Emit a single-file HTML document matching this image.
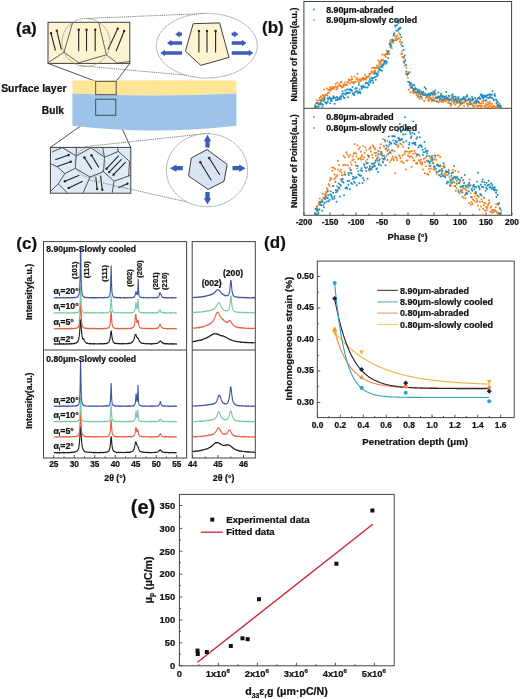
<!DOCTYPE html>
<html><head><meta charset="utf-8"><title>figure</title>
<style>html,body{margin:0;padding:0;background:#fff;width:520px;height:699px;overflow:hidden}svg{display:block;filter:blur(0.35px)}
text{font-family:"Liberation Sans",Arial,sans-serif;font-weight:bold;stroke:#111;stroke-width:0.22px}</style></head>
<body><svg width="520" height="699" viewBox="0 0 520 699">
<rect width="520" height="699" fill="#fff"/>
<text x="16" y="33.5" font-size="17" text-anchor="start" fill="#111" >(a)</text>
<line x1="48" y1="63.4" x2="95.7" y2="81.3" stroke="#404040" stroke-width="0.9" />
<line x1="129.8" y1="63.4" x2="116.2" y2="81.3" stroke="#404040" stroke-width="0.9" />
<line x1="95.7" y1="115.3" x2="50.4" y2="147.4" stroke="#404040" stroke-width="0.9" />
<line x1="115.8" y1="115.3" x2="130.8" y2="147.4" stroke="#404040" stroke-width="0.9" />
<path d="M72.4,80.6 Q154.5,79.8 236.4,80.6 L236.4,93.6 Q154.5,97.4 72.4,93.6 Z" fill="#ffe696"/>
<path d="M72.4,93.6 Q154.5,97.4 236.4,93.6 L236.4,125.8 Q154.5,135.2 72.4,125.8 Z" fill="#9dc3e8"/>
<rect x="95.7" y="81.3" width="20.5" height="13.4" fill="none" stroke="#404040" stroke-width="0.9"/>
<rect x="95.7" y="99.2" width="20.1" height="16.1" fill="none" stroke="#404040" stroke-width="0.9"/>
<text x="1.2" y="91.9" font-size="10.4" text-anchor="start" fill="#111" >Surface layer</text>
<text x="41.8" y="113.5" font-size="10.2" text-anchor="start" fill="#111" >Bulk</text>
<rect x="48" y="22.3" width="81.8" height="41.1" fill="#fff4d2" stroke="#404040" stroke-width="1"/>
<line x1="72.7" y1="22.3" x2="64" y2="52.2" stroke="#404040" stroke-width="0.8" />
<line x1="64" y1="52.2" x2="48.5" y2="62.5" stroke="#404040" stroke-width="0.8" />
<line x1="64" y1="52.2" x2="79.6" y2="63.4" stroke="#404040" stroke-width="0.8" />
<line x1="98.6" y1="22.3" x2="106.4" y2="54.8" stroke="#404040" stroke-width="0.8" />
<line x1="106.4" y1="54.8" x2="78.7" y2="62.8" stroke="#404040" stroke-width="0.8" />
<line x1="106.4" y1="54.8" x2="117.7" y2="63.4" stroke="#404040" stroke-width="0.8" />
<line x1="117.7" y1="63" x2="129.8" y2="61.5" stroke="#404040" stroke-width="0.8" />
<line x1="55.4" y1="50.5" x2="51" y2="33.2" stroke="#262626" stroke-width="1.1" />
<circle cx="51" cy="33.2" r="1.2" fill="#262626"/>
<line x1="61.4" y1="49.6" x2="56.8" y2="30.6" stroke="#262626" stroke-width="1.1" />
<circle cx="56.8" cy="30.6" r="1.2" fill="#262626"/>
<line x1="78.7" y1="51.3" x2="78.7" y2="29.7" stroke="#262626" stroke-width="1.1" />
<circle cx="78.7" cy="29.7" r="1.2" fill="#262626"/>
<line x1="86.5" y1="51.3" x2="86.5" y2="29.7" stroke="#262626" stroke-width="1.1" />
<circle cx="86.5" cy="29.7" r="1.2" fill="#262626"/>
<line x1="95.2" y1="51.3" x2="95.2" y2="29.7" stroke="#262626" stroke-width="1.1" />
<circle cx="95.2" cy="29.7" r="1.2" fill="#262626"/>
<line x1="108" y1="49.6" x2="117.7" y2="28.8" stroke="#262626" stroke-width="1.1" />
<circle cx="117.7" cy="28.8" r="1.2" fill="#262626"/>
<line x1="116" y1="51.3" x2="124.2" y2="31" stroke="#262626" stroke-width="1.1" />
<circle cx="124.2" cy="31" r="1.2" fill="#262626"/>
<circle cx="86" cy="42.5" r="24" fill="none" stroke="#878d78" stroke-width="1" stroke-dasharray="1.2,0.7"/>
<line x1="86" y1="18.5" x2="205" y2="13.5" stroke="#878d78" stroke-width="1" stroke-dasharray="1.2,0.7"/>
<line x1="80" y1="65.6" x2="212" y2="77.6" stroke="#878d78" stroke-width="1" stroke-dasharray="1.2,0.7"/>
<ellipse cx="206.8" cy="45.7" rx="50.5" ry="32.3" fill="#fff" stroke="#878d78" stroke-width="1" stroke-dasharray="1.2,0.7"/>
<polygon points="193.2,23.7 219.6,22.9 229,57.4 200.8,65.4 185.4,51.2" fill="#fff4d2" stroke="#404040" stroke-width="1" />
<line x1="198.9" y1="52.5" x2="198.9" y2="31" stroke="#262626" stroke-width="1.1" />
<circle cx="198.9" cy="31" r="1.2" fill="#262626"/>
<line x1="207" y1="52.5" x2="207" y2="31" stroke="#262626" stroke-width="1.1" />
<circle cx="207" cy="31" r="1.2" fill="#262626"/>
<line x1="215.6" y1="52.5" x2="215.6" y2="31" stroke="#262626" stroke-width="1.1" />
<circle cx="215.6" cy="31" r="1.2" fill="#262626"/>
<polygon points="182,32.55 179.7,32.55 179.7,31 175.2,34.2 179.7,37.4 179.7,35.85 182,35.85" fill="#3d5eb8" stroke="none" stroke-width="0" />
<polygon points="182,41.35 171.5,41.35 171.5,39.8 167,43 171.5,46.2 171.5,44.65 182,44.65" fill="#3d5eb8" stroke="none" stroke-width="0" />
<polygon points="182,51.35 164.9,51.35 164.9,49.8 160.4,53 164.9,56.2 164.9,54.65 182,54.65" fill="#3d5eb8" stroke="none" stroke-width="0" />
<polygon points="231.7,35.85 234,35.85 234,37.4 238.5,34.2 234,31 234,32.55 231.7,32.55" fill="#3d5eb8" stroke="none" stroke-width="0" />
<polygon points="231.7,44.65 242,44.65 242,46.2 246.5,43 242,39.8 242,41.35 231.7,41.35" fill="#3d5eb8" stroke="none" stroke-width="0" />
<polygon points="231.7,54.65 248.8,54.65 248.8,56.2 253.3,53 248.8,49.8 248.8,51.35 231.7,51.35" fill="#3d5eb8" stroke="none" stroke-width="0" />
<rect x="50.4" y="147.4" width="80.4" height="45.8" fill="#deebf7" stroke="#404040" stroke-width="1"/>
<line x1="51.8" y1="152" x2="62.4" y2="147.6" stroke="#404040" stroke-width="0.9" />
<line x1="62.4" y1="147.6" x2="76.2" y2="156" stroke="#404040" stroke-width="0.9" />
<line x1="76.2" y1="156" x2="76.3" y2="147.6" stroke="#404040" stroke-width="0.9" />
<line x1="50.5" y1="163.5" x2="57.3" y2="166.8" stroke="#404040" stroke-width="0.9" />
<line x1="57.3" y1="166.8" x2="64.9" y2="173.6" stroke="#404040" stroke-width="0.9" />
<line x1="64.9" y1="173.6" x2="75.3" y2="168.3" stroke="#404040" stroke-width="0.9" />
<line x1="64.9" y1="173.6" x2="58.2" y2="183.8" stroke="#404040" stroke-width="0.9" />
<line x1="58.2" y1="183.8" x2="50.5" y2="191.4" stroke="#404040" stroke-width="0.9" />
<line x1="58.2" y1="183.8" x2="67.5" y2="193" stroke="#404040" stroke-width="0.9" />
<line x1="90" y1="177" x2="83" y2="193" stroke="#404040" stroke-width="0.9" />
<line x1="76.2" y1="156" x2="91" y2="147.7" stroke="#404040" stroke-width="0.9" />
<line x1="91" y1="147.7" x2="104.5" y2="157.3" stroke="#404040" stroke-width="0.9" />
<line x1="104.5" y1="157.3" x2="103.5" y2="171.7" stroke="#404040" stroke-width="0.9" />
<line x1="103.5" y1="171.7" x2="90" y2="177" stroke="#404040" stroke-width="0.9" />
<line x1="90" y1="177" x2="75.3" y2="168.3" stroke="#404040" stroke-width="0.9" />
<line x1="75.3" y1="168.3" x2="76.2" y2="156" stroke="#404040" stroke-width="0.9" />
<line x1="102.7" y1="147.6" x2="104.5" y2="157.3" stroke="#404040" stroke-width="0.9" />
<line x1="104.5" y1="157.3" x2="118.3" y2="151.4" stroke="#404040" stroke-width="0.9" />
<line x1="118.3" y1="151.4" x2="117.4" y2="147.6" stroke="#404040" stroke-width="0.9" />
<line x1="118.3" y1="151.4" x2="129.5" y2="161.3" stroke="#404040" stroke-width="0.9" />
<line x1="129.5" y1="161.3" x2="128.7" y2="176" stroke="#404040" stroke-width="0.9" />
<line x1="128.7" y1="176" x2="114" y2="181.2" stroke="#404040" stroke-width="0.9" />
<line x1="114" y1="181.2" x2="103.5" y2="171.7" stroke="#404040" stroke-width="0.9" />
<line x1="114" y1="181.2" x2="112.2" y2="192.8" stroke="#404040" stroke-width="0.9" />
<line x1="128.7" y1="176" x2="130.8" y2="175.5" stroke="#404040" stroke-width="0.9" />
<line x1="55.2" y1="159.7" x2="68.7" y2="155" stroke="#262626" stroke-width="1.1" />
<circle cx="68.7" cy="155" r="1.2" fill="#262626"/>
<line x1="57.3" y1="166.4" x2="70.8" y2="161.8" stroke="#262626" stroke-width="1.1" />
<circle cx="70.8" cy="161.8" r="1.2" fill="#262626"/>
<line x1="79.3" y1="175.3" x2="64.9" y2="181.2" stroke="#262626" stroke-width="1.1" />
<circle cx="64.9" cy="181.2" r="1.2" fill="#262626"/>
<line x1="82.7" y1="181.2" x2="68.7" y2="188" stroke="#262626" stroke-width="1.1" />
<circle cx="68.7" cy="188" r="1.2" fill="#262626"/>
<line x1="92" y1="169.4" x2="84.4" y2="157.5" stroke="#262626" stroke-width="1.1" />
<circle cx="84.4" cy="157.5" r="1.2" fill="#262626"/>
<line x1="98.8" y1="167.4" x2="91.5" y2="155.2" stroke="#262626" stroke-width="1.1" />
<circle cx="91.5" cy="155.2" r="1.2" fill="#262626"/>
<line x1="118.7" y1="155.7" x2="106.6" y2="168.7" stroke="#262626" stroke-width="1.1" />
<circle cx="106.6" cy="168.7" r="1.2" fill="#262626"/>
<line x1="121.7" y1="159.1" x2="109.2" y2="172.1" stroke="#262626" stroke-width="1.1" />
<circle cx="109.2" cy="172.1" r="1.2" fill="#262626"/>
<line x1="125.6" y1="162.2" x2="113.5" y2="174.7" stroke="#262626" stroke-width="1.1" />
<circle cx="113.5" cy="174.7" r="1.2" fill="#262626"/>
<line x1="95.8" y1="177.3" x2="97.1" y2="189" stroke="#262626" stroke-width="1.1" />
<circle cx="97.1" cy="189" r="1.2" fill="#262626"/>
<line x1="100.5" y1="175.6" x2="102.3" y2="189.8" stroke="#262626" stroke-width="1.1" />
<circle cx="102.3" cy="189.8" r="1.2" fill="#262626"/>
<line x1="118.3" y1="187.7" x2="127.4" y2="183.8" stroke="#262626" stroke-width="1.1" />
<circle cx="127.4" cy="183.8" r="1.2" fill="#262626"/>
<circle cx="90" cy="162.3" r="15" fill="none" stroke="#878d78" stroke-width="0.9" stroke-dasharray="1.2,0.7"/>
<line x1="85" y1="146.6" x2="210" y2="133.2" stroke="#878d78" stroke-width="1" stroke-dasharray="1.2,0.7"/>
<line x1="88" y1="179.6" x2="205" y2="206" stroke="#878d78" stroke-width="1" stroke-dasharray="1.2,0.7"/>
<ellipse cx="207" cy="170.2" rx="40.6" ry="36.5" fill="#fff" stroke="#878d78" stroke-width="1" stroke-dasharray="1.2,0.7"/>
<polygon points="207.1,149.6 227.2,164.4 224,181.3 208.2,189.4 188.5,176 191.3,158" fill="#dae3f3" stroke="#404040" stroke-width="1" />
<line x1="211.3" y1="180.3" x2="200.3" y2="162.3" stroke="#262626" stroke-width="1.1" />
<circle cx="200.3" cy="162.3" r="1.2" fill="#262626"/>
<line x1="219.8" y1="175" x2="209.2" y2="158" stroke="#262626" stroke-width="1.1" />
<circle cx="209.2" cy="158" r="1.2" fill="#262626"/>
<polygon points="209.65,147.5 209.65,141.2 211.2,141.2 207.5,134.8 203.8,141.2 205.35,141.2 205.35,147.5" fill="#3d5eb8" stroke="none" stroke-width="0" />
<polygon points="205.35,192 205.35,198.2 203.8,198.2 207.5,204.6 211.2,198.2 209.65,198.2 209.65,192" fill="#3d5eb8" stroke="none" stroke-width="0" />
<polygon points="182.8,166.05 176.4,166.05 176.4,164.5 170,168.2 176.4,171.9 176.4,170.35 182.8,170.35" fill="#3d5eb8" stroke="none" stroke-width="0" />
<polygon points="232.5,170.35 239.2,170.35 239.2,171.9 245.6,168.2 239.2,164.5 239.2,166.05 232.5,166.05" fill="#3d5eb8" stroke="none" stroke-width="0" />
<rect x="303.9" y="1.5" width="207.70000000000005" height="213.8" fill="#fff" stroke="#444" stroke-width="1"/>
<line x1="303.9" y1="108.3" x2="511.6" y2="108.3" stroke="#444" stroke-width="1" />
<path d="M313.7,107.5a1.0,1.0 0 1,0 2,0a1.0,1.0 0 1,0 -2,0M314.44,105.93a1.0,1.0 0 1,0 2,0a1.0,1.0 0 1,0 -2,0M314.75,106.15a1.0,1.0 0 1,0 2,0a1.0,1.0 0 1,0 -2,0M315.34,106.68a1.0,1.0 0 1,0 2,0a1.0,1.0 0 1,0 -2,0M315.95,100.16a1.0,1.0 0 1,0 2,0a1.0,1.0 0 1,0 -2,0M316.41,103.1a1.0,1.0 0 1,0 2,0a1.0,1.0 0 1,0 -2,0M317.2,103.27a1.0,1.0 0 1,0 2,0a1.0,1.0 0 1,0 -2,0M317.49,104.23a1.0,1.0 0 1,0 2,0a1.0,1.0 0 1,0 -2,0M317.93,100.57a1.0,1.0 0 1,0 2,0a1.0,1.0 0 1,0 -2,0M318.64,97.89a1.0,1.0 0 1,0 2,0a1.0,1.0 0 1,0 -2,0M319.22,99.99a1.0,1.0 0 1,0 2,0a1.0,1.0 0 1,0 -2,0M319.84,101.77a1.0,1.0 0 1,0 2,0a1.0,1.0 0 1,0 -2,0M319.96,96.55a1.0,1.0 0 1,0 2,0a1.0,1.0 0 1,0 -2,0M320.67,99.62a1.0,1.0 0 1,0 2,0a1.0,1.0 0 1,0 -2,0M321.24,98.05a1.0,1.0 0 1,0 2,0a1.0,1.0 0 1,0 -2,0M321.77,95.35a1.0,1.0 0 1,0 2,0a1.0,1.0 0 1,0 -2,0M322.47,94.98a1.0,1.0 0 1,0 2,0a1.0,1.0 0 1,0 -2,0M322.86,96.13a1.0,1.0 0 1,0 2,0a1.0,1.0 0 1,0 -2,0M323.17,89.51a1.0,1.0 0 1,0 2,0a1.0,1.0 0 1,0 -2,0M323.78,96.65a1.0,1.0 0 1,0 2,0a1.0,1.0 0 1,0 -2,0M324.46,94.96a1.0,1.0 0 1,0 2,0a1.0,1.0 0 1,0 -2,0M325.03,94.71a1.0,1.0 0 1,0 2,0a1.0,1.0 0 1,0 -2,0M325.56,94.17a1.0,1.0 0 1,0 2,0a1.0,1.0 0 1,0 -2,0M325.84,88.52a1.0,1.0 0 1,0 2,0a1.0,1.0 0 1,0 -2,0M326.22,95.54a1.0,1.0 0 1,0 2,0a1.0,1.0 0 1,0 -2,0M326.91,92.93a1.0,1.0 0 1,0 2,0a1.0,1.0 0 1,0 -2,0M327.4,90.09a1.0,1.0 0 1,0 2,0a1.0,1.0 0 1,0 -2,0M328.06,92.58a1.0,1.0 0 1,0 2,0a1.0,1.0 0 1,0 -2,0M328.25,89.7a1.0,1.0 0 1,0 2,0a1.0,1.0 0 1,0 -2,0M329.15,87.24a1.0,1.0 0 1,0 2,0a1.0,1.0 0 1,0 -2,0M329.59,90.39a1.0,1.0 0 1,0 2,0a1.0,1.0 0 1,0 -2,0M329.86,88.81a1.0,1.0 0 1,0 2,0a1.0,1.0 0 1,0 -2,0M330.38,88.61a1.0,1.0 0 1,0 2,0a1.0,1.0 0 1,0 -2,0M331.27,89.04a1.0,1.0 0 1,0 2,0a1.0,1.0 0 1,0 -2,0M331.52,86.77a1.0,1.0 0 1,0 2,0a1.0,1.0 0 1,0 -2,0M332.38,88.23a1.0,1.0 0 1,0 2,0a1.0,1.0 0 1,0 -2,0M332.43,87.71a1.0,1.0 0 1,0 2,0a1.0,1.0 0 1,0 -2,0M332.98,88.41a1.0,1.0 0 1,0 2,0a1.0,1.0 0 1,0 -2,0M333.5,87.55a1.0,1.0 0 1,0 2,0a1.0,1.0 0 1,0 -2,0M334.45,86.42a1.0,1.0 0 1,0 2,0a1.0,1.0 0 1,0 -2,0M334.65,83.78a1.0,1.0 0 1,0 2,0a1.0,1.0 0 1,0 -2,0M335.39,89.43a1.0,1.0 0 1,0 2,0a1.0,1.0 0 1,0 -2,0M336.01,87.31a1.0,1.0 0 1,0 2,0a1.0,1.0 0 1,0 -2,0M336.4,82.55a1.0,1.0 0 1,0 2,0a1.0,1.0 0 1,0 -2,0M336.56,88.16a1.0,1.0 0 1,0 2,0a1.0,1.0 0 1,0 -2,0M337.42,85.63a1.0,1.0 0 1,0 2,0a1.0,1.0 0 1,0 -2,0M338.09,84.47a1.0,1.0 0 1,0 2,0a1.0,1.0 0 1,0 -2,0M338.22,84.33a1.0,1.0 0 1,0 2,0a1.0,1.0 0 1,0 -2,0M339.09,86.11a1.0,1.0 0 1,0 2,0a1.0,1.0 0 1,0 -2,0M339.56,82.38a1.0,1.0 0 1,0 2,0a1.0,1.0 0 1,0 -2,0M340.07,85.98a1.0,1.0 0 1,0 2,0a1.0,1.0 0 1,0 -2,0M340.59,81.66a1.0,1.0 0 1,0 2,0a1.0,1.0 0 1,0 -2,0M340.91,87.43a1.0,1.0 0 1,0 2,0a1.0,1.0 0 1,0 -2,0M341.31,86.93a1.0,1.0 0 1,0 2,0a1.0,1.0 0 1,0 -2,0M342.16,84.57a1.0,1.0 0 1,0 2,0a1.0,1.0 0 1,0 -2,0M342.6,86.77a1.0,1.0 0 1,0 2,0a1.0,1.0 0 1,0 -2,0M342.79,85.57a1.0,1.0 0 1,0 2,0a1.0,1.0 0 1,0 -2,0M343.79,82.59a1.0,1.0 0 1,0 2,0a1.0,1.0 0 1,0 -2,0M343.93,84.8a1.0,1.0 0 1,0 2,0a1.0,1.0 0 1,0 -2,0M344.64,84.67a1.0,1.0 0 1,0 2,0a1.0,1.0 0 1,0 -2,0M345.33,84.96a1.0,1.0 0 1,0 2,0a1.0,1.0 0 1,0 -2,0M345.85,84.44a1.0,1.0 0 1,0 2,0a1.0,1.0 0 1,0 -2,0M346.18,84.71a1.0,1.0 0 1,0 2,0a1.0,1.0 0 1,0 -2,0M346.52,82.16a1.0,1.0 0 1,0 2,0a1.0,1.0 0 1,0 -2,0M347.19,82.18a1.0,1.0 0 1,0 2,0a1.0,1.0 0 1,0 -2,0M347.73,79.17a1.0,1.0 0 1,0 2,0a1.0,1.0 0 1,0 -2,0M348.27,80.49a1.0,1.0 0 1,0 2,0a1.0,1.0 0 1,0 -2,0M348.76,83.44a1.0,1.0 0 1,0 2,0a1.0,1.0 0 1,0 -2,0M349.25,80.12a1.0,1.0 0 1,0 2,0a1.0,1.0 0 1,0 -2,0M349.9,79.69a1.0,1.0 0 1,0 2,0a1.0,1.0 0 1,0 -2,0M350.55,82.05a1.0,1.0 0 1,0 2,0a1.0,1.0 0 1,0 -2,0M350.71,76.84a1.0,1.0 0 1,0 2,0a1.0,1.0 0 1,0 -2,0M351.17,79.05a1.0,1.0 0 1,0 2,0a1.0,1.0 0 1,0 -2,0M351.75,82.48a1.0,1.0 0 1,0 2,0a1.0,1.0 0 1,0 -2,0M352.61,82.15a1.0,1.0 0 1,0 2,0a1.0,1.0 0 1,0 -2,0M352.73,83.44a1.0,1.0 0 1,0 2,0a1.0,1.0 0 1,0 -2,0M353.68,76.55a1.0,1.0 0 1,0 2,0a1.0,1.0 0 1,0 -2,0M354.13,81.79a1.0,1.0 0 1,0 2,0a1.0,1.0 0 1,0 -2,0M354.4,82.12a1.0,1.0 0 1,0 2,0a1.0,1.0 0 1,0 -2,0M354.75,81.82a1.0,1.0 0 1,0 2,0a1.0,1.0 0 1,0 -2,0M355.43,79.04a1.0,1.0 0 1,0 2,0a1.0,1.0 0 1,0 -2,0M356.29,77.82a1.0,1.0 0 1,0 2,0a1.0,1.0 0 1,0 -2,0M356.44,73.8a1.0,1.0 0 1,0 2,0a1.0,1.0 0 1,0 -2,0M356.89,80.27a1.0,1.0 0 1,0 2,0a1.0,1.0 0 1,0 -2,0M357.47,81.44a1.0,1.0 0 1,0 2,0a1.0,1.0 0 1,0 -2,0M358.22,82.98a1.0,1.0 0 1,0 2,0a1.0,1.0 0 1,0 -2,0M358.6,79.24a1.0,1.0 0 1,0 2,0a1.0,1.0 0 1,0 -2,0M359.32,80.95a1.0,1.0 0 1,0 2,0a1.0,1.0 0 1,0 -2,0M359.87,80.68a1.0,1.0 0 1,0 2,0a1.0,1.0 0 1,0 -2,0M360.42,78.91a1.0,1.0 0 1,0 2,0a1.0,1.0 0 1,0 -2,0M360.58,79.32a1.0,1.0 0 1,0 2,0a1.0,1.0 0 1,0 -2,0M361.08,78.83a1.0,1.0 0 1,0 2,0a1.0,1.0 0 1,0 -2,0M361.65,79.57a1.0,1.0 0 1,0 2,0a1.0,1.0 0 1,0 -2,0M362.03,77.67a1.0,1.0 0 1,0 2,0a1.0,1.0 0 1,0 -2,0M362.83,77.89a1.0,1.0 0 1,0 2,0a1.0,1.0 0 1,0 -2,0M363.12,79.5a1.0,1.0 0 1,0 2,0a1.0,1.0 0 1,0 -2,0M364.01,74.73a1.0,1.0 0 1,0 2,0a1.0,1.0 0 1,0 -2,0M364.61,78.17a1.0,1.0 0 1,0 2,0a1.0,1.0 0 1,0 -2,0M364.95,79.69a1.0,1.0 0 1,0 2,0a1.0,1.0 0 1,0 -2,0M365.21,77.04a1.0,1.0 0 1,0 2,0a1.0,1.0 0 1,0 -2,0M365.74,77.13a1.0,1.0 0 1,0 2,0a1.0,1.0 0 1,0 -2,0M366.53,77.39a1.0,1.0 0 1,0 2,0a1.0,1.0 0 1,0 -2,0M366.94,76.54a1.0,1.0 0 1,0 2,0a1.0,1.0 0 1,0 -2,0M367.72,76.61a1.0,1.0 0 1,0 2,0a1.0,1.0 0 1,0 -2,0M368.24,73.82a1.0,1.0 0 1,0 2,0a1.0,1.0 0 1,0 -2,0M368.46,75.89a1.0,1.0 0 1,0 2,0a1.0,1.0 0 1,0 -2,0M369.04,74.06a1.0,1.0 0 1,0 2,0a1.0,1.0 0 1,0 -2,0M369.51,73.38a1.0,1.0 0 1,0 2,0a1.0,1.0 0 1,0 -2,0M369.94,73.13a1.0,1.0 0 1,0 2,0a1.0,1.0 0 1,0 -2,0M370.68,71.3a1.0,1.0 0 1,0 2,0a1.0,1.0 0 1,0 -2,0M371.03,67.95a1.0,1.0 0 1,0 2,0a1.0,1.0 0 1,0 -2,0M371.71,71.93a1.0,1.0 0 1,0 2,0a1.0,1.0 0 1,0 -2,0M372.23,72.86a1.0,1.0 0 1,0 2,0a1.0,1.0 0 1,0 -2,0M372.69,67.4a1.0,1.0 0 1,0 2,0a1.0,1.0 0 1,0 -2,0M373.37,70.97a1.0,1.0 0 1,0 2,0a1.0,1.0 0 1,0 -2,0M373.82,68.42a1.0,1.0 0 1,0 2,0a1.0,1.0 0 1,0 -2,0M374.17,70.99a1.0,1.0 0 1,0 2,0a1.0,1.0 0 1,0 -2,0M374.83,72.68a1.0,1.0 0 1,0 2,0a1.0,1.0 0 1,0 -2,0M375.02,67.43a1.0,1.0 0 1,0 2,0a1.0,1.0 0 1,0 -2,0M375.82,65.47a1.0,1.0 0 1,0 2,0a1.0,1.0 0 1,0 -2,0M376.19,67.44a1.0,1.0 0 1,0 2,0a1.0,1.0 0 1,0 -2,0M376.69,68.06a1.0,1.0 0 1,0 2,0a1.0,1.0 0 1,0 -2,0M377.3,60.45a1.0,1.0 0 1,0 2,0a1.0,1.0 0 1,0 -2,0M377.94,66.04a1.0,1.0 0 1,0 2,0a1.0,1.0 0 1,0 -2,0M378.27,64.07a1.0,1.0 0 1,0 2,0a1.0,1.0 0 1,0 -2,0M378.67,62.05a1.0,1.0 0 1,0 2,0a1.0,1.0 0 1,0 -2,0M379.54,63.73a1.0,1.0 0 1,0 2,0a1.0,1.0 0 1,0 -2,0M379.94,60.61a1.0,1.0 0 1,0 2,0a1.0,1.0 0 1,0 -2,0M380.32,61.63a1.0,1.0 0 1,0 2,0a1.0,1.0 0 1,0 -2,0M380.98,59.85a1.0,1.0 0 1,0 2,0a1.0,1.0 0 1,0 -2,0M381.4,54.49a1.0,1.0 0 1,0 2,0a1.0,1.0 0 1,0 -2,0M382.08,64.02a1.0,1.0 0 1,0 2,0a1.0,1.0 0 1,0 -2,0M382.37,60.12a1.0,1.0 0 1,0 2,0a1.0,1.0 0 1,0 -2,0M383.19,54.83a1.0,1.0 0 1,0 2,0a1.0,1.0 0 1,0 -2,0M383.35,61.03a1.0,1.0 0 1,0 2,0a1.0,1.0 0 1,0 -2,0M384.02,55.58a1.0,1.0 0 1,0 2,0a1.0,1.0 0 1,0 -2,0M384.82,57.09a1.0,1.0 0 1,0 2,0a1.0,1.0 0 1,0 -2,0M384.96,53.9a1.0,1.0 0 1,0 2,0a1.0,1.0 0 1,0 -2,0M385.57,50.6a1.0,1.0 0 1,0 2,0a1.0,1.0 0 1,0 -2,0M386.25,54.44a1.0,1.0 0 1,0 2,0a1.0,1.0 0 1,0 -2,0M386.49,53.76a1.0,1.0 0 1,0 2,0a1.0,1.0 0 1,0 -2,0M387.47,53.85a1.0,1.0 0 1,0 2,0a1.0,1.0 0 1,0 -2,0M387.6,51.67a1.0,1.0 0 1,0 2,0a1.0,1.0 0 1,0 -2,0M388.44,54.07a1.0,1.0 0 1,0 2,0a1.0,1.0 0 1,0 -2,0M388.83,41.49a1.0,1.0 0 1,0 2,0a1.0,1.0 0 1,0 -2,0M389.29,44.94a1.0,1.0 0 1,0 2,0a1.0,1.0 0 1,0 -2,0M389.61,40.11a1.0,1.0 0 1,0 2,0a1.0,1.0 0 1,0 -2,0M390.28,43.21a1.0,1.0 0 1,0 2,0a1.0,1.0 0 1,0 -2,0M390.76,48.32a1.0,1.0 0 1,0 2,0a1.0,1.0 0 1,0 -2,0M391.35,39.61a1.0,1.0 0 1,0 2,0a1.0,1.0 0 1,0 -2,0M392.13,42.75a1.0,1.0 0 1,0 2,0a1.0,1.0 0 1,0 -2,0M392.7,40.47a1.0,1.0 0 1,0 2,0a1.0,1.0 0 1,0 -2,0M392.75,40.43a1.0,1.0 0 1,0 2,0a1.0,1.0 0 1,0 -2,0M393.35,40.53a1.0,1.0 0 1,0 2,0a1.0,1.0 0 1,0 -2,0M393.95,35.71a1.0,1.0 0 1,0 2,0a1.0,1.0 0 1,0 -2,0M394.44,40.28a1.0,1.0 0 1,0 2,0a1.0,1.0 0 1,0 -2,0M394.85,38.61a1.0,1.0 0 1,0 2,0a1.0,1.0 0 1,0 -2,0M395.41,36.9a1.0,1.0 0 1,0 2,0a1.0,1.0 0 1,0 -2,0M396.05,39.8a1.0,1.0 0 1,0 2,0a1.0,1.0 0 1,0 -2,0M396.35,35.61a1.0,1.0 0 1,0 2,0a1.0,1.0 0 1,0 -2,0M397.11,38.83a1.0,1.0 0 1,0 2,0a1.0,1.0 0 1,0 -2,0M397.86,37.97a1.0,1.0 0 1,0 2,0a1.0,1.0 0 1,0 -2,0M398.03,33.3a1.0,1.0 0 1,0 2,0a1.0,1.0 0 1,0 -2,0M398.77,41.75a1.0,1.0 0 1,0 2,0a1.0,1.0 0 1,0 -2,0M399.34,39.8a1.0,1.0 0 1,0 2,0a1.0,1.0 0 1,0 -2,0M399.87,44.14a1.0,1.0 0 1,0 2,0a1.0,1.0 0 1,0 -2,0M400.14,53.93a1.0,1.0 0 1,0 2,0a1.0,1.0 0 1,0 -2,0M400.86,51.53a1.0,1.0 0 1,0 2,0a1.0,1.0 0 1,0 -2,0M401.32,53.84a1.0,1.0 0 1,0 2,0a1.0,1.0 0 1,0 -2,0M401.55,57.06a1.0,1.0 0 1,0 2,0a1.0,1.0 0 1,0 -2,0M402.4,61.58a1.0,1.0 0 1,0 2,0a1.0,1.0 0 1,0 -2,0M402.71,57.92a1.0,1.0 0 1,0 2,0a1.0,1.0 0 1,0 -2,0M403.11,61.7a1.0,1.0 0 1,0 2,0a1.0,1.0 0 1,0 -2,0M403.75,65.55a1.0,1.0 0 1,0 2,0a1.0,1.0 0 1,0 -2,0M404.16,61.28a1.0,1.0 0 1,0 2,0a1.0,1.0 0 1,0 -2,0M404.76,73.52a1.0,1.0 0 1,0 2,0a1.0,1.0 0 1,0 -2,0M405.29,67.67a1.0,1.0 0 1,0 2,0a1.0,1.0 0 1,0 -2,0M405.82,74.02a1.0,1.0 0 1,0 2,0a1.0,1.0 0 1,0 -2,0M406.72,81.8a1.0,1.0 0 1,0 2,0a1.0,1.0 0 1,0 -2,0M406.96,77.77a1.0,1.0 0 1,0 2,0a1.0,1.0 0 1,0 -2,0M407.46,72.14a1.0,1.0 0 1,0 2,0a1.0,1.0 0 1,0 -2,0M407.81,89.8a1.0,1.0 0 1,0 2,0a1.0,1.0 0 1,0 -2,0M408.76,83.68a1.0,1.0 0 1,0 2,0a1.0,1.0 0 1,0 -2,0M408.99,72.29a1.0,1.0 0 1,0 2,0a1.0,1.0 0 1,0 -2,0M409.36,92.32a1.0,1.0 0 1,0 2,0a1.0,1.0 0 1,0 -2,0M410.03,83.15a1.0,1.0 0 1,0 2,0a1.0,1.0 0 1,0 -2,0M410.56,87.23a1.0,1.0 0 1,0 2,0a1.0,1.0 0 1,0 -2,0M411.01,87.69a1.0,1.0 0 1,0 2,0a1.0,1.0 0 1,0 -2,0M411.64,92.2a1.0,1.0 0 1,0 2,0a1.0,1.0 0 1,0 -2,0M412.42,90.76a1.0,1.0 0 1,0 2,0a1.0,1.0 0 1,0 -2,0M412.48,92.52a1.0,1.0 0 1,0 2,0a1.0,1.0 0 1,0 -2,0M413,93.25a1.0,1.0 0 1,0 2,0a1.0,1.0 0 1,0 -2,0M413.63,91.84a1.0,1.0 0 1,0 2,0a1.0,1.0 0 1,0 -2,0M414.16,87.52a1.0,1.0 0 1,0 2,0a1.0,1.0 0 1,0 -2,0M414.91,91.98a1.0,1.0 0 1,0 2,0a1.0,1.0 0 1,0 -2,0M415.45,94.95a1.0,1.0 0 1,0 2,0a1.0,1.0 0 1,0 -2,0M415.59,92.33a1.0,1.0 0 1,0 2,0a1.0,1.0 0 1,0 -2,0M416.6,96.93a1.0,1.0 0 1,0 2,0a1.0,1.0 0 1,0 -2,0M416.88,96.09a1.0,1.0 0 1,0 2,0a1.0,1.0 0 1,0 -2,0M417.52,94.53a1.0,1.0 0 1,0 2,0a1.0,1.0 0 1,0 -2,0M417.83,91.89a1.0,1.0 0 1,0 2,0a1.0,1.0 0 1,0 -2,0M418.22,97.32a1.0,1.0 0 1,0 2,0a1.0,1.0 0 1,0 -2,0M418.73,99.05a1.0,1.0 0 1,0 2,0a1.0,1.0 0 1,0 -2,0M419.73,96.3a1.0,1.0 0 1,0 2,0a1.0,1.0 0 1,0 -2,0M419.78,91.49a1.0,1.0 0 1,0 2,0a1.0,1.0 0 1,0 -2,0M420.49,97.47a1.0,1.0 0 1,0 2,0a1.0,1.0 0 1,0 -2,0M421.13,98.42a1.0,1.0 0 1,0 2,0a1.0,1.0 0 1,0 -2,0M421.36,92.02a1.0,1.0 0 1,0 2,0a1.0,1.0 0 1,0 -2,0M422.01,94.88a1.0,1.0 0 1,0 2,0a1.0,1.0 0 1,0 -2,0M422.47,95.11a1.0,1.0 0 1,0 2,0a1.0,1.0 0 1,0 -2,0M423.03,100.47a1.0,1.0 0 1,0 2,0a1.0,1.0 0 1,0 -2,0M423.5,101.04a1.0,1.0 0 1,0 2,0a1.0,1.0 0 1,0 -2,0M423.95,94.01a1.0,1.0 0 1,0 2,0a1.0,1.0 0 1,0 -2,0M424.9,97.79a1.0,1.0 0 1,0 2,0a1.0,1.0 0 1,0 -2,0M425.04,97.75a1.0,1.0 0 1,0 2,0a1.0,1.0 0 1,0 -2,0M425.65,96.94a1.0,1.0 0 1,0 2,0a1.0,1.0 0 1,0 -2,0M426.38,95.78a1.0,1.0 0 1,0 2,0a1.0,1.0 0 1,0 -2,0M426.82,97.37a1.0,1.0 0 1,0 2,0a1.0,1.0 0 1,0 -2,0M427.13,99.92a1.0,1.0 0 1,0 2,0a1.0,1.0 0 1,0 -2,0M427.65,100.97a1.0,1.0 0 1,0 2,0a1.0,1.0 0 1,0 -2,0M428.16,98.23a1.0,1.0 0 1,0 2,0a1.0,1.0 0 1,0 -2,0M428.86,99.56a1.0,1.0 0 1,0 2,0a1.0,1.0 0 1,0 -2,0M429.39,98.67a1.0,1.0 0 1,0 2,0a1.0,1.0 0 1,0 -2,0M429.98,97.63a1.0,1.0 0 1,0 2,0a1.0,1.0 0 1,0 -2,0M430.64,99.43a1.0,1.0 0 1,0 2,0a1.0,1.0 0 1,0 -2,0M430.88,101.19a1.0,1.0 0 1,0 2,0a1.0,1.0 0 1,0 -2,0M431.28,93.06a1.0,1.0 0 1,0 2,0a1.0,1.0 0 1,0 -2,0M432.17,97.27a1.0,1.0 0 1,0 2,0a1.0,1.0 0 1,0 -2,0M432.68,100.72a1.0,1.0 0 1,0 2,0a1.0,1.0 0 1,0 -2,0M433.03,99.25a1.0,1.0 0 1,0 2,0a1.0,1.0 0 1,0 -2,0M433.58,95.29a1.0,1.0 0 1,0 2,0a1.0,1.0 0 1,0 -2,0M433.93,101.01a1.0,1.0 0 1,0 2,0a1.0,1.0 0 1,0 -2,0M434.56,98.55a1.0,1.0 0 1,0 2,0a1.0,1.0 0 1,0 -2,0M434.89,93.9a1.0,1.0 0 1,0 2,0a1.0,1.0 0 1,0 -2,0M435.37,97.3a1.0,1.0 0 1,0 2,0a1.0,1.0 0 1,0 -2,0M436.18,98.51a1.0,1.0 0 1,0 2,0a1.0,1.0 0 1,0 -2,0M436.5,98.42a1.0,1.0 0 1,0 2,0a1.0,1.0 0 1,0 -2,0M437,102.08a1.0,1.0 0 1,0 2,0a1.0,1.0 0 1,0 -2,0M437.62,101.95a1.0,1.0 0 1,0 2,0a1.0,1.0 0 1,0 -2,0M438.41,101.02a1.0,1.0 0 1,0 2,0a1.0,1.0 0 1,0 -2,0M438.48,100.68a1.0,1.0 0 1,0 2,0a1.0,1.0 0 1,0 -2,0M439.27,99.11a1.0,1.0 0 1,0 2,0a1.0,1.0 0 1,0 -2,0M439.8,98.79a1.0,1.0 0 1,0 2,0a1.0,1.0 0 1,0 -2,0M440.25,101.69a1.0,1.0 0 1,0 2,0a1.0,1.0 0 1,0 -2,0M440.66,100.77a1.0,1.0 0 1,0 2,0a1.0,1.0 0 1,0 -2,0M441.15,96.61a1.0,1.0 0 1,0 2,0a1.0,1.0 0 1,0 -2,0M441.8,100.69a1.0,1.0 0 1,0 2,0a1.0,1.0 0 1,0 -2,0M442.12,101.9a1.0,1.0 0 1,0 2,0a1.0,1.0 0 1,0 -2,0M443.02,100.01a1.0,1.0 0 1,0 2,0a1.0,1.0 0 1,0 -2,0M443.34,100.71a1.0,1.0 0 1,0 2,0a1.0,1.0 0 1,0 -2,0M444.18,100.45a1.0,1.0 0 1,0 2,0a1.0,1.0 0 1,0 -2,0M444.69,96.86a1.0,1.0 0 1,0 2,0a1.0,1.0 0 1,0 -2,0M444.79,101.21a1.0,1.0 0 1,0 2,0a1.0,1.0 0 1,0 -2,0M445.4,96.06a1.0,1.0 0 1,0 2,0a1.0,1.0 0 1,0 -2,0M445.88,99.76a1.0,1.0 0 1,0 2,0a1.0,1.0 0 1,0 -2,0M446.74,99.98a1.0,1.0 0 1,0 2,0a1.0,1.0 0 1,0 -2,0M446.95,102.82a1.0,1.0 0 1,0 2,0a1.0,1.0 0 1,0 -2,0M447.79,101.54a1.0,1.0 0 1,0 2,0a1.0,1.0 0 1,0 -2,0M448.23,97.05a1.0,1.0 0 1,0 2,0a1.0,1.0 0 1,0 -2,0M448.53,103.13a1.0,1.0 0 1,0 2,0a1.0,1.0 0 1,0 -2,0M449.32,99.39a1.0,1.0 0 1,0 2,0a1.0,1.0 0 1,0 -2,0M449.59,105.69a1.0,1.0 0 1,0 2,0a1.0,1.0 0 1,0 -2,0M450.2,99.86a1.0,1.0 0 1,0 2,0a1.0,1.0 0 1,0 -2,0M450.51,104.45a1.0,1.0 0 1,0 2,0a1.0,1.0 0 1,0 -2,0M451.07,100.94a1.0,1.0 0 1,0 2,0a1.0,1.0 0 1,0 -2,0M451.81,96.83a1.0,1.0 0 1,0 2,0a1.0,1.0 0 1,0 -2,0M452.06,101.87a1.0,1.0 0 1,0 2,0a1.0,1.0 0 1,0 -2,0M452.97,100.24a1.0,1.0 0 1,0 2,0a1.0,1.0 0 1,0 -2,0M453.03,103.03a1.0,1.0 0 1,0 2,0a1.0,1.0 0 1,0 -2,0M453.73,101.95a1.0,1.0 0 1,0 2,0a1.0,1.0 0 1,0 -2,0M454.17,104.85a1.0,1.0 0 1,0 2,0a1.0,1.0 0 1,0 -2,0M455.07,100.28a1.0,1.0 0 1,0 2,0a1.0,1.0 0 1,0 -2,0M455.43,103.34a1.0,1.0 0 1,0 2,0a1.0,1.0 0 1,0 -2,0M455.76,99.37a1.0,1.0 0 1,0 2,0a1.0,1.0 0 1,0 -2,0M456.32,102.44a1.0,1.0 0 1,0 2,0a1.0,1.0 0 1,0 -2,0M457.04,100.38a1.0,1.0 0 1,0 2,0a1.0,1.0 0 1,0 -2,0M457.46,107.08a1.0,1.0 0 1,0 2,0a1.0,1.0 0 1,0 -2,0M458.11,103.29a1.0,1.0 0 1,0 2,0a1.0,1.0 0 1,0 -2,0M458.29,102.66a1.0,1.0 0 1,0 2,0a1.0,1.0 0 1,0 -2,0M459.07,105.36a1.0,1.0 0 1,0 2,0a1.0,1.0 0 1,0 -2,0M459.42,101.28a1.0,1.0 0 1,0 2,0a1.0,1.0 0 1,0 -2,0M460.15,103.95a1.0,1.0 0 1,0 2,0a1.0,1.0 0 1,0 -2,0M460.54,102.77a1.0,1.0 0 1,0 2,0a1.0,1.0 0 1,0 -2,0M460.87,100.22a1.0,1.0 0 1,0 2,0a1.0,1.0 0 1,0 -2,0M461.73,103.28a1.0,1.0 0 1,0 2,0a1.0,1.0 0 1,0 -2,0M462,98.7a1.0,1.0 0 1,0 2,0a1.0,1.0 0 1,0 -2,0M462.65,101.95a1.0,1.0 0 1,0 2,0a1.0,1.0 0 1,0 -2,0M463.01,105.91a1.0,1.0 0 1,0 2,0a1.0,1.0 0 1,0 -2,0M463.54,102.54a1.0,1.0 0 1,0 2,0a1.0,1.0 0 1,0 -2,0M464.11,97.54a1.0,1.0 0 1,0 2,0a1.0,1.0 0 1,0 -2,0M464.93,101.52a1.0,1.0 0 1,0 2,0a1.0,1.0 0 1,0 -2,0M465.49,100.43a1.0,1.0 0 1,0 2,0a1.0,1.0 0 1,0 -2,0M465.95,103.74a1.0,1.0 0 1,0 2,0a1.0,1.0 0 1,0 -2,0M466.18,104.32a1.0,1.0 0 1,0 2,0a1.0,1.0 0 1,0 -2,0M467.01,105.98a1.0,1.0 0 1,0 2,0a1.0,1.0 0 1,0 -2,0M467.54,103.44a1.0,1.0 0 1,0 2,0a1.0,1.0 0 1,0 -2,0M467.6,104.07a1.0,1.0 0 1,0 2,0a1.0,1.0 0 1,0 -2,0M468.48,100.18a1.0,1.0 0 1,0 2,0a1.0,1.0 0 1,0 -2,0M469.05,104.31a1.0,1.0 0 1,0 2,0a1.0,1.0 0 1,0 -2,0M469.59,98.97a1.0,1.0 0 1,0 2,0a1.0,1.0 0 1,0 -2,0M469.77,100.49a1.0,1.0 0 1,0 2,0a1.0,1.0 0 1,0 -2,0M470.6,103.61a1.0,1.0 0 1,0 2,0a1.0,1.0 0 1,0 -2,0M470.85,100.2a1.0,1.0 0 1,0 2,0a1.0,1.0 0 1,0 -2,0M471.33,103.89a1.0,1.0 0 1,0 2,0a1.0,1.0 0 1,0 -2,0M471.87,105.43a1.0,1.0 0 1,0 2,0a1.0,1.0 0 1,0 -2,0M472.43,106.78a1.0,1.0 0 1,0 2,0a1.0,1.0 0 1,0 -2,0M473.1,102.82a1.0,1.0 0 1,0 2,0a1.0,1.0 0 1,0 -2,0M473.7,103.87a1.0,1.0 0 1,0 2,0a1.0,1.0 0 1,0 -2,0M473.93,106.29a1.0,1.0 0 1,0 2,0a1.0,1.0 0 1,0 -2,0M474.43,102.77a1.0,1.0 0 1,0 2,0a1.0,1.0 0 1,0 -2,0M475.37,103.56a1.0,1.0 0 1,0 2,0a1.0,1.0 0 1,0 -2,0M475.79,103.67a1.0,1.0 0 1,0 2,0a1.0,1.0 0 1,0 -2,0M476.33,106.01a1.0,1.0 0 1,0 2,0a1.0,1.0 0 1,0 -2,0M476.53,107.5a1.0,1.0 0 1,0 2,0a1.0,1.0 0 1,0 -2,0M477.27,101.3a1.0,1.0 0 1,0 2,0a1.0,1.0 0 1,0 -2,0M477.87,105.69a1.0,1.0 0 1,0 2,0a1.0,1.0 0 1,0 -2,0M478.19,102.36a1.0,1.0 0 1,0 2,0a1.0,1.0 0 1,0 -2,0M478.51,103.31a1.0,1.0 0 1,0 2,0a1.0,1.0 0 1,0 -2,0M479.28,105.6a1.0,1.0 0 1,0 2,0a1.0,1.0 0 1,0 -2,0M479.78,107.14a1.0,1.0 0 1,0 2,0a1.0,1.0 0 1,0 -2,0M480.4,103.32a1.0,1.0 0 1,0 2,0a1.0,1.0 0 1,0 -2,0M481.02,105.69a1.0,1.0 0 1,0 2,0a1.0,1.0 0 1,0 -2,0M481.33,101.07a1.0,1.0 0 1,0 2,0a1.0,1.0 0 1,0 -2,0M481.86,101.34a1.0,1.0 0 1,0 2,0a1.0,1.0 0 1,0 -2,0M482.3,103.18a1.0,1.0 0 1,0 2,0a1.0,1.0 0 1,0 -2,0M482.74,100.24a1.0,1.0 0 1,0 2,0a1.0,1.0 0 1,0 -2,0M483.26,106.31a1.0,1.0 0 1,0 2,0a1.0,1.0 0 1,0 -2,0M484.08,105.66a1.0,1.0 0 1,0 2,0a1.0,1.0 0 1,0 -2,0M484.42,107.5a1.0,1.0 0 1,0 2,0a1.0,1.0 0 1,0 -2,0M484.97,104.1a1.0,1.0 0 1,0 2,0a1.0,1.0 0 1,0 -2,0M485.37,107.5a1.0,1.0 0 1,0 2,0a1.0,1.0 0 1,0 -2,0M486.19,105.07a1.0,1.0 0 1,0 2,0a1.0,1.0 0 1,0 -2,0M486.54,102.37a1.0,1.0 0 1,0 2,0a1.0,1.0 0 1,0 -2,0M487.21,107.23a1.0,1.0 0 1,0 2,0a1.0,1.0 0 1,0 -2,0M487.73,103.73a1.0,1.0 0 1,0 2,0a1.0,1.0 0 1,0 -2,0M488.32,105.85a1.0,1.0 0 1,0 2,0a1.0,1.0 0 1,0 -2,0M488.73,101.82a1.0,1.0 0 1,0 2,0a1.0,1.0 0 1,0 -2,0M489.23,103.42a1.0,1.0 0 1,0 2,0a1.0,1.0 0 1,0 -2,0M489.79,106.72a1.0,1.0 0 1,0 2,0a1.0,1.0 0 1,0 -2,0M490.18,104.29a1.0,1.0 0 1,0 2,0a1.0,1.0 0 1,0 -2,0M490.94,104.06a1.0,1.0 0 1,0 2,0a1.0,1.0 0 1,0 -2,0M491.18,107.5a1.0,1.0 0 1,0 2,0a1.0,1.0 0 1,0 -2,0M491.78,106.26a1.0,1.0 0 1,0 2,0a1.0,1.0 0 1,0 -2,0M492.29,107.5a1.0,1.0 0 1,0 2,0a1.0,1.0 0 1,0 -2,0M492.91,107.5a1.0,1.0 0 1,0 2,0a1.0,1.0 0 1,0 -2,0M493.33,106.01a1.0,1.0 0 1,0 2,0a1.0,1.0 0 1,0 -2,0M493.94,107.5a1.0,1.0 0 1,0 2,0a1.0,1.0 0 1,0 -2,0M494.61,107.5a1.0,1.0 0 1,0 2,0a1.0,1.0 0 1,0 -2,0M494.83,107.22a1.0,1.0 0 1,0 2,0a1.0,1.0 0 1,0 -2,0M495.5,106.94a1.0,1.0 0 1,0 2,0a1.0,1.0 0 1,0 -2,0M496.05,107.5a1.0,1.0 0 1,0 2,0a1.0,1.0 0 1,0 -2,0M496.6,106.01a1.0,1.0 0 1,0 2,0a1.0,1.0 0 1,0 -2,0M497.1,107.5a1.0,1.0 0 1,0 2,0a1.0,1.0 0 1,0 -2,0M497.51,104.35a1.0,1.0 0 1,0 2,0a1.0,1.0 0 1,0 -2,0M498.07,107.5a1.0,1.0 0 1,0 2,0a1.0,1.0 0 1,0 -2,0M498.41,103.82a1.0,1.0 0 1,0 2,0a1.0,1.0 0 1,0 -2,0M498.96,107.29a1.0,1.0 0 1,0 2,0a1.0,1.0 0 1,0 -2,0M499.43,106.35a1.0,1.0 0 1,0 2,0a1.0,1.0 0 1,0 -2,0M500.2,107.5a1.0,1.0 0 1,0 2,0a1.0,1.0 0 1,0 -2,0" fill="#f2841f"/>
<path d="M314,107.14a1.0,1.0 0 1,0 2,0a1.0,1.0 0 1,0 -2,0M314.21,105.35a1.0,1.0 0 1,0 2,0a1.0,1.0 0 1,0 -2,0M314.74,107.5a1.0,1.0 0 1,0 2,0a1.0,1.0 0 1,0 -2,0M315.28,103.13a1.0,1.0 0 1,0 2,0a1.0,1.0 0 1,0 -2,0M316.04,102.78a1.0,1.0 0 1,0 2,0a1.0,1.0 0 1,0 -2,0M316.71,106.87a1.0,1.0 0 1,0 2,0a1.0,1.0 0 1,0 -2,0M316.94,106.58a1.0,1.0 0 1,0 2,0a1.0,1.0 0 1,0 -2,0M317.63,106.82a1.0,1.0 0 1,0 2,0a1.0,1.0 0 1,0 -2,0M317.85,104.54a1.0,1.0 0 1,0 2,0a1.0,1.0 0 1,0 -2,0M318.5,104.02a1.0,1.0 0 1,0 2,0a1.0,1.0 0 1,0 -2,0M319.27,102.92a1.0,1.0 0 1,0 2,0a1.0,1.0 0 1,0 -2,0M319.65,104.51a1.0,1.0 0 1,0 2,0a1.0,1.0 0 1,0 -2,0M320.41,103.87a1.0,1.0 0 1,0 2,0a1.0,1.0 0 1,0 -2,0M320.5,100.58a1.0,1.0 0 1,0 2,0a1.0,1.0 0 1,0 -2,0M321.34,106.67a1.0,1.0 0 1,0 2,0a1.0,1.0 0 1,0 -2,0M321.82,104.55a1.0,1.0 0 1,0 2,0a1.0,1.0 0 1,0 -2,0M322.42,100.77a1.0,1.0 0 1,0 2,0a1.0,1.0 0 1,0 -2,0M322.53,99.39a1.0,1.0 0 1,0 2,0a1.0,1.0 0 1,0 -2,0M323.45,98.12a1.0,1.0 0 1,0 2,0a1.0,1.0 0 1,0 -2,0M323.55,99.54a1.0,1.0 0 1,0 2,0a1.0,1.0 0 1,0 -2,0M324.09,102.35a1.0,1.0 0 1,0 2,0a1.0,1.0 0 1,0 -2,0M324.78,102.76a1.0,1.0 0 1,0 2,0a1.0,1.0 0 1,0 -2,0M325.39,103.52a1.0,1.0 0 1,0 2,0a1.0,1.0 0 1,0 -2,0M325.76,103.08a1.0,1.0 0 1,0 2,0a1.0,1.0 0 1,0 -2,0M326.64,98.15a1.0,1.0 0 1,0 2,0a1.0,1.0 0 1,0 -2,0M326.78,101.56a1.0,1.0 0 1,0 2,0a1.0,1.0 0 1,0 -2,0M327.18,99.2a1.0,1.0 0 1,0 2,0a1.0,1.0 0 1,0 -2,0M328.2,98.52a1.0,1.0 0 1,0 2,0a1.0,1.0 0 1,0 -2,0M328.57,97.23a1.0,1.0 0 1,0 2,0a1.0,1.0 0 1,0 -2,0M329.19,103.17a1.0,1.0 0 1,0 2,0a1.0,1.0 0 1,0 -2,0M329.31,98.15a1.0,1.0 0 1,0 2,0a1.0,1.0 0 1,0 -2,0M329.89,100.45a1.0,1.0 0 1,0 2,0a1.0,1.0 0 1,0 -2,0M330.3,99.11a1.0,1.0 0 1,0 2,0a1.0,1.0 0 1,0 -2,0M330.83,101a1.0,1.0 0 1,0 2,0a1.0,1.0 0 1,0 -2,0M331.47,98.21a1.0,1.0 0 1,0 2,0a1.0,1.0 0 1,0 -2,0M332.3,98.23a1.0,1.0 0 1,0 2,0a1.0,1.0 0 1,0 -2,0M332.42,96.32a1.0,1.0 0 1,0 2,0a1.0,1.0 0 1,0 -2,0M333.33,97.67a1.0,1.0 0 1,0 2,0a1.0,1.0 0 1,0 -2,0M333.69,103.79a1.0,1.0 0 1,0 2,0a1.0,1.0 0 1,0 -2,0M334.21,97.77a1.0,1.0 0 1,0 2,0a1.0,1.0 0 1,0 -2,0M334.6,100.31a1.0,1.0 0 1,0 2,0a1.0,1.0 0 1,0 -2,0M335.26,99.8a1.0,1.0 0 1,0 2,0a1.0,1.0 0 1,0 -2,0M335.92,96.99a1.0,1.0 0 1,0 2,0a1.0,1.0 0 1,0 -2,0M336.45,99.95a1.0,1.0 0 1,0 2,0a1.0,1.0 0 1,0 -2,0M336.72,97.77a1.0,1.0 0 1,0 2,0a1.0,1.0 0 1,0 -2,0M337.19,98.96a1.0,1.0 0 1,0 2,0a1.0,1.0 0 1,0 -2,0M338.07,99.34a1.0,1.0 0 1,0 2,0a1.0,1.0 0 1,0 -2,0M338.21,98.87a1.0,1.0 0 1,0 2,0a1.0,1.0 0 1,0 -2,0M338.94,97.17a1.0,1.0 0 1,0 2,0a1.0,1.0 0 1,0 -2,0M339.48,97.85a1.0,1.0 0 1,0 2,0a1.0,1.0 0 1,0 -2,0M340.13,99.08a1.0,1.0 0 1,0 2,0a1.0,1.0 0 1,0 -2,0M340.27,96.09a1.0,1.0 0 1,0 2,0a1.0,1.0 0 1,0 -2,0M341.21,93.92a1.0,1.0 0 1,0 2,0a1.0,1.0 0 1,0 -2,0M341.6,91.33a1.0,1.0 0 1,0 2,0a1.0,1.0 0 1,0 -2,0M342.21,96.34a1.0,1.0 0 1,0 2,0a1.0,1.0 0 1,0 -2,0M342.77,97.75a1.0,1.0 0 1,0 2,0a1.0,1.0 0 1,0 -2,0M342.85,93.4a1.0,1.0 0 1,0 2,0a1.0,1.0 0 1,0 -2,0M343.57,97.97a1.0,1.0 0 1,0 2,0a1.0,1.0 0 1,0 -2,0M344.25,90.55a1.0,1.0 0 1,0 2,0a1.0,1.0 0 1,0 -2,0M344.47,94.4a1.0,1.0 0 1,0 2,0a1.0,1.0 0 1,0 -2,0M344.93,94.07a1.0,1.0 0 1,0 2,0a1.0,1.0 0 1,0 -2,0M345.68,92.52a1.0,1.0 0 1,0 2,0a1.0,1.0 0 1,0 -2,0M346.16,89.49a1.0,1.0 0 1,0 2,0a1.0,1.0 0 1,0 -2,0M346.65,93.19a1.0,1.0 0 1,0 2,0a1.0,1.0 0 1,0 -2,0M347.03,97.36a1.0,1.0 0 1,0 2,0a1.0,1.0 0 1,0 -2,0M347.63,92.79a1.0,1.0 0 1,0 2,0a1.0,1.0 0 1,0 -2,0M348.04,89.41a1.0,1.0 0 1,0 2,0a1.0,1.0 0 1,0 -2,0M348.9,92.85a1.0,1.0 0 1,0 2,0a1.0,1.0 0 1,0 -2,0M349.49,89.2a1.0,1.0 0 1,0 2,0a1.0,1.0 0 1,0 -2,0M349.81,90.46a1.0,1.0 0 1,0 2,0a1.0,1.0 0 1,0 -2,0M350.31,89.65a1.0,1.0 0 1,0 2,0a1.0,1.0 0 1,0 -2,0M351.07,90.64a1.0,1.0 0 1,0 2,0a1.0,1.0 0 1,0 -2,0M351.54,86.96a1.0,1.0 0 1,0 2,0a1.0,1.0 0 1,0 -2,0M351.66,93.38a1.0,1.0 0 1,0 2,0a1.0,1.0 0 1,0 -2,0M352.55,94.41a1.0,1.0 0 1,0 2,0a1.0,1.0 0 1,0 -2,0M353,93.25a1.0,1.0 0 1,0 2,0a1.0,1.0 0 1,0 -2,0M353.29,95.35a1.0,1.0 0 1,0 2,0a1.0,1.0 0 1,0 -2,0M354.21,88.85a1.0,1.0 0 1,0 2,0a1.0,1.0 0 1,0 -2,0M354.49,91.93a1.0,1.0 0 1,0 2,0a1.0,1.0 0 1,0 -2,0M355.12,91.14a1.0,1.0 0 1,0 2,0a1.0,1.0 0 1,0 -2,0M355.27,88.03a1.0,1.0 0 1,0 2,0a1.0,1.0 0 1,0 -2,0M355.81,88.16a1.0,1.0 0 1,0 2,0a1.0,1.0 0 1,0 -2,0M356.35,91.2a1.0,1.0 0 1,0 2,0a1.0,1.0 0 1,0 -2,0M356.96,93.27a1.0,1.0 0 1,0 2,0a1.0,1.0 0 1,0 -2,0M357.77,85.06a1.0,1.0 0 1,0 2,0a1.0,1.0 0 1,0 -2,0M358.16,92.02a1.0,1.0 0 1,0 2,0a1.0,1.0 0 1,0 -2,0M358.74,89.51a1.0,1.0 0 1,0 2,0a1.0,1.0 0 1,0 -2,0M359.23,93.3a1.0,1.0 0 1,0 2,0a1.0,1.0 0 1,0 -2,0M359.45,92.15a1.0,1.0 0 1,0 2,0a1.0,1.0 0 1,0 -2,0M360.23,86.25a1.0,1.0 0 1,0 2,0a1.0,1.0 0 1,0 -2,0M360.73,87.8a1.0,1.0 0 1,0 2,0a1.0,1.0 0 1,0 -2,0M361.01,88.71a1.0,1.0 0 1,0 2,0a1.0,1.0 0 1,0 -2,0M361.89,86.75a1.0,1.0 0 1,0 2,0a1.0,1.0 0 1,0 -2,0M362.2,85.86a1.0,1.0 0 1,0 2,0a1.0,1.0 0 1,0 -2,0M362.92,87a1.0,1.0 0 1,0 2,0a1.0,1.0 0 1,0 -2,0M363.55,87.47a1.0,1.0 0 1,0 2,0a1.0,1.0 0 1,0 -2,0M363.84,87.07a1.0,1.0 0 1,0 2,0a1.0,1.0 0 1,0 -2,0M364.46,83.58a1.0,1.0 0 1,0 2,0a1.0,1.0 0 1,0 -2,0M364.99,82.88a1.0,1.0 0 1,0 2,0a1.0,1.0 0 1,0 -2,0M365.17,83.03a1.0,1.0 0 1,0 2,0a1.0,1.0 0 1,0 -2,0M365.79,87.51a1.0,1.0 0 1,0 2,0a1.0,1.0 0 1,0 -2,0M366.63,87.43a1.0,1.0 0 1,0 2,0a1.0,1.0 0 1,0 -2,0M366.85,83.01a1.0,1.0 0 1,0 2,0a1.0,1.0 0 1,0 -2,0M367.36,84.19a1.0,1.0 0 1,0 2,0a1.0,1.0 0 1,0 -2,0M367.87,85.14a1.0,1.0 0 1,0 2,0a1.0,1.0 0 1,0 -2,0M368.26,81.2a1.0,1.0 0 1,0 2,0a1.0,1.0 0 1,0 -2,0M368.88,78.93a1.0,1.0 0 1,0 2,0a1.0,1.0 0 1,0 -2,0M369.35,82.76a1.0,1.0 0 1,0 2,0a1.0,1.0 0 1,0 -2,0M369.98,81.04a1.0,1.0 0 1,0 2,0a1.0,1.0 0 1,0 -2,0M370.73,77.81a1.0,1.0 0 1,0 2,0a1.0,1.0 0 1,0 -2,0M371.06,78.71a1.0,1.0 0 1,0 2,0a1.0,1.0 0 1,0 -2,0M371.76,80.45a1.0,1.0 0 1,0 2,0a1.0,1.0 0 1,0 -2,0M372.36,82.77a1.0,1.0 0 1,0 2,0a1.0,1.0 0 1,0 -2,0M372.49,77.88a1.0,1.0 0 1,0 2,0a1.0,1.0 0 1,0 -2,0M373.36,73.66a1.0,1.0 0 1,0 2,0a1.0,1.0 0 1,0 -2,0M373.82,73.36a1.0,1.0 0 1,0 2,0a1.0,1.0 0 1,0 -2,0M374.05,76.99a1.0,1.0 0 1,0 2,0a1.0,1.0 0 1,0 -2,0M374.79,79.76a1.0,1.0 0 1,0 2,0a1.0,1.0 0 1,0 -2,0M375.27,73.67a1.0,1.0 0 1,0 2,0a1.0,1.0 0 1,0 -2,0M375.8,76.13a1.0,1.0 0 1,0 2,0a1.0,1.0 0 1,0 -2,0M376.44,73.66a1.0,1.0 0 1,0 2,0a1.0,1.0 0 1,0 -2,0M376.96,74.69a1.0,1.0 0 1,0 2,0a1.0,1.0 0 1,0 -2,0M377.36,71.82a1.0,1.0 0 1,0 2,0a1.0,1.0 0 1,0 -2,0M378.02,67.94a1.0,1.0 0 1,0 2,0a1.0,1.0 0 1,0 -2,0M378.22,69.75a1.0,1.0 0 1,0 2,0a1.0,1.0 0 1,0 -2,0M378.96,69.27a1.0,1.0 0 1,0 2,0a1.0,1.0 0 1,0 -2,0M379.53,70.02a1.0,1.0 0 1,0 2,0a1.0,1.0 0 1,0 -2,0M379.97,66.63a1.0,1.0 0 1,0 2,0a1.0,1.0 0 1,0 -2,0M380.68,65.42a1.0,1.0 0 1,0 2,0a1.0,1.0 0 1,0 -2,0M380.75,70.66a1.0,1.0 0 1,0 2,0a1.0,1.0 0 1,0 -2,0M381.49,67.06a1.0,1.0 0 1,0 2,0a1.0,1.0 0 1,0 -2,0M381.89,64.98a1.0,1.0 0 1,0 2,0a1.0,1.0 0 1,0 -2,0M382.8,64.39a1.0,1.0 0 1,0 2,0a1.0,1.0 0 1,0 -2,0M383.28,62.87a1.0,1.0 0 1,0 2,0a1.0,1.0 0 1,0 -2,0M383.59,61.35a1.0,1.0 0 1,0 2,0a1.0,1.0 0 1,0 -2,0M384.09,62.41a1.0,1.0 0 1,0 2,0a1.0,1.0 0 1,0 -2,0M384.54,60.88a1.0,1.0 0 1,0 2,0a1.0,1.0 0 1,0 -2,0M385.34,63.62a1.0,1.0 0 1,0 2,0a1.0,1.0 0 1,0 -2,0M385.89,61.81a1.0,1.0 0 1,0 2,0a1.0,1.0 0 1,0 -2,0M386.46,53.22a1.0,1.0 0 1,0 2,0a1.0,1.0 0 1,0 -2,0M386.6,51.86a1.0,1.0 0 1,0 2,0a1.0,1.0 0 1,0 -2,0M387.13,57.93a1.0,1.0 0 1,0 2,0a1.0,1.0 0 1,0 -2,0M387.77,51.34a1.0,1.0 0 1,0 2,0a1.0,1.0 0 1,0 -2,0M388.48,43.97a1.0,1.0 0 1,0 2,0a1.0,1.0 0 1,0 -2,0M389.03,43.38a1.0,1.0 0 1,0 2,0a1.0,1.0 0 1,0 -2,0M389.44,46.88a1.0,1.0 0 1,0 2,0a1.0,1.0 0 1,0 -2,0M389.73,45.75a1.0,1.0 0 1,0 2,0a1.0,1.0 0 1,0 -2,0M390.35,45.84a1.0,1.0 0 1,0 2,0a1.0,1.0 0 1,0 -2,0M391.13,41.19a1.0,1.0 0 1,0 2,0a1.0,1.0 0 1,0 -2,0M391.43,39.81a1.0,1.0 0 1,0 2,0a1.0,1.0 0 1,0 -2,0M391.77,41a1.0,1.0 0 1,0 2,0a1.0,1.0 0 1,0 -2,0M392.65,35.6a1.0,1.0 0 1,0 2,0a1.0,1.0 0 1,0 -2,0M392.8,34.23a1.0,1.0 0 1,0 2,0a1.0,1.0 0 1,0 -2,0M393.34,33.19a1.0,1.0 0 1,0 2,0a1.0,1.0 0 1,0 -2,0M394.13,25.57a1.0,1.0 0 1,0 2,0a1.0,1.0 0 1,0 -2,0M394.46,26.45a1.0,1.0 0 1,0 2,0a1.0,1.0 0 1,0 -2,0M395.28,30.54a1.0,1.0 0 1,0 2,0a1.0,1.0 0 1,0 -2,0M395.75,21.21a1.0,1.0 0 1,0 2,0a1.0,1.0 0 1,0 -2,0M396.03,24.91a1.0,1.0 0 1,0 2,0a1.0,1.0 0 1,0 -2,0M396.79,30.83a1.0,1.0 0 1,0 2,0a1.0,1.0 0 1,0 -2,0M397.33,28.99a1.0,1.0 0 1,0 2,0a1.0,1.0 0 1,0 -2,0M397.58,22.95a1.0,1.0 0 1,0 2,0a1.0,1.0 0 1,0 -2,0M398.41,28.31a1.0,1.0 0 1,0 2,0a1.0,1.0 0 1,0 -2,0M398.69,29.02a1.0,1.0 0 1,0 2,0a1.0,1.0 0 1,0 -2,0M399.28,34.82a1.0,1.0 0 1,0 2,0a1.0,1.0 0 1,0 -2,0M399.48,27.85a1.0,1.0 0 1,0 2,0a1.0,1.0 0 1,0 -2,0M400.32,37.17a1.0,1.0 0 1,0 2,0a1.0,1.0 0 1,0 -2,0M400.83,42.46a1.0,1.0 0 1,0 2,0a1.0,1.0 0 1,0 -2,0M401.29,45.99a1.0,1.0 0 1,0 2,0a1.0,1.0 0 1,0 -2,0M401.85,46.28a1.0,1.0 0 1,0 2,0a1.0,1.0 0 1,0 -2,0M402.56,50.05a1.0,1.0 0 1,0 2,0a1.0,1.0 0 1,0 -2,0M402.7,57.25a1.0,1.0 0 1,0 2,0a1.0,1.0 0 1,0 -2,0M403.26,62.65a1.0,1.0 0 1,0 2,0a1.0,1.0 0 1,0 -2,0M403.84,55.53a1.0,1.0 0 1,0 2,0a1.0,1.0 0 1,0 -2,0M404.26,59.91a1.0,1.0 0 1,0 2,0a1.0,1.0 0 1,0 -2,0M405.01,65.01a1.0,1.0 0 1,0 2,0a1.0,1.0 0 1,0 -2,0M405.44,71.62a1.0,1.0 0 1,0 2,0a1.0,1.0 0 1,0 -2,0M406.13,74.89a1.0,1.0 0 1,0 2,0a1.0,1.0 0 1,0 -2,0M406.37,75.03a1.0,1.0 0 1,0 2,0a1.0,1.0 0 1,0 -2,0M406.86,73.81a1.0,1.0 0 1,0 2,0a1.0,1.0 0 1,0 -2,0M407.34,73.79a1.0,1.0 0 1,0 2,0a1.0,1.0 0 1,0 -2,0M407.85,82.12a1.0,1.0 0 1,0 2,0a1.0,1.0 0 1,0 -2,0M408.77,85.16a1.0,1.0 0 1,0 2,0a1.0,1.0 0 1,0 -2,0M409.3,82.72a1.0,1.0 0 1,0 2,0a1.0,1.0 0 1,0 -2,0M409.73,87.81a1.0,1.0 0 1,0 2,0a1.0,1.0 0 1,0 -2,0M410.05,83.63a1.0,1.0 0 1,0 2,0a1.0,1.0 0 1,0 -2,0M410.53,86.13a1.0,1.0 0 1,0 2,0a1.0,1.0 0 1,0 -2,0M411.4,87.75a1.0,1.0 0 1,0 2,0a1.0,1.0 0 1,0 -2,0M411.85,84.8a1.0,1.0 0 1,0 2,0a1.0,1.0 0 1,0 -2,0M412.13,90.37a1.0,1.0 0 1,0 2,0a1.0,1.0 0 1,0 -2,0M412.93,89.03a1.0,1.0 0 1,0 2,0a1.0,1.0 0 1,0 -2,0M413.38,85.19a1.0,1.0 0 1,0 2,0a1.0,1.0 0 1,0 -2,0M413.98,89.67a1.0,1.0 0 1,0 2,0a1.0,1.0 0 1,0 -2,0M414.2,89.12a1.0,1.0 0 1,0 2,0a1.0,1.0 0 1,0 -2,0M414.68,92.44a1.0,1.0 0 1,0 2,0a1.0,1.0 0 1,0 -2,0M415.06,89.08a1.0,1.0 0 1,0 2,0a1.0,1.0 0 1,0 -2,0M416.07,92.8a1.0,1.0 0 1,0 2,0a1.0,1.0 0 1,0 -2,0M416.6,90.65a1.0,1.0 0 1,0 2,0a1.0,1.0 0 1,0 -2,0M416.84,89.43a1.0,1.0 0 1,0 2,0a1.0,1.0 0 1,0 -2,0M417.56,92.12a1.0,1.0 0 1,0 2,0a1.0,1.0 0 1,0 -2,0M417.98,92.69a1.0,1.0 0 1,0 2,0a1.0,1.0 0 1,0 -2,0M418.59,90.29a1.0,1.0 0 1,0 2,0a1.0,1.0 0 1,0 -2,0M418.83,92.52a1.0,1.0 0 1,0 2,0a1.0,1.0 0 1,0 -2,0M419.39,94.21a1.0,1.0 0 1,0 2,0a1.0,1.0 0 1,0 -2,0M419.88,96.5a1.0,1.0 0 1,0 2,0a1.0,1.0 0 1,0 -2,0M420.63,93.92a1.0,1.0 0 1,0 2,0a1.0,1.0 0 1,0 -2,0M421.1,92.18a1.0,1.0 0 1,0 2,0a1.0,1.0 0 1,0 -2,0M421.65,92.06a1.0,1.0 0 1,0 2,0a1.0,1.0 0 1,0 -2,0M422.11,93.26a1.0,1.0 0 1,0 2,0a1.0,1.0 0 1,0 -2,0M422.47,92.32a1.0,1.0 0 1,0 2,0a1.0,1.0 0 1,0 -2,0M423.16,95.19a1.0,1.0 0 1,0 2,0a1.0,1.0 0 1,0 -2,0M423.64,87.28a1.0,1.0 0 1,0 2,0a1.0,1.0 0 1,0 -2,0M424.42,94.05a1.0,1.0 0 1,0 2,0a1.0,1.0 0 1,0 -2,0M424.86,89.04a1.0,1.0 0 1,0 2,0a1.0,1.0 0 1,0 -2,0M425,94.99a1.0,1.0 0 1,0 2,0a1.0,1.0 0 1,0 -2,0M425.94,96.24a1.0,1.0 0 1,0 2,0a1.0,1.0 0 1,0 -2,0M426.12,95.13a1.0,1.0 0 1,0 2,0a1.0,1.0 0 1,0 -2,0M426.81,94.67a1.0,1.0 0 1,0 2,0a1.0,1.0 0 1,0 -2,0M427.09,94.27a1.0,1.0 0 1,0 2,0a1.0,1.0 0 1,0 -2,0M427.88,93.91a1.0,1.0 0 1,0 2,0a1.0,1.0 0 1,0 -2,0M428.41,96.07a1.0,1.0 0 1,0 2,0a1.0,1.0 0 1,0 -2,0M428.99,93.66a1.0,1.0 0 1,0 2,0a1.0,1.0 0 1,0 -2,0M429.31,95.28a1.0,1.0 0 1,0 2,0a1.0,1.0 0 1,0 -2,0M429.71,93.84a1.0,1.0 0 1,0 2,0a1.0,1.0 0 1,0 -2,0M430.3,93.05a1.0,1.0 0 1,0 2,0a1.0,1.0 0 1,0 -2,0M430.85,93.6a1.0,1.0 0 1,0 2,0a1.0,1.0 0 1,0 -2,0M431.37,99.68a1.0,1.0 0 1,0 2,0a1.0,1.0 0 1,0 -2,0M431.7,94.71a1.0,1.0 0 1,0 2,0a1.0,1.0 0 1,0 -2,0M432.43,91.41a1.0,1.0 0 1,0 2,0a1.0,1.0 0 1,0 -2,0M432.75,93.87a1.0,1.0 0 1,0 2,0a1.0,1.0 0 1,0 -2,0M433.31,92.19a1.0,1.0 0 1,0 2,0a1.0,1.0 0 1,0 -2,0M433.86,93.57a1.0,1.0 0 1,0 2,0a1.0,1.0 0 1,0 -2,0M434.36,90.51a1.0,1.0 0 1,0 2,0a1.0,1.0 0 1,0 -2,0M434.92,97.53a1.0,1.0 0 1,0 2,0a1.0,1.0 0 1,0 -2,0M435.59,101.32a1.0,1.0 0 1,0 2,0a1.0,1.0 0 1,0 -2,0M436.33,97.77a1.0,1.0 0 1,0 2,0a1.0,1.0 0 1,0 -2,0M436.79,96.52a1.0,1.0 0 1,0 2,0a1.0,1.0 0 1,0 -2,0M437.33,92.53a1.0,1.0 0 1,0 2,0a1.0,1.0 0 1,0 -2,0M437.69,96.6a1.0,1.0 0 1,0 2,0a1.0,1.0 0 1,0 -2,0M438.32,97.46a1.0,1.0 0 1,0 2,0a1.0,1.0 0 1,0 -2,0M438.85,99.12a1.0,1.0 0 1,0 2,0a1.0,1.0 0 1,0 -2,0M439.29,97.08a1.0,1.0 0 1,0 2,0a1.0,1.0 0 1,0 -2,0M439.72,95.3a1.0,1.0 0 1,0 2,0a1.0,1.0 0 1,0 -2,0M440.25,93.85a1.0,1.0 0 1,0 2,0a1.0,1.0 0 1,0 -2,0M440.79,99.87a1.0,1.0 0 1,0 2,0a1.0,1.0 0 1,0 -2,0M441.3,97.28a1.0,1.0 0 1,0 2,0a1.0,1.0 0 1,0 -2,0M441.65,96.04a1.0,1.0 0 1,0 2,0a1.0,1.0 0 1,0 -2,0M442.37,99.18a1.0,1.0 0 1,0 2,0a1.0,1.0 0 1,0 -2,0M443,96.7a1.0,1.0 0 1,0 2,0a1.0,1.0 0 1,0 -2,0M443.4,96.62a1.0,1.0 0 1,0 2,0a1.0,1.0 0 1,0 -2,0M444.11,98.54a1.0,1.0 0 1,0 2,0a1.0,1.0 0 1,0 -2,0M444.28,97.01a1.0,1.0 0 1,0 2,0a1.0,1.0 0 1,0 -2,0M445.18,92.01a1.0,1.0 0 1,0 2,0a1.0,1.0 0 1,0 -2,0M445.25,98.79a1.0,1.0 0 1,0 2,0a1.0,1.0 0 1,0 -2,0M446.21,97.68a1.0,1.0 0 1,0 2,0a1.0,1.0 0 1,0 -2,0M446.52,98.17a1.0,1.0 0 1,0 2,0a1.0,1.0 0 1,0 -2,0M447.04,98.18a1.0,1.0 0 1,0 2,0a1.0,1.0 0 1,0 -2,0M447.38,99.15a1.0,1.0 0 1,0 2,0a1.0,1.0 0 1,0 -2,0M447.91,95.85a1.0,1.0 0 1,0 2,0a1.0,1.0 0 1,0 -2,0M448.67,99.93a1.0,1.0 0 1,0 2,0a1.0,1.0 0 1,0 -2,0M449.16,99.91a1.0,1.0 0 1,0 2,0a1.0,1.0 0 1,0 -2,0M449.71,103.5a1.0,1.0 0 1,0 2,0a1.0,1.0 0 1,0 -2,0M450.42,98.58a1.0,1.0 0 1,0 2,0a1.0,1.0 0 1,0 -2,0M450.65,95.73a1.0,1.0 0 1,0 2,0a1.0,1.0 0 1,0 -2,0M451.37,98.15a1.0,1.0 0 1,0 2,0a1.0,1.0 0 1,0 -2,0M451.76,94.17a1.0,1.0 0 1,0 2,0a1.0,1.0 0 1,0 -2,0M452,98.24a1.0,1.0 0 1,0 2,0a1.0,1.0 0 1,0 -2,0M452.77,96.6a1.0,1.0 0 1,0 2,0a1.0,1.0 0 1,0 -2,0M453.36,99.46a1.0,1.0 0 1,0 2,0a1.0,1.0 0 1,0 -2,0M453.6,100.51a1.0,1.0 0 1,0 2,0a1.0,1.0 0 1,0 -2,0M454.37,98.98a1.0,1.0 0 1,0 2,0a1.0,1.0 0 1,0 -2,0M454.65,96.78a1.0,1.0 0 1,0 2,0a1.0,1.0 0 1,0 -2,0M455.15,98.67a1.0,1.0 0 1,0 2,0a1.0,1.0 0 1,0 -2,0M455.83,101.32a1.0,1.0 0 1,0 2,0a1.0,1.0 0 1,0 -2,0M456.43,101.88a1.0,1.0 0 1,0 2,0a1.0,1.0 0 1,0 -2,0M457.15,97.33a1.0,1.0 0 1,0 2,0a1.0,1.0 0 1,0 -2,0M457.2,98.88a1.0,1.0 0 1,0 2,0a1.0,1.0 0 1,0 -2,0M457.73,97.54a1.0,1.0 0 1,0 2,0a1.0,1.0 0 1,0 -2,0M458.71,101.72a1.0,1.0 0 1,0 2,0a1.0,1.0 0 1,0 -2,0M459,99.94a1.0,1.0 0 1,0 2,0a1.0,1.0 0 1,0 -2,0M459.42,99.56a1.0,1.0 0 1,0 2,0a1.0,1.0 0 1,0 -2,0M460.19,103.47a1.0,1.0 0 1,0 2,0a1.0,1.0 0 1,0 -2,0M460.69,103.34a1.0,1.0 0 1,0 2,0a1.0,1.0 0 1,0 -2,0M460.94,99.01a1.0,1.0 0 1,0 2,0a1.0,1.0 0 1,0 -2,0M461.51,99.24a1.0,1.0 0 1,0 2,0a1.0,1.0 0 1,0 -2,0M462.23,97.76a1.0,1.0 0 1,0 2,0a1.0,1.0 0 1,0 -2,0M462.79,97.01a1.0,1.0 0 1,0 2,0a1.0,1.0 0 1,0 -2,0M463.4,98.96a1.0,1.0 0 1,0 2,0a1.0,1.0 0 1,0 -2,0M463.56,99.58a1.0,1.0 0 1,0 2,0a1.0,1.0 0 1,0 -2,0M464.33,99.13a1.0,1.0 0 1,0 2,0a1.0,1.0 0 1,0 -2,0M464.58,100.8a1.0,1.0 0 1,0 2,0a1.0,1.0 0 1,0 -2,0M465.33,97.1a1.0,1.0 0 1,0 2,0a1.0,1.0 0 1,0 -2,0M465.86,95.3a1.0,1.0 0 1,0 2,0a1.0,1.0 0 1,0 -2,0M466.32,96.2a1.0,1.0 0 1,0 2,0a1.0,1.0 0 1,0 -2,0M466.58,100.23a1.0,1.0 0 1,0 2,0a1.0,1.0 0 1,0 -2,0M467.12,99.85a1.0,1.0 0 1,0 2,0a1.0,1.0 0 1,0 -2,0M467.59,98.88a1.0,1.0 0 1,0 2,0a1.0,1.0 0 1,0 -2,0M468.46,98.5a1.0,1.0 0 1,0 2,0a1.0,1.0 0 1,0 -2,0M468.81,102.33a1.0,1.0 0 1,0 2,0a1.0,1.0 0 1,0 -2,0M469.17,101.63a1.0,1.0 0 1,0 2,0a1.0,1.0 0 1,0 -2,0M469.72,104.24a1.0,1.0 0 1,0 2,0a1.0,1.0 0 1,0 -2,0M470.62,100.18a1.0,1.0 0 1,0 2,0a1.0,1.0 0 1,0 -2,0M471.03,97.03a1.0,1.0 0 1,0 2,0a1.0,1.0 0 1,0 -2,0M471.61,100.61a1.0,1.0 0 1,0 2,0a1.0,1.0 0 1,0 -2,0M471.75,98.86a1.0,1.0 0 1,0 2,0a1.0,1.0 0 1,0 -2,0M472.45,99.16a1.0,1.0 0 1,0 2,0a1.0,1.0 0 1,0 -2,0M473.22,102.44a1.0,1.0 0 1,0 2,0a1.0,1.0 0 1,0 -2,0M473.53,102.16a1.0,1.0 0 1,0 2,0a1.0,1.0 0 1,0 -2,0M474.1,98a1.0,1.0 0 1,0 2,0a1.0,1.0 0 1,0 -2,0M474.77,100.62a1.0,1.0 0 1,0 2,0a1.0,1.0 0 1,0 -2,0M475.26,101.28a1.0,1.0 0 1,0 2,0a1.0,1.0 0 1,0 -2,0M475.64,102.16a1.0,1.0 0 1,0 2,0a1.0,1.0 0 1,0 -2,0M476.08,100.43a1.0,1.0 0 1,0 2,0a1.0,1.0 0 1,0 -2,0M476.57,98.85a1.0,1.0 0 1,0 2,0a1.0,1.0 0 1,0 -2,0M477,98.19a1.0,1.0 0 1,0 2,0a1.0,1.0 0 1,0 -2,0M477.82,102.18a1.0,1.0 0 1,0 2,0a1.0,1.0 0 1,0 -2,0M478.19,97.17a1.0,1.0 0 1,0 2,0a1.0,1.0 0 1,0 -2,0M478.96,99.12a1.0,1.0 0 1,0 2,0a1.0,1.0 0 1,0 -2,0M479.49,98.67a1.0,1.0 0 1,0 2,0a1.0,1.0 0 1,0 -2,0M479.66,94.69a1.0,1.0 0 1,0 2,0a1.0,1.0 0 1,0 -2,0M480.45,94.19a1.0,1.0 0 1,0 2,0a1.0,1.0 0 1,0 -2,0M480.66,96.47a1.0,1.0 0 1,0 2,0a1.0,1.0 0 1,0 -2,0M481.19,95.5a1.0,1.0 0 1,0 2,0a1.0,1.0 0 1,0 -2,0M481.69,97.62a1.0,1.0 0 1,0 2,0a1.0,1.0 0 1,0 -2,0M482.24,98.22a1.0,1.0 0 1,0 2,0a1.0,1.0 0 1,0 -2,0M482.74,95.57a1.0,1.0 0 1,0 2,0a1.0,1.0 0 1,0 -2,0M483.45,96.63a1.0,1.0 0 1,0 2,0a1.0,1.0 0 1,0 -2,0M484.21,95.73a1.0,1.0 0 1,0 2,0a1.0,1.0 0 1,0 -2,0M484.27,100.72a1.0,1.0 0 1,0 2,0a1.0,1.0 0 1,0 -2,0M485.12,99.9a1.0,1.0 0 1,0 2,0a1.0,1.0 0 1,0 -2,0M485.32,97.04a1.0,1.0 0 1,0 2,0a1.0,1.0 0 1,0 -2,0M485.99,95.56a1.0,1.0 0 1,0 2,0a1.0,1.0 0 1,0 -2,0M486.63,95.1a1.0,1.0 0 1,0 2,0a1.0,1.0 0 1,0 -2,0M487.03,97.88a1.0,1.0 0 1,0 2,0a1.0,1.0 0 1,0 -2,0M487.64,97.95a1.0,1.0 0 1,0 2,0a1.0,1.0 0 1,0 -2,0M488.24,94.61a1.0,1.0 0 1,0 2,0a1.0,1.0 0 1,0 -2,0M488.82,96.51a1.0,1.0 0 1,0 2,0a1.0,1.0 0 1,0 -2,0M489.06,94.48a1.0,1.0 0 1,0 2,0a1.0,1.0 0 1,0 -2,0M489.83,97.87a1.0,1.0 0 1,0 2,0a1.0,1.0 0 1,0 -2,0M490.16,94.85a1.0,1.0 0 1,0 2,0a1.0,1.0 0 1,0 -2,0M490.81,94.74a1.0,1.0 0 1,0 2,0a1.0,1.0 0 1,0 -2,0M491.38,98.06a1.0,1.0 0 1,0 2,0a1.0,1.0 0 1,0 -2,0M491.52,91.17a1.0,1.0 0 1,0 2,0a1.0,1.0 0 1,0 -2,0M492.51,99.54a1.0,1.0 0 1,0 2,0a1.0,1.0 0 1,0 -2,0M492.82,100.19a1.0,1.0 0 1,0 2,0a1.0,1.0 0 1,0 -2,0M493.49,95.12a1.0,1.0 0 1,0 2,0a1.0,1.0 0 1,0 -2,0M493.69,94.1a1.0,1.0 0 1,0 2,0a1.0,1.0 0 1,0 -2,0M494.16,96.09a1.0,1.0 0 1,0 2,0a1.0,1.0 0 1,0 -2,0M494.76,99.41a1.0,1.0 0 1,0 2,0a1.0,1.0 0 1,0 -2,0M495.36,103.03a1.0,1.0 0 1,0 2,0a1.0,1.0 0 1,0 -2,0M495.78,100.59a1.0,1.0 0 1,0 2,0a1.0,1.0 0 1,0 -2,0M496.29,105a1.0,1.0 0 1,0 2,0a1.0,1.0 0 1,0 -2,0M496.77,102.19a1.0,1.0 0 1,0 2,0a1.0,1.0 0 1,0 -2,0M497.46,105.39a1.0,1.0 0 1,0 2,0a1.0,1.0 0 1,0 -2,0M497.92,105.98a1.0,1.0 0 1,0 2,0a1.0,1.0 0 1,0 -2,0M498.5,107.5a1.0,1.0 0 1,0 2,0a1.0,1.0 0 1,0 -2,0M499.21,105.41a1.0,1.0 0 1,0 2,0a1.0,1.0 0 1,0 -2,0M499.5,107.5a1.0,1.0 0 1,0 2,0a1.0,1.0 0 1,0 -2,0M499.82,106.24a1.0,1.0 0 1,0 2,0a1.0,1.0 0 1,0 -2,0" fill="#1f8fbf"/>
<path d="M313.91,214.5a1.0,1.0 0 1,0 2,0a1.0,1.0 0 1,0 -2,0M314.37,213.86a1.0,1.0 0 1,0 2,0a1.0,1.0 0 1,0 -2,0M315.13,208.45a1.0,1.0 0 1,0 2,0a1.0,1.0 0 1,0 -2,0M315.65,207.07a1.0,1.0 0 1,0 2,0a1.0,1.0 0 1,0 -2,0M316.23,208.61a1.0,1.0 0 1,0 2,0a1.0,1.0 0 1,0 -2,0M316.33,206.11a1.0,1.0 0 1,0 2,0a1.0,1.0 0 1,0 -2,0M316.86,212.16a1.0,1.0 0 1,0 2,0a1.0,1.0 0 1,0 -2,0M317.76,202.99a1.0,1.0 0 1,0 2,0a1.0,1.0 0 1,0 -2,0M318.28,201.71a1.0,1.0 0 1,0 2,0a1.0,1.0 0 1,0 -2,0M318.7,198.43a1.0,1.0 0 1,0 2,0a1.0,1.0 0 1,0 -2,0M319.32,202.15a1.0,1.0 0 1,0 2,0a1.0,1.0 0 1,0 -2,0M319.45,201.4a1.0,1.0 0 1,0 2,0a1.0,1.0 0 1,0 -2,0M319.98,201.35a1.0,1.0 0 1,0 2,0a1.0,1.0 0 1,0 -2,0M320.87,200.59a1.0,1.0 0 1,0 2,0a1.0,1.0 0 1,0 -2,0M321.23,199.74a1.0,1.0 0 1,0 2,0a1.0,1.0 0 1,0 -2,0M321.68,193.65a1.0,1.0 0 1,0 2,0a1.0,1.0 0 1,0 -2,0M322.31,197.41a1.0,1.0 0 1,0 2,0a1.0,1.0 0 1,0 -2,0M322.98,197.53a1.0,1.0 0 1,0 2,0a1.0,1.0 0 1,0 -2,0M323.27,203.33a1.0,1.0 0 1,0 2,0a1.0,1.0 0 1,0 -2,0M323.87,194.53a1.0,1.0 0 1,0 2,0a1.0,1.0 0 1,0 -2,0M324.31,199.07a1.0,1.0 0 1,0 2,0a1.0,1.0 0 1,0 -2,0M324.81,192.18a1.0,1.0 0 1,0 2,0a1.0,1.0 0 1,0 -2,0M325.25,193.79a1.0,1.0 0 1,0 2,0a1.0,1.0 0 1,0 -2,0M325.76,188.31a1.0,1.0 0 1,0 2,0a1.0,1.0 0 1,0 -2,0M326.55,189.67a1.0,1.0 0 1,0 2,0a1.0,1.0 0 1,0 -2,0M326.96,191.29a1.0,1.0 0 1,0 2,0a1.0,1.0 0 1,0 -2,0M327.56,184.06a1.0,1.0 0 1,0 2,0a1.0,1.0 0 1,0 -2,0M327.86,184.52a1.0,1.0 0 1,0 2,0a1.0,1.0 0 1,0 -2,0M328.54,186.08a1.0,1.0 0 1,0 2,0a1.0,1.0 0 1,0 -2,0M329.06,180.57a1.0,1.0 0 1,0 2,0a1.0,1.0 0 1,0 -2,0M329.57,178.08a1.0,1.0 0 1,0 2,0a1.0,1.0 0 1,0 -2,0M330.02,179.05a1.0,1.0 0 1,0 2,0a1.0,1.0 0 1,0 -2,0M330.32,179.1a1.0,1.0 0 1,0 2,0a1.0,1.0 0 1,0 -2,0M331.01,167.5a1.0,1.0 0 1,0 2,0a1.0,1.0 0 1,0 -2,0M331.47,170.65a1.0,1.0 0 1,0 2,0a1.0,1.0 0 1,0 -2,0M332.08,186.13a1.0,1.0 0 1,0 2,0a1.0,1.0 0 1,0 -2,0M332.68,167.76a1.0,1.0 0 1,0 2,0a1.0,1.0 0 1,0 -2,0M333.2,179.25a1.0,1.0 0 1,0 2,0a1.0,1.0 0 1,0 -2,0M333.62,174.41a1.0,1.0 0 1,0 2,0a1.0,1.0 0 1,0 -2,0M334.19,168.95a1.0,1.0 0 1,0 2,0a1.0,1.0 0 1,0 -2,0M334.57,177.88a1.0,1.0 0 1,0 2,0a1.0,1.0 0 1,0 -2,0M335.34,176.56a1.0,1.0 0 1,0 2,0a1.0,1.0 0 1,0 -2,0M335.95,186.3a1.0,1.0 0 1,0 2,0a1.0,1.0 0 1,0 -2,0M336.15,175.1a1.0,1.0 0 1,0 2,0a1.0,1.0 0 1,0 -2,0M336.94,169.49a1.0,1.0 0 1,0 2,0a1.0,1.0 0 1,0 -2,0M337.1,160.76a1.0,1.0 0 1,0 2,0a1.0,1.0 0 1,0 -2,0M338.06,164.96a1.0,1.0 0 1,0 2,0a1.0,1.0 0 1,0 -2,0M338.11,187.67a1.0,1.0 0 1,0 2,0a1.0,1.0 0 1,0 -2,0M338.66,171.55a1.0,1.0 0 1,0 2,0a1.0,1.0 0 1,0 -2,0M339.59,179.45a1.0,1.0 0 1,0 2,0a1.0,1.0 0 1,0 -2,0M339.96,169.69a1.0,1.0 0 1,0 2,0a1.0,1.0 0 1,0 -2,0M340.59,172.56a1.0,1.0 0 1,0 2,0a1.0,1.0 0 1,0 -2,0M340.92,175.37a1.0,1.0 0 1,0 2,0a1.0,1.0 0 1,0 -2,0M341.63,175.28a1.0,1.0 0 1,0 2,0a1.0,1.0 0 1,0 -2,0M342.25,165.36a1.0,1.0 0 1,0 2,0a1.0,1.0 0 1,0 -2,0M342.58,155.7a1.0,1.0 0 1,0 2,0a1.0,1.0 0 1,0 -2,0M342.94,164.82a1.0,1.0 0 1,0 2,0a1.0,1.0 0 1,0 -2,0M343.66,171.72a1.0,1.0 0 1,0 2,0a1.0,1.0 0 1,0 -2,0M343.97,157.5a1.0,1.0 0 1,0 2,0a1.0,1.0 0 1,0 -2,0M344.65,165.05a1.0,1.0 0 1,0 2,0a1.0,1.0 0 1,0 -2,0M345.29,152.45a1.0,1.0 0 1,0 2,0a1.0,1.0 0 1,0 -2,0M345.52,152.28a1.0,1.0 0 1,0 2,0a1.0,1.0 0 1,0 -2,0M346.38,154.47a1.0,1.0 0 1,0 2,0a1.0,1.0 0 1,0 -2,0M346.83,165.51a1.0,1.0 0 1,0 2,0a1.0,1.0 0 1,0 -2,0M347.06,172.99a1.0,1.0 0 1,0 2,0a1.0,1.0 0 1,0 -2,0M347.57,156.77a1.0,1.0 0 1,0 2,0a1.0,1.0 0 1,0 -2,0M348.22,172.84a1.0,1.0 0 1,0 2,0a1.0,1.0 0 1,0 -2,0M348.62,167.98a1.0,1.0 0 1,0 2,0a1.0,1.0 0 1,0 -2,0M349.29,155.23a1.0,1.0 0 1,0 2,0a1.0,1.0 0 1,0 -2,0M349.64,162.57a1.0,1.0 0 1,0 2,0a1.0,1.0 0 1,0 -2,0M350.35,169.88a1.0,1.0 0 1,0 2,0a1.0,1.0 0 1,0 -2,0M350.6,165.04a1.0,1.0 0 1,0 2,0a1.0,1.0 0 1,0 -2,0M351.43,160.22a1.0,1.0 0 1,0 2,0a1.0,1.0 0 1,0 -2,0M351.8,156.43a1.0,1.0 0 1,0 2,0a1.0,1.0 0 1,0 -2,0M352.66,159.51a1.0,1.0 0 1,0 2,0a1.0,1.0 0 1,0 -2,0M352.8,153.91a1.0,1.0 0 1,0 2,0a1.0,1.0 0 1,0 -2,0M353.58,152.47a1.0,1.0 0 1,0 2,0a1.0,1.0 0 1,0 -2,0M353.72,143.95a1.0,1.0 0 1,0 2,0a1.0,1.0 0 1,0 -2,0M354.25,162.12a1.0,1.0 0 1,0 2,0a1.0,1.0 0 1,0 -2,0M355.23,153.5a1.0,1.0 0 1,0 2,0a1.0,1.0 0 1,0 -2,0M355.47,156.61a1.0,1.0 0 1,0 2,0a1.0,1.0 0 1,0 -2,0M356.07,168.59a1.0,1.0 0 1,0 2,0a1.0,1.0 0 1,0 -2,0M356.5,145.33a1.0,1.0 0 1,0 2,0a1.0,1.0 0 1,0 -2,0M357.34,158.55a1.0,1.0 0 1,0 2,0a1.0,1.0 0 1,0 -2,0M357.52,158.94a1.0,1.0 0 1,0 2,0a1.0,1.0 0 1,0 -2,0M357.88,149.21a1.0,1.0 0 1,0 2,0a1.0,1.0 0 1,0 -2,0M358.89,147.23a1.0,1.0 0 1,0 2,0a1.0,1.0 0 1,0 -2,0M359.39,157.93a1.0,1.0 0 1,0 2,0a1.0,1.0 0 1,0 -2,0M359.81,151.8a1.0,1.0 0 1,0 2,0a1.0,1.0 0 1,0 -2,0M360,159.83a1.0,1.0 0 1,0 2,0a1.0,1.0 0 1,0 -2,0M360.53,156.69a1.0,1.0 0 1,0 2,0a1.0,1.0 0 1,0 -2,0M361.08,155.18a1.0,1.0 0 1,0 2,0a1.0,1.0 0 1,0 -2,0M361.99,159.16a1.0,1.0 0 1,0 2,0a1.0,1.0 0 1,0 -2,0M362.25,145.95a1.0,1.0 0 1,0 2,0a1.0,1.0 0 1,0 -2,0M362.87,163.89a1.0,1.0 0 1,0 2,0a1.0,1.0 0 1,0 -2,0M363.31,157.17a1.0,1.0 0 1,0 2,0a1.0,1.0 0 1,0 -2,0M363.61,152.82a1.0,1.0 0 1,0 2,0a1.0,1.0 0 1,0 -2,0M364.55,147.42a1.0,1.0 0 1,0 2,0a1.0,1.0 0 1,0 -2,0M364.76,161.54a1.0,1.0 0 1,0 2,0a1.0,1.0 0 1,0 -2,0M365.4,150.15a1.0,1.0 0 1,0 2,0a1.0,1.0 0 1,0 -2,0M366.17,167.22a1.0,1.0 0 1,0 2,0a1.0,1.0 0 1,0 -2,0M366.29,159.38a1.0,1.0 0 1,0 2,0a1.0,1.0 0 1,0 -2,0M366.8,155.31a1.0,1.0 0 1,0 2,0a1.0,1.0 0 1,0 -2,0M367.7,169.01a1.0,1.0 0 1,0 2,0a1.0,1.0 0 1,0 -2,0M367.77,157.32a1.0,1.0 0 1,0 2,0a1.0,1.0 0 1,0 -2,0M368.27,149a1.0,1.0 0 1,0 2,0a1.0,1.0 0 1,0 -2,0M368.78,148.68a1.0,1.0 0 1,0 2,0a1.0,1.0 0 1,0 -2,0M369.53,147.24a1.0,1.0 0 1,0 2,0a1.0,1.0 0 1,0 -2,0M369.89,151.48a1.0,1.0 0 1,0 2,0a1.0,1.0 0 1,0 -2,0M370.44,163.46a1.0,1.0 0 1,0 2,0a1.0,1.0 0 1,0 -2,0M371.12,154.84a1.0,1.0 0 1,0 2,0a1.0,1.0 0 1,0 -2,0M371.75,157.65a1.0,1.0 0 1,0 2,0a1.0,1.0 0 1,0 -2,0M371.93,145.58a1.0,1.0 0 1,0 2,0a1.0,1.0 0 1,0 -2,0M372.45,146.75a1.0,1.0 0 1,0 2,0a1.0,1.0 0 1,0 -2,0M373.39,147.75a1.0,1.0 0 1,0 2,0a1.0,1.0 0 1,0 -2,0M373.71,152.96a1.0,1.0 0 1,0 2,0a1.0,1.0 0 1,0 -2,0M374.41,149.21a1.0,1.0 0 1,0 2,0a1.0,1.0 0 1,0 -2,0M374.81,155.44a1.0,1.0 0 1,0 2,0a1.0,1.0 0 1,0 -2,0M375.29,152.75a1.0,1.0 0 1,0 2,0a1.0,1.0 0 1,0 -2,0M375.99,159.26a1.0,1.0 0 1,0 2,0a1.0,1.0 0 1,0 -2,0M376.45,161.23a1.0,1.0 0 1,0 2,0a1.0,1.0 0 1,0 -2,0M376.84,156.94a1.0,1.0 0 1,0 2,0a1.0,1.0 0 1,0 -2,0M377.11,151.37a1.0,1.0 0 1,0 2,0a1.0,1.0 0 1,0 -2,0M377.67,150.97a1.0,1.0 0 1,0 2,0a1.0,1.0 0 1,0 -2,0M378.19,163.37a1.0,1.0 0 1,0 2,0a1.0,1.0 0 1,0 -2,0M378.97,147.69a1.0,1.0 0 1,0 2,0a1.0,1.0 0 1,0 -2,0M379.23,147.96a1.0,1.0 0 1,0 2,0a1.0,1.0 0 1,0 -2,0M379.76,144.31a1.0,1.0 0 1,0 2,0a1.0,1.0 0 1,0 -2,0M380.28,152.05a1.0,1.0 0 1,0 2,0a1.0,1.0 0 1,0 -2,0M381.19,153.79a1.0,1.0 0 1,0 2,0a1.0,1.0 0 1,0 -2,0M381.35,158.56a1.0,1.0 0 1,0 2,0a1.0,1.0 0 1,0 -2,0M382,138.95a1.0,1.0 0 1,0 2,0a1.0,1.0 0 1,0 -2,0M382.79,145.75a1.0,1.0 0 1,0 2,0a1.0,1.0 0 1,0 -2,0M382.99,146.73a1.0,1.0 0 1,0 2,0a1.0,1.0 0 1,0 -2,0M383.81,159.5a1.0,1.0 0 1,0 2,0a1.0,1.0 0 1,0 -2,0M384.13,141.41a1.0,1.0 0 1,0 2,0a1.0,1.0 0 1,0 -2,0M384.6,148.9a1.0,1.0 0 1,0 2,0a1.0,1.0 0 1,0 -2,0M384.94,148.43a1.0,1.0 0 1,0 2,0a1.0,1.0 0 1,0 -2,0M385.49,156.05a1.0,1.0 0 1,0 2,0a1.0,1.0 0 1,0 -2,0M386.27,151.06a1.0,1.0 0 1,0 2,0a1.0,1.0 0 1,0 -2,0M386.48,141.06a1.0,1.0 0 1,0 2,0a1.0,1.0 0 1,0 -2,0M387.12,149.53a1.0,1.0 0 1,0 2,0a1.0,1.0 0 1,0 -2,0M387.63,149.74a1.0,1.0 0 1,0 2,0a1.0,1.0 0 1,0 -2,0M388.17,152.77a1.0,1.0 0 1,0 2,0a1.0,1.0 0 1,0 -2,0M388.85,162.3a1.0,1.0 0 1,0 2,0a1.0,1.0 0 1,0 -2,0M389.3,151.81a1.0,1.0 0 1,0 2,0a1.0,1.0 0 1,0 -2,0M389.65,153.25a1.0,1.0 0 1,0 2,0a1.0,1.0 0 1,0 -2,0M390.23,160.32a1.0,1.0 0 1,0 2,0a1.0,1.0 0 1,0 -2,0M390.94,158.4a1.0,1.0 0 1,0 2,0a1.0,1.0 0 1,0 -2,0M391.51,150.48a1.0,1.0 0 1,0 2,0a1.0,1.0 0 1,0 -2,0M391.9,156.43a1.0,1.0 0 1,0 2,0a1.0,1.0 0 1,0 -2,0M392.45,158.98a1.0,1.0 0 1,0 2,0a1.0,1.0 0 1,0 -2,0M392.88,160.35a1.0,1.0 0 1,0 2,0a1.0,1.0 0 1,0 -2,0M393.48,151.33a1.0,1.0 0 1,0 2,0a1.0,1.0 0 1,0 -2,0M394.14,173.21a1.0,1.0 0 1,0 2,0a1.0,1.0 0 1,0 -2,0M394.49,157.08a1.0,1.0 0 1,0 2,0a1.0,1.0 0 1,0 -2,0M395.16,157.59a1.0,1.0 0 1,0 2,0a1.0,1.0 0 1,0 -2,0M395.68,158.19a1.0,1.0 0 1,0 2,0a1.0,1.0 0 1,0 -2,0M396.17,160.16a1.0,1.0 0 1,0 2,0a1.0,1.0 0 1,0 -2,0M396.61,147.37a1.0,1.0 0 1,0 2,0a1.0,1.0 0 1,0 -2,0M397.11,145.3a1.0,1.0 0 1,0 2,0a1.0,1.0 0 1,0 -2,0M397.45,146.12a1.0,1.0 0 1,0 2,0a1.0,1.0 0 1,0 -2,0M398.2,155.46a1.0,1.0 0 1,0 2,0a1.0,1.0 0 1,0 -2,0M398.64,156.21a1.0,1.0 0 1,0 2,0a1.0,1.0 0 1,0 -2,0M399.14,143.6a1.0,1.0 0 1,0 2,0a1.0,1.0 0 1,0 -2,0M399.61,158.28a1.0,1.0 0 1,0 2,0a1.0,1.0 0 1,0 -2,0M400.15,161.42a1.0,1.0 0 1,0 2,0a1.0,1.0 0 1,0 -2,0M400.73,144.51a1.0,1.0 0 1,0 2,0a1.0,1.0 0 1,0 -2,0M401.32,161.47a1.0,1.0 0 1,0 2,0a1.0,1.0 0 1,0 -2,0M401.71,155.34a1.0,1.0 0 1,0 2,0a1.0,1.0 0 1,0 -2,0M402.17,146.77a1.0,1.0 0 1,0 2,0a1.0,1.0 0 1,0 -2,0M402.6,163.06a1.0,1.0 0 1,0 2,0a1.0,1.0 0 1,0 -2,0M403.5,154.07a1.0,1.0 0 1,0 2,0a1.0,1.0 0 1,0 -2,0M403.89,151.66a1.0,1.0 0 1,0 2,0a1.0,1.0 0 1,0 -2,0M404.45,151.37a1.0,1.0 0 1,0 2,0a1.0,1.0 0 1,0 -2,0M404.93,169.5a1.0,1.0 0 1,0 2,0a1.0,1.0 0 1,0 -2,0M405.47,160.79a1.0,1.0 0 1,0 2,0a1.0,1.0 0 1,0 -2,0M405.95,151.48a1.0,1.0 0 1,0 2,0a1.0,1.0 0 1,0 -2,0M406.4,160.59a1.0,1.0 0 1,0 2,0a1.0,1.0 0 1,0 -2,0M406.91,155.23a1.0,1.0 0 1,0 2,0a1.0,1.0 0 1,0 -2,0M407.32,155.88a1.0,1.0 0 1,0 2,0a1.0,1.0 0 1,0 -2,0M408.29,151.6a1.0,1.0 0 1,0 2,0a1.0,1.0 0 1,0 -2,0M408.45,153.33a1.0,1.0 0 1,0 2,0a1.0,1.0 0 1,0 -2,0M408.91,157.1a1.0,1.0 0 1,0 2,0a1.0,1.0 0 1,0 -2,0M409.86,151.46a1.0,1.0 0 1,0 2,0a1.0,1.0 0 1,0 -2,0M410.27,156.36a1.0,1.0 0 1,0 2,0a1.0,1.0 0 1,0 -2,0M410.54,166.87a1.0,1.0 0 1,0 2,0a1.0,1.0 0 1,0 -2,0M411,150.88a1.0,1.0 0 1,0 2,0a1.0,1.0 0 1,0 -2,0M411.76,158.05a1.0,1.0 0 1,0 2,0a1.0,1.0 0 1,0 -2,0M412.15,153.77a1.0,1.0 0 1,0 2,0a1.0,1.0 0 1,0 -2,0M412.52,160.72a1.0,1.0 0 1,0 2,0a1.0,1.0 0 1,0 -2,0M413.41,160.62a1.0,1.0 0 1,0 2,0a1.0,1.0 0 1,0 -2,0M413.51,151.09a1.0,1.0 0 1,0 2,0a1.0,1.0 0 1,0 -2,0M414.2,153.19a1.0,1.0 0 1,0 2,0a1.0,1.0 0 1,0 -2,0M415.01,163.22a1.0,1.0 0 1,0 2,0a1.0,1.0 0 1,0 -2,0M415.26,156.17a1.0,1.0 0 1,0 2,0a1.0,1.0 0 1,0 -2,0M416.08,163.7a1.0,1.0 0 1,0 2,0a1.0,1.0 0 1,0 -2,0M416.12,162.66a1.0,1.0 0 1,0 2,0a1.0,1.0 0 1,0 -2,0M417.09,154.38a1.0,1.0 0 1,0 2,0a1.0,1.0 0 1,0 -2,0M417.64,154.86a1.0,1.0 0 1,0 2,0a1.0,1.0 0 1,0 -2,0M417.86,160.37a1.0,1.0 0 1,0 2,0a1.0,1.0 0 1,0 -2,0M418.64,155.75a1.0,1.0 0 1,0 2,0a1.0,1.0 0 1,0 -2,0M418.79,161.39a1.0,1.0 0 1,0 2,0a1.0,1.0 0 1,0 -2,0M419.37,163.62a1.0,1.0 0 1,0 2,0a1.0,1.0 0 1,0 -2,0M419.94,159.47a1.0,1.0 0 1,0 2,0a1.0,1.0 0 1,0 -2,0M420.69,162.15a1.0,1.0 0 1,0 2,0a1.0,1.0 0 1,0 -2,0M420.93,164.8a1.0,1.0 0 1,0 2,0a1.0,1.0 0 1,0 -2,0M421.48,162.89a1.0,1.0 0 1,0 2,0a1.0,1.0 0 1,0 -2,0M421.96,169.62a1.0,1.0 0 1,0 2,0a1.0,1.0 0 1,0 -2,0M422.77,158.82a1.0,1.0 0 1,0 2,0a1.0,1.0 0 1,0 -2,0M423.24,158.38a1.0,1.0 0 1,0 2,0a1.0,1.0 0 1,0 -2,0M423.87,173.19a1.0,1.0 0 1,0 2,0a1.0,1.0 0 1,0 -2,0M423.97,162.17a1.0,1.0 0 1,0 2,0a1.0,1.0 0 1,0 -2,0M424.73,157.81a1.0,1.0 0 1,0 2,0a1.0,1.0 0 1,0 -2,0M425.05,166.23a1.0,1.0 0 1,0 2,0a1.0,1.0 0 1,0 -2,0M425.74,160.64a1.0,1.0 0 1,0 2,0a1.0,1.0 0 1,0 -2,0M426.32,173.91a1.0,1.0 0 1,0 2,0a1.0,1.0 0 1,0 -2,0M426.54,161.15a1.0,1.0 0 1,0 2,0a1.0,1.0 0 1,0 -2,0M427.36,174.63a1.0,1.0 0 1,0 2,0a1.0,1.0 0 1,0 -2,0M427.8,168.95a1.0,1.0 0 1,0 2,0a1.0,1.0 0 1,0 -2,0M428.18,166.27a1.0,1.0 0 1,0 2,0a1.0,1.0 0 1,0 -2,0M428.79,171.39a1.0,1.0 0 1,0 2,0a1.0,1.0 0 1,0 -2,0M429.55,158.59a1.0,1.0 0 1,0 2,0a1.0,1.0 0 1,0 -2,0M429.97,168.44a1.0,1.0 0 1,0 2,0a1.0,1.0 0 1,0 -2,0M430.48,159.89a1.0,1.0 0 1,0 2,0a1.0,1.0 0 1,0 -2,0M430.84,160.61a1.0,1.0 0 1,0 2,0a1.0,1.0 0 1,0 -2,0M431.65,162.46a1.0,1.0 0 1,0 2,0a1.0,1.0 0 1,0 -2,0M431.72,155.67a1.0,1.0 0 1,0 2,0a1.0,1.0 0 1,0 -2,0M432.42,169.35a1.0,1.0 0 1,0 2,0a1.0,1.0 0 1,0 -2,0M432.83,167.33a1.0,1.0 0 1,0 2,0a1.0,1.0 0 1,0 -2,0M433.39,159.23a1.0,1.0 0 1,0 2,0a1.0,1.0 0 1,0 -2,0M433.78,170.12a1.0,1.0 0 1,0 2,0a1.0,1.0 0 1,0 -2,0M434.32,157.06a1.0,1.0 0 1,0 2,0a1.0,1.0 0 1,0 -2,0M434.95,159.8a1.0,1.0 0 1,0 2,0a1.0,1.0 0 1,0 -2,0M435.82,173.96a1.0,1.0 0 1,0 2,0a1.0,1.0 0 1,0 -2,0M436.06,164.27a1.0,1.0 0 1,0 2,0a1.0,1.0 0 1,0 -2,0M436.43,155.27a1.0,1.0 0 1,0 2,0a1.0,1.0 0 1,0 -2,0M437.26,165.08a1.0,1.0 0 1,0 2,0a1.0,1.0 0 1,0 -2,0M437.66,155.59a1.0,1.0 0 1,0 2,0a1.0,1.0 0 1,0 -2,0M438.21,170.84a1.0,1.0 0 1,0 2,0a1.0,1.0 0 1,0 -2,0M438.48,166.3a1.0,1.0 0 1,0 2,0a1.0,1.0 0 1,0 -2,0M439.26,156.99a1.0,1.0 0 1,0 2,0a1.0,1.0 0 1,0 -2,0M439.63,166.34a1.0,1.0 0 1,0 2,0a1.0,1.0 0 1,0 -2,0M440.12,170.37a1.0,1.0 0 1,0 2,0a1.0,1.0 0 1,0 -2,0M440.89,171.54a1.0,1.0 0 1,0 2,0a1.0,1.0 0 1,0 -2,0M441.29,173.2a1.0,1.0 0 1,0 2,0a1.0,1.0 0 1,0 -2,0M442.04,166.38a1.0,1.0 0 1,0 2,0a1.0,1.0 0 1,0 -2,0M442.52,175.15a1.0,1.0 0 1,0 2,0a1.0,1.0 0 1,0 -2,0M442.97,165.82a1.0,1.0 0 1,0 2,0a1.0,1.0 0 1,0 -2,0M443.57,165.5a1.0,1.0 0 1,0 2,0a1.0,1.0 0 1,0 -2,0M443.77,173.57a1.0,1.0 0 1,0 2,0a1.0,1.0 0 1,0 -2,0M444.54,172.61a1.0,1.0 0 1,0 2,0a1.0,1.0 0 1,0 -2,0M444.94,172.28a1.0,1.0 0 1,0 2,0a1.0,1.0 0 1,0 -2,0M445.23,174.76a1.0,1.0 0 1,0 2,0a1.0,1.0 0 1,0 -2,0M446.11,171.91a1.0,1.0 0 1,0 2,0a1.0,1.0 0 1,0 -2,0M446.51,171.99a1.0,1.0 0 1,0 2,0a1.0,1.0 0 1,0 -2,0M446.78,175.21a1.0,1.0 0 1,0 2,0a1.0,1.0 0 1,0 -2,0M447.79,169.76a1.0,1.0 0 1,0 2,0a1.0,1.0 0 1,0 -2,0M447.89,170.79a1.0,1.0 0 1,0 2,0a1.0,1.0 0 1,0 -2,0M448.49,177.17a1.0,1.0 0 1,0 2,0a1.0,1.0 0 1,0 -2,0M449.34,184.12a1.0,1.0 0 1,0 2,0a1.0,1.0 0 1,0 -2,0M449.77,186.05a1.0,1.0 0 1,0 2,0a1.0,1.0 0 1,0 -2,0M450.07,180.57a1.0,1.0 0 1,0 2,0a1.0,1.0 0 1,0 -2,0M450.85,183.43a1.0,1.0 0 1,0 2,0a1.0,1.0 0 1,0 -2,0M451.27,179.97a1.0,1.0 0 1,0 2,0a1.0,1.0 0 1,0 -2,0M451.95,169.79a1.0,1.0 0 1,0 2,0a1.0,1.0 0 1,0 -2,0M452.14,179.55a1.0,1.0 0 1,0 2,0a1.0,1.0 0 1,0 -2,0M452.59,178.6a1.0,1.0 0 1,0 2,0a1.0,1.0 0 1,0 -2,0M453.04,186.25a1.0,1.0 0 1,0 2,0a1.0,1.0 0 1,0 -2,0M453.54,182.52a1.0,1.0 0 1,0 2,0a1.0,1.0 0 1,0 -2,0M454.28,171.07a1.0,1.0 0 1,0 2,0a1.0,1.0 0 1,0 -2,0M454.8,191.07a1.0,1.0 0 1,0 2,0a1.0,1.0 0 1,0 -2,0M455.53,188.25a1.0,1.0 0 1,0 2,0a1.0,1.0 0 1,0 -2,0M455.85,180.86a1.0,1.0 0 1,0 2,0a1.0,1.0 0 1,0 -2,0M456.18,181.24a1.0,1.0 0 1,0 2,0a1.0,1.0 0 1,0 -2,0M457.13,190.26a1.0,1.0 0 1,0 2,0a1.0,1.0 0 1,0 -2,0M457.5,171.74a1.0,1.0 0 1,0 2,0a1.0,1.0 0 1,0 -2,0M458.02,182.95a1.0,1.0 0 1,0 2,0a1.0,1.0 0 1,0 -2,0M458.47,193.34a1.0,1.0 0 1,0 2,0a1.0,1.0 0 1,0 -2,0M459.2,181.75a1.0,1.0 0 1,0 2,0a1.0,1.0 0 1,0 -2,0M459.49,187.21a1.0,1.0 0 1,0 2,0a1.0,1.0 0 1,0 -2,0M460.08,191.72a1.0,1.0 0 1,0 2,0a1.0,1.0 0 1,0 -2,0M460.51,191.38a1.0,1.0 0 1,0 2,0a1.0,1.0 0 1,0 -2,0M461.11,190.61a1.0,1.0 0 1,0 2,0a1.0,1.0 0 1,0 -2,0M461.39,196.63a1.0,1.0 0 1,0 2,0a1.0,1.0 0 1,0 -2,0M462.15,188.08a1.0,1.0 0 1,0 2,0a1.0,1.0 0 1,0 -2,0M462.65,197.63a1.0,1.0 0 1,0 2,0a1.0,1.0 0 1,0 -2,0M462.94,188.64a1.0,1.0 0 1,0 2,0a1.0,1.0 0 1,0 -2,0M463.79,195.16a1.0,1.0 0 1,0 2,0a1.0,1.0 0 1,0 -2,0M464.32,187.89a1.0,1.0 0 1,0 2,0a1.0,1.0 0 1,0 -2,0M464.55,198.6a1.0,1.0 0 1,0 2,0a1.0,1.0 0 1,0 -2,0M465.05,189.99a1.0,1.0 0 1,0 2,0a1.0,1.0 0 1,0 -2,0M465.69,190.25a1.0,1.0 0 1,0 2,0a1.0,1.0 0 1,0 -2,0M466.18,193.58a1.0,1.0 0 1,0 2,0a1.0,1.0 0 1,0 -2,0M466.86,186.76a1.0,1.0 0 1,0 2,0a1.0,1.0 0 1,0 -2,0M467.51,187.72a1.0,1.0 0 1,0 2,0a1.0,1.0 0 1,0 -2,0M467.98,203.01a1.0,1.0 0 1,0 2,0a1.0,1.0 0 1,0 -2,0M468.29,183.66a1.0,1.0 0 1,0 2,0a1.0,1.0 0 1,0 -2,0M468.64,179.45a1.0,1.0 0 1,0 2,0a1.0,1.0 0 1,0 -2,0M469.56,193.36a1.0,1.0 0 1,0 2,0a1.0,1.0 0 1,0 -2,0M469.79,204.85a1.0,1.0 0 1,0 2,0a1.0,1.0 0 1,0 -2,0M470.48,202.31a1.0,1.0 0 1,0 2,0a1.0,1.0 0 1,0 -2,0M471.12,197.13a1.0,1.0 0 1,0 2,0a1.0,1.0 0 1,0 -2,0M471.58,204.02a1.0,1.0 0 1,0 2,0a1.0,1.0 0 1,0 -2,0M472.02,199.45a1.0,1.0 0 1,0 2,0a1.0,1.0 0 1,0 -2,0M472.27,186.81a1.0,1.0 0 1,0 2,0a1.0,1.0 0 1,0 -2,0M473.23,200.85a1.0,1.0 0 1,0 2,0a1.0,1.0 0 1,0 -2,0M473.73,196.61a1.0,1.0 0 1,0 2,0a1.0,1.0 0 1,0 -2,0M473.9,192.93a1.0,1.0 0 1,0 2,0a1.0,1.0 0 1,0 -2,0M474.66,193.79a1.0,1.0 0 1,0 2,0a1.0,1.0 0 1,0 -2,0M475.32,201.93a1.0,1.0 0 1,0 2,0a1.0,1.0 0 1,0 -2,0M475.57,198.7a1.0,1.0 0 1,0 2,0a1.0,1.0 0 1,0 -2,0M476.08,201.71a1.0,1.0 0 1,0 2,0a1.0,1.0 0 1,0 -2,0M476.43,200.71a1.0,1.0 0 1,0 2,0a1.0,1.0 0 1,0 -2,0M477.02,205.41a1.0,1.0 0 1,0 2,0a1.0,1.0 0 1,0 -2,0M477.72,196.68a1.0,1.0 0 1,0 2,0a1.0,1.0 0 1,0 -2,0M478.48,209.6a1.0,1.0 0 1,0 2,0a1.0,1.0 0 1,0 -2,0M478.9,201.72a1.0,1.0 0 1,0 2,0a1.0,1.0 0 1,0 -2,0M479.35,194.34a1.0,1.0 0 1,0 2,0a1.0,1.0 0 1,0 -2,0M479.99,206.39a1.0,1.0 0 1,0 2,0a1.0,1.0 0 1,0 -2,0M480.46,199.27a1.0,1.0 0 1,0 2,0a1.0,1.0 0 1,0 -2,0M480.76,195.7a1.0,1.0 0 1,0 2,0a1.0,1.0 0 1,0 -2,0M481.28,201.53a1.0,1.0 0 1,0 2,0a1.0,1.0 0 1,0 -2,0M481.81,214.5a1.0,1.0 0 1,0 2,0a1.0,1.0 0 1,0 -2,0M482.21,208.86a1.0,1.0 0 1,0 2,0a1.0,1.0 0 1,0 -2,0M482.89,205.18a1.0,1.0 0 1,0 2,0a1.0,1.0 0 1,0 -2,0M483.21,202.71a1.0,1.0 0 1,0 2,0a1.0,1.0 0 1,0 -2,0M483.99,210.43a1.0,1.0 0 1,0 2,0a1.0,1.0 0 1,0 -2,0M484.52,203.45a1.0,1.0 0 1,0 2,0a1.0,1.0 0 1,0 -2,0M485.25,206.91a1.0,1.0 0 1,0 2,0a1.0,1.0 0 1,0 -2,0M485.71,210.35a1.0,1.0 0 1,0 2,0a1.0,1.0 0 1,0 -2,0M485.92,208.03a1.0,1.0 0 1,0 2,0a1.0,1.0 0 1,0 -2,0M486.44,207.55a1.0,1.0 0 1,0 2,0a1.0,1.0 0 1,0 -2,0M486.92,205.18a1.0,1.0 0 1,0 2,0a1.0,1.0 0 1,0 -2,0M487.44,203.89a1.0,1.0 0 1,0 2,0a1.0,1.0 0 1,0 -2,0M487.9,200.13a1.0,1.0 0 1,0 2,0a1.0,1.0 0 1,0 -2,0M488.45,202.4a1.0,1.0 0 1,0 2,0a1.0,1.0 0 1,0 -2,0M489.23,211.85a1.0,1.0 0 1,0 2,0a1.0,1.0 0 1,0 -2,0M489.81,207.73a1.0,1.0 0 1,0 2,0a1.0,1.0 0 1,0 -2,0M490.12,206.54a1.0,1.0 0 1,0 2,0a1.0,1.0 0 1,0 -2,0M490.79,210.47a1.0,1.0 0 1,0 2,0a1.0,1.0 0 1,0 -2,0M491.11,212.77a1.0,1.0 0 1,0 2,0a1.0,1.0 0 1,0 -2,0M491.79,210.24a1.0,1.0 0 1,0 2,0a1.0,1.0 0 1,0 -2,0M492.4,210.42a1.0,1.0 0 1,0 2,0a1.0,1.0 0 1,0 -2,0M492.61,212.04a1.0,1.0 0 1,0 2,0a1.0,1.0 0 1,0 -2,0M493.28,209.96a1.0,1.0 0 1,0 2,0a1.0,1.0 0 1,0 -2,0M493.92,210.66a1.0,1.0 0 1,0 2,0a1.0,1.0 0 1,0 -2,0M494.23,210.4a1.0,1.0 0 1,0 2,0a1.0,1.0 0 1,0 -2,0M494.78,207.27a1.0,1.0 0 1,0 2,0a1.0,1.0 0 1,0 -2,0M495.28,204.25a1.0,1.0 0 1,0 2,0a1.0,1.0 0 1,0 -2,0M495.66,211.6a1.0,1.0 0 1,0 2,0a1.0,1.0 0 1,0 -2,0M496.37,213.52a1.0,1.0 0 1,0 2,0a1.0,1.0 0 1,0 -2,0M496.75,212.93a1.0,1.0 0 1,0 2,0a1.0,1.0 0 1,0 -2,0M497.48,213.57a1.0,1.0 0 1,0 2,0a1.0,1.0 0 1,0 -2,0M497.93,212.85a1.0,1.0 0 1,0 2,0a1.0,1.0 0 1,0 -2,0M498.74,214.5a1.0,1.0 0 1,0 2,0a1.0,1.0 0 1,0 -2,0M498.91,214.32a1.0,1.0 0 1,0 2,0a1.0,1.0 0 1,0 -2,0M499.48,213.41a1.0,1.0 0 1,0 2,0a1.0,1.0 0 1,0 -2,0M500.29,210.74a1.0,1.0 0 1,0 2,0a1.0,1.0 0 1,0 -2,0" fill="#f2841f"/>
<path d="M313.82,212.96a1.0,1.0 0 1,0 2,0a1.0,1.0 0 1,0 -2,0M314.52,208.95a1.0,1.0 0 1,0 2,0a1.0,1.0 0 1,0 -2,0M314.73,214.5a1.0,1.0 0 1,0 2,0a1.0,1.0 0 1,0 -2,0M315.29,214.5a1.0,1.0 0 1,0 2,0a1.0,1.0 0 1,0 -2,0M315.75,210.65a1.0,1.0 0 1,0 2,0a1.0,1.0 0 1,0 -2,0M316.31,209.13a1.0,1.0 0 1,0 2,0a1.0,1.0 0 1,0 -2,0M316.96,210.33a1.0,1.0 0 1,0 2,0a1.0,1.0 0 1,0 -2,0M317.39,213.58a1.0,1.0 0 1,0 2,0a1.0,1.0 0 1,0 -2,0M318.17,204.54a1.0,1.0 0 1,0 2,0a1.0,1.0 0 1,0 -2,0M318.44,209.36a1.0,1.0 0 1,0 2,0a1.0,1.0 0 1,0 -2,0M319.09,202.55a1.0,1.0 0 1,0 2,0a1.0,1.0 0 1,0 -2,0M319.5,204.59a1.0,1.0 0 1,0 2,0a1.0,1.0 0 1,0 -2,0M320.14,205.16a1.0,1.0 0 1,0 2,0a1.0,1.0 0 1,0 -2,0M320.7,202.08a1.0,1.0 0 1,0 2,0a1.0,1.0 0 1,0 -2,0M321.18,210.75a1.0,1.0 0 1,0 2,0a1.0,1.0 0 1,0 -2,0M321.65,201.48a1.0,1.0 0 1,0 2,0a1.0,1.0 0 1,0 -2,0M322.31,204.95a1.0,1.0 0 1,0 2,0a1.0,1.0 0 1,0 -2,0M322.85,207.25a1.0,1.0 0 1,0 2,0a1.0,1.0 0 1,0 -2,0M323.29,198.49a1.0,1.0 0 1,0 2,0a1.0,1.0 0 1,0 -2,0M323.91,202.63a1.0,1.0 0 1,0 2,0a1.0,1.0 0 1,0 -2,0M324.25,198.39a1.0,1.0 0 1,0 2,0a1.0,1.0 0 1,0 -2,0M324.69,196a1.0,1.0 0 1,0 2,0a1.0,1.0 0 1,0 -2,0M325.53,197.25a1.0,1.0 0 1,0 2,0a1.0,1.0 0 1,0 -2,0M325.88,201.59a1.0,1.0 0 1,0 2,0a1.0,1.0 0 1,0 -2,0M326.48,191.55a1.0,1.0 0 1,0 2,0a1.0,1.0 0 1,0 -2,0M326.82,197.96a1.0,1.0 0 1,0 2,0a1.0,1.0 0 1,0 -2,0M327.2,195.29a1.0,1.0 0 1,0 2,0a1.0,1.0 0 1,0 -2,0M327.73,201.14a1.0,1.0 0 1,0 2,0a1.0,1.0 0 1,0 -2,0M328.7,199.79a1.0,1.0 0 1,0 2,0a1.0,1.0 0 1,0 -2,0M329.21,194.49a1.0,1.0 0 1,0 2,0a1.0,1.0 0 1,0 -2,0M329.62,191.19a1.0,1.0 0 1,0 2,0a1.0,1.0 0 1,0 -2,0M330.13,194.86a1.0,1.0 0 1,0 2,0a1.0,1.0 0 1,0 -2,0M330.39,196.2a1.0,1.0 0 1,0 2,0a1.0,1.0 0 1,0 -2,0M331.16,197.4a1.0,1.0 0 1,0 2,0a1.0,1.0 0 1,0 -2,0M331.63,199.32a1.0,1.0 0 1,0 2,0a1.0,1.0 0 1,0 -2,0M332.03,192.74a1.0,1.0 0 1,0 2,0a1.0,1.0 0 1,0 -2,0M332.41,186.06a1.0,1.0 0 1,0 2,0a1.0,1.0 0 1,0 -2,0M333.32,196.33a1.0,1.0 0 1,0 2,0a1.0,1.0 0 1,0 -2,0M333.43,198.39a1.0,1.0 0 1,0 2,0a1.0,1.0 0 1,0 -2,0M334.45,181.85a1.0,1.0 0 1,0 2,0a1.0,1.0 0 1,0 -2,0M334.8,190.06a1.0,1.0 0 1,0 2,0a1.0,1.0 0 1,0 -2,0M334.98,192.33a1.0,1.0 0 1,0 2,0a1.0,1.0 0 1,0 -2,0M335.55,201.63a1.0,1.0 0 1,0 2,0a1.0,1.0 0 1,0 -2,0M336.39,191.54a1.0,1.0 0 1,0 2,0a1.0,1.0 0 1,0 -2,0M336.57,189.99a1.0,1.0 0 1,0 2,0a1.0,1.0 0 1,0 -2,0M337.44,187.43a1.0,1.0 0 1,0 2,0a1.0,1.0 0 1,0 -2,0M337.82,183.44a1.0,1.0 0 1,0 2,0a1.0,1.0 0 1,0 -2,0M338.47,188.58a1.0,1.0 0 1,0 2,0a1.0,1.0 0 1,0 -2,0M339.05,196.41a1.0,1.0 0 1,0 2,0a1.0,1.0 0 1,0 -2,0M339.23,184.67a1.0,1.0 0 1,0 2,0a1.0,1.0 0 1,0 -2,0M339.85,185.66a1.0,1.0 0 1,0 2,0a1.0,1.0 0 1,0 -2,0M340.26,179.5a1.0,1.0 0 1,0 2,0a1.0,1.0 0 1,0 -2,0M341.03,181.58a1.0,1.0 0 1,0 2,0a1.0,1.0 0 1,0 -2,0M341.71,179.06a1.0,1.0 0 1,0 2,0a1.0,1.0 0 1,0 -2,0M341.77,181.74a1.0,1.0 0 1,0 2,0a1.0,1.0 0 1,0 -2,0M342.43,182.52a1.0,1.0 0 1,0 2,0a1.0,1.0 0 1,0 -2,0M343.09,195.36a1.0,1.0 0 1,0 2,0a1.0,1.0 0 1,0 -2,0M343.5,174.3a1.0,1.0 0 1,0 2,0a1.0,1.0 0 1,0 -2,0M344.24,174.86a1.0,1.0 0 1,0 2,0a1.0,1.0 0 1,0 -2,0M344.56,188.13a1.0,1.0 0 1,0 2,0a1.0,1.0 0 1,0 -2,0M344.88,188.05a1.0,1.0 0 1,0 2,0a1.0,1.0 0 1,0 -2,0M345.68,187.18a1.0,1.0 0 1,0 2,0a1.0,1.0 0 1,0 -2,0M346.26,188.54a1.0,1.0 0 1,0 2,0a1.0,1.0 0 1,0 -2,0M346.71,180.9a1.0,1.0 0 1,0 2,0a1.0,1.0 0 1,0 -2,0M347.42,184.64a1.0,1.0 0 1,0 2,0a1.0,1.0 0 1,0 -2,0M347.7,174.97a1.0,1.0 0 1,0 2,0a1.0,1.0 0 1,0 -2,0M348.39,180.78a1.0,1.0 0 1,0 2,0a1.0,1.0 0 1,0 -2,0M348.9,189.16a1.0,1.0 0 1,0 2,0a1.0,1.0 0 1,0 -2,0M349.48,169.99a1.0,1.0 0 1,0 2,0a1.0,1.0 0 1,0 -2,0M349.64,172.63a1.0,1.0 0 1,0 2,0a1.0,1.0 0 1,0 -2,0M350.25,183.11a1.0,1.0 0 1,0 2,0a1.0,1.0 0 1,0 -2,0M350.66,173.68a1.0,1.0 0 1,0 2,0a1.0,1.0 0 1,0 -2,0M351.16,184.05a1.0,1.0 0 1,0 2,0a1.0,1.0 0 1,0 -2,0M351.93,179.08a1.0,1.0 0 1,0 2,0a1.0,1.0 0 1,0 -2,0M352.16,176.83a1.0,1.0 0 1,0 2,0a1.0,1.0 0 1,0 -2,0M352.95,181.79a1.0,1.0 0 1,0 2,0a1.0,1.0 0 1,0 -2,0M353.67,178.22a1.0,1.0 0 1,0 2,0a1.0,1.0 0 1,0 -2,0M353.83,182.71a1.0,1.0 0 1,0 2,0a1.0,1.0 0 1,0 -2,0M354.26,177.44a1.0,1.0 0 1,0 2,0a1.0,1.0 0 1,0 -2,0M354.98,165.59a1.0,1.0 0 1,0 2,0a1.0,1.0 0 1,0 -2,0M355.57,177.29a1.0,1.0 0 1,0 2,0a1.0,1.0 0 1,0 -2,0M355.91,185.35a1.0,1.0 0 1,0 2,0a1.0,1.0 0 1,0 -2,0M356.65,166.07a1.0,1.0 0 1,0 2,0a1.0,1.0 0 1,0 -2,0M357.32,171.32a1.0,1.0 0 1,0 2,0a1.0,1.0 0 1,0 -2,0M357.47,174.27a1.0,1.0 0 1,0 2,0a1.0,1.0 0 1,0 -2,0M358.3,183.37a1.0,1.0 0 1,0 2,0a1.0,1.0 0 1,0 -2,0M358.72,175.16a1.0,1.0 0 1,0 2,0a1.0,1.0 0 1,0 -2,0M359.29,175.69a1.0,1.0 0 1,0 2,0a1.0,1.0 0 1,0 -2,0M359.73,170.35a1.0,1.0 0 1,0 2,0a1.0,1.0 0 1,0 -2,0M360.07,175.84a1.0,1.0 0 1,0 2,0a1.0,1.0 0 1,0 -2,0M360.58,168.28a1.0,1.0 0 1,0 2,0a1.0,1.0 0 1,0 -2,0M361.35,170.82a1.0,1.0 0 1,0 2,0a1.0,1.0 0 1,0 -2,0M361.61,183.08a1.0,1.0 0 1,0 2,0a1.0,1.0 0 1,0 -2,0M362.09,178.12a1.0,1.0 0 1,0 2,0a1.0,1.0 0 1,0 -2,0M362.98,180.37a1.0,1.0 0 1,0 2,0a1.0,1.0 0 1,0 -2,0M363.49,164.9a1.0,1.0 0 1,0 2,0a1.0,1.0 0 1,0 -2,0M363.7,167.26a1.0,1.0 0 1,0 2,0a1.0,1.0 0 1,0 -2,0M364.18,167.48a1.0,1.0 0 1,0 2,0a1.0,1.0 0 1,0 -2,0M364.7,168.17a1.0,1.0 0 1,0 2,0a1.0,1.0 0 1,0 -2,0M365.23,171.09a1.0,1.0 0 1,0 2,0a1.0,1.0 0 1,0 -2,0M365.72,163.2a1.0,1.0 0 1,0 2,0a1.0,1.0 0 1,0 -2,0M366.53,178.75a1.0,1.0 0 1,0 2,0a1.0,1.0 0 1,0 -2,0M366.83,163.03a1.0,1.0 0 1,0 2,0a1.0,1.0 0 1,0 -2,0M367.74,156.08a1.0,1.0 0 1,0 2,0a1.0,1.0 0 1,0 -2,0M368.21,170.59a1.0,1.0 0 1,0 2,0a1.0,1.0 0 1,0 -2,0M368.77,165.89a1.0,1.0 0 1,0 2,0a1.0,1.0 0 1,0 -2,0M368.85,168.01a1.0,1.0 0 1,0 2,0a1.0,1.0 0 1,0 -2,0M369.4,169.26a1.0,1.0 0 1,0 2,0a1.0,1.0 0 1,0 -2,0M370.12,168.91a1.0,1.0 0 1,0 2,0a1.0,1.0 0 1,0 -2,0M370.71,169.32a1.0,1.0 0 1,0 2,0a1.0,1.0 0 1,0 -2,0M371.18,167.07a1.0,1.0 0 1,0 2,0a1.0,1.0 0 1,0 -2,0M371.7,164.13a1.0,1.0 0 1,0 2,0a1.0,1.0 0 1,0 -2,0M372.01,167.12a1.0,1.0 0 1,0 2,0a1.0,1.0 0 1,0 -2,0M372.8,163.45a1.0,1.0 0 1,0 2,0a1.0,1.0 0 1,0 -2,0M373.38,165.6a1.0,1.0 0 1,0 2,0a1.0,1.0 0 1,0 -2,0M373.93,162.47a1.0,1.0 0 1,0 2,0a1.0,1.0 0 1,0 -2,0M374.08,166.13a1.0,1.0 0 1,0 2,0a1.0,1.0 0 1,0 -2,0M374.69,160.61a1.0,1.0 0 1,0 2,0a1.0,1.0 0 1,0 -2,0M375.25,169.16a1.0,1.0 0 1,0 2,0a1.0,1.0 0 1,0 -2,0M375.96,168.51a1.0,1.0 0 1,0 2,0a1.0,1.0 0 1,0 -2,0M376.26,158.14a1.0,1.0 0 1,0 2,0a1.0,1.0 0 1,0 -2,0M377.08,171.92a1.0,1.0 0 1,0 2,0a1.0,1.0 0 1,0 -2,0M377.38,154.51a1.0,1.0 0 1,0 2,0a1.0,1.0 0 1,0 -2,0M377.71,164.77a1.0,1.0 0 1,0 2,0a1.0,1.0 0 1,0 -2,0M378.16,160.6a1.0,1.0 0 1,0 2,0a1.0,1.0 0 1,0 -2,0M378.67,159.17a1.0,1.0 0 1,0 2,0a1.0,1.0 0 1,0 -2,0M379.55,154.07a1.0,1.0 0 1,0 2,0a1.0,1.0 0 1,0 -2,0M379.72,165.25a1.0,1.0 0 1,0 2,0a1.0,1.0 0 1,0 -2,0M380.37,152.09a1.0,1.0 0 1,0 2,0a1.0,1.0 0 1,0 -2,0M381.05,155.38a1.0,1.0 0 1,0 2,0a1.0,1.0 0 1,0 -2,0M381.65,161.46a1.0,1.0 0 1,0 2,0a1.0,1.0 0 1,0 -2,0M381.98,162.38a1.0,1.0 0 1,0 2,0a1.0,1.0 0 1,0 -2,0M382.51,159.3a1.0,1.0 0 1,0 2,0a1.0,1.0 0 1,0 -2,0M382.94,155.84a1.0,1.0 0 1,0 2,0a1.0,1.0 0 1,0 -2,0M383.76,140.03a1.0,1.0 0 1,0 2,0a1.0,1.0 0 1,0 -2,0M383.89,157.81a1.0,1.0 0 1,0 2,0a1.0,1.0 0 1,0 -2,0M384.51,165.25a1.0,1.0 0 1,0 2,0a1.0,1.0 0 1,0 -2,0M385.18,148.62a1.0,1.0 0 1,0 2,0a1.0,1.0 0 1,0 -2,0M385.43,145.48a1.0,1.0 0 1,0 2,0a1.0,1.0 0 1,0 -2,0M386.43,160.06a1.0,1.0 0 1,0 2,0a1.0,1.0 0 1,0 -2,0M386.92,154.16a1.0,1.0 0 1,0 2,0a1.0,1.0 0 1,0 -2,0M387.33,146.56a1.0,1.0 0 1,0 2,0a1.0,1.0 0 1,0 -2,0M387.82,136.51a1.0,1.0 0 1,0 2,0a1.0,1.0 0 1,0 -2,0M388.51,142.04a1.0,1.0 0 1,0 2,0a1.0,1.0 0 1,0 -2,0M388.6,144.43a1.0,1.0 0 1,0 2,0a1.0,1.0 0 1,0 -2,0M389.2,152.78a1.0,1.0 0 1,0 2,0a1.0,1.0 0 1,0 -2,0M389.64,142.67a1.0,1.0 0 1,0 2,0a1.0,1.0 0 1,0 -2,0M390.25,143.48a1.0,1.0 0 1,0 2,0a1.0,1.0 0 1,0 -2,0M391.06,150.17a1.0,1.0 0 1,0 2,0a1.0,1.0 0 1,0 -2,0M391.24,136.36a1.0,1.0 0 1,0 2,0a1.0,1.0 0 1,0 -2,0M391.98,136.13a1.0,1.0 0 1,0 2,0a1.0,1.0 0 1,0 -2,0M392.3,140.62a1.0,1.0 0 1,0 2,0a1.0,1.0 0 1,0 -2,0M392.71,136.01a1.0,1.0 0 1,0 2,0a1.0,1.0 0 1,0 -2,0M393.51,143.34a1.0,1.0 0 1,0 2,0a1.0,1.0 0 1,0 -2,0M393.89,136.47a1.0,1.0 0 1,0 2,0a1.0,1.0 0 1,0 -2,0M394.71,140.89a1.0,1.0 0 1,0 2,0a1.0,1.0 0 1,0 -2,0M395.01,144.6a1.0,1.0 0 1,0 2,0a1.0,1.0 0 1,0 -2,0M395.8,142.37a1.0,1.0 0 1,0 2,0a1.0,1.0 0 1,0 -2,0M396,141.93a1.0,1.0 0 1,0 2,0a1.0,1.0 0 1,0 -2,0M396.77,130.91a1.0,1.0 0 1,0 2,0a1.0,1.0 0 1,0 -2,0M397.26,138.03a1.0,1.0 0 1,0 2,0a1.0,1.0 0 1,0 -2,0M397.86,140.33a1.0,1.0 0 1,0 2,0a1.0,1.0 0 1,0 -2,0M398.3,138.57a1.0,1.0 0 1,0 2,0a1.0,1.0 0 1,0 -2,0M398.72,123.89a1.0,1.0 0 1,0 2,0a1.0,1.0 0 1,0 -2,0M399.26,140.12a1.0,1.0 0 1,0 2,0a1.0,1.0 0 1,0 -2,0M399.84,131.74a1.0,1.0 0 1,0 2,0a1.0,1.0 0 1,0 -2,0M400.18,131.92a1.0,1.0 0 1,0 2,0a1.0,1.0 0 1,0 -2,0M400.76,139.58a1.0,1.0 0 1,0 2,0a1.0,1.0 0 1,0 -2,0M401.1,138.77a1.0,1.0 0 1,0 2,0a1.0,1.0 0 1,0 -2,0M402.02,134.61a1.0,1.0 0 1,0 2,0a1.0,1.0 0 1,0 -2,0M402.56,142.26a1.0,1.0 0 1,0 2,0a1.0,1.0 0 1,0 -2,0M402.59,125.4a1.0,1.0 0 1,0 2,0a1.0,1.0 0 1,0 -2,0M403.58,130.08a1.0,1.0 0 1,0 2,0a1.0,1.0 0 1,0 -2,0M403.89,117.14a1.0,1.0 0 1,0 2,0a1.0,1.0 0 1,0 -2,0M404.33,134.31a1.0,1.0 0 1,0 2,0a1.0,1.0 0 1,0 -2,0M405.01,128.77a1.0,1.0 0 1,0 2,0a1.0,1.0 0 1,0 -2,0M405.39,141.27a1.0,1.0 0 1,0 2,0a1.0,1.0 0 1,0 -2,0M406.2,127.06a1.0,1.0 0 1,0 2,0a1.0,1.0 0 1,0 -2,0M406.74,130.25a1.0,1.0 0 1,0 2,0a1.0,1.0 0 1,0 -2,0M406.83,127.71a1.0,1.0 0 1,0 2,0a1.0,1.0 0 1,0 -2,0M407.53,148.07a1.0,1.0 0 1,0 2,0a1.0,1.0 0 1,0 -2,0M408.21,144.75a1.0,1.0 0 1,0 2,0a1.0,1.0 0 1,0 -2,0M408.38,142.74a1.0,1.0 0 1,0 2,0a1.0,1.0 0 1,0 -2,0M408.92,132.08a1.0,1.0 0 1,0 2,0a1.0,1.0 0 1,0 -2,0M409.52,133.71a1.0,1.0 0 1,0 2,0a1.0,1.0 0 1,0 -2,0M410.07,138a1.0,1.0 0 1,0 2,0a1.0,1.0 0 1,0 -2,0M410.38,136.35a1.0,1.0 0 1,0 2,0a1.0,1.0 0 1,0 -2,0M411.25,143.53a1.0,1.0 0 1,0 2,0a1.0,1.0 0 1,0 -2,0M411.56,132.78a1.0,1.0 0 1,0 2,0a1.0,1.0 0 1,0 -2,0M412.24,121.56a1.0,1.0 0 1,0 2,0a1.0,1.0 0 1,0 -2,0M412.85,142.85a1.0,1.0 0 1,0 2,0a1.0,1.0 0 1,0 -2,0M413.25,143.78a1.0,1.0 0 1,0 2,0a1.0,1.0 0 1,0 -2,0M413.53,134.03a1.0,1.0 0 1,0 2,0a1.0,1.0 0 1,0 -2,0M414.39,142.74a1.0,1.0 0 1,0 2,0a1.0,1.0 0 1,0 -2,0M414.59,144.75a1.0,1.0 0 1,0 2,0a1.0,1.0 0 1,0 -2,0M415.29,138.75a1.0,1.0 0 1,0 2,0a1.0,1.0 0 1,0 -2,0M415.88,154.6a1.0,1.0 0 1,0 2,0a1.0,1.0 0 1,0 -2,0M416.23,137.13a1.0,1.0 0 1,0 2,0a1.0,1.0 0 1,0 -2,0M416.78,154.56a1.0,1.0 0 1,0 2,0a1.0,1.0 0 1,0 -2,0M417.45,147.18a1.0,1.0 0 1,0 2,0a1.0,1.0 0 1,0 -2,0M417.79,132.38a1.0,1.0 0 1,0 2,0a1.0,1.0 0 1,0 -2,0M418.34,145.59a1.0,1.0 0 1,0 2,0a1.0,1.0 0 1,0 -2,0M418.83,137.17a1.0,1.0 0 1,0 2,0a1.0,1.0 0 1,0 -2,0M419.73,145.19a1.0,1.0 0 1,0 2,0a1.0,1.0 0 1,0 -2,0M420.02,145.42a1.0,1.0 0 1,0 2,0a1.0,1.0 0 1,0 -2,0M420.32,146.81a1.0,1.0 0 1,0 2,0a1.0,1.0 0 1,0 -2,0M420.88,146.55a1.0,1.0 0 1,0 2,0a1.0,1.0 0 1,0 -2,0M421.65,149.68a1.0,1.0 0 1,0 2,0a1.0,1.0 0 1,0 -2,0M421.87,154.93a1.0,1.0 0 1,0 2,0a1.0,1.0 0 1,0 -2,0M422.57,152.16a1.0,1.0 0 1,0 2,0a1.0,1.0 0 1,0 -2,0M423.04,152.36a1.0,1.0 0 1,0 2,0a1.0,1.0 0 1,0 -2,0M423.49,141.9a1.0,1.0 0 1,0 2,0a1.0,1.0 0 1,0 -2,0M424.14,148.44a1.0,1.0 0 1,0 2,0a1.0,1.0 0 1,0 -2,0M424.89,151.8a1.0,1.0 0 1,0 2,0a1.0,1.0 0 1,0 -2,0M425.26,150.73a1.0,1.0 0 1,0 2,0a1.0,1.0 0 1,0 -2,0M425.73,156.04a1.0,1.0 0 1,0 2,0a1.0,1.0 0 1,0 -2,0M426.18,153.44a1.0,1.0 0 1,0 2,0a1.0,1.0 0 1,0 -2,0M426.7,150.89a1.0,1.0 0 1,0 2,0a1.0,1.0 0 1,0 -2,0M427.19,160.53a1.0,1.0 0 1,0 2,0a1.0,1.0 0 1,0 -2,0M427.73,161.82a1.0,1.0 0 1,0 2,0a1.0,1.0 0 1,0 -2,0M428.22,156.32a1.0,1.0 0 1,0 2,0a1.0,1.0 0 1,0 -2,0M428.73,163.61a1.0,1.0 0 1,0 2,0a1.0,1.0 0 1,0 -2,0M429.56,166.03a1.0,1.0 0 1,0 2,0a1.0,1.0 0 1,0 -2,0M429.64,161.59a1.0,1.0 0 1,0 2,0a1.0,1.0 0 1,0 -2,0M430.35,156.53a1.0,1.0 0 1,0 2,0a1.0,1.0 0 1,0 -2,0M431.1,158.44a1.0,1.0 0 1,0 2,0a1.0,1.0 0 1,0 -2,0M431.24,157.9a1.0,1.0 0 1,0 2,0a1.0,1.0 0 1,0 -2,0M431.72,160a1.0,1.0 0 1,0 2,0a1.0,1.0 0 1,0 -2,0M432.38,163.35a1.0,1.0 0 1,0 2,0a1.0,1.0 0 1,0 -2,0M433.07,166.6a1.0,1.0 0 1,0 2,0a1.0,1.0 0 1,0 -2,0M433.63,166.34a1.0,1.0 0 1,0 2,0a1.0,1.0 0 1,0 -2,0M433.96,155.39a1.0,1.0 0 1,0 2,0a1.0,1.0 0 1,0 -2,0M434.45,168.39a1.0,1.0 0 1,0 2,0a1.0,1.0 0 1,0 -2,0M434.84,168.68a1.0,1.0 0 1,0 2,0a1.0,1.0 0 1,0 -2,0M435.45,172.09a1.0,1.0 0 1,0 2,0a1.0,1.0 0 1,0 -2,0M436.22,165.15a1.0,1.0 0 1,0 2,0a1.0,1.0 0 1,0 -2,0M436.53,165.53a1.0,1.0 0 1,0 2,0a1.0,1.0 0 1,0 -2,0M437.38,171.66a1.0,1.0 0 1,0 2,0a1.0,1.0 0 1,0 -2,0M437.75,166a1.0,1.0 0 1,0 2,0a1.0,1.0 0 1,0 -2,0M438.16,175.29a1.0,1.0 0 1,0 2,0a1.0,1.0 0 1,0 -2,0M438.86,170.38a1.0,1.0 0 1,0 2,0a1.0,1.0 0 1,0 -2,0M439.12,165.4a1.0,1.0 0 1,0 2,0a1.0,1.0 0 1,0 -2,0M439.78,176.53a1.0,1.0 0 1,0 2,0a1.0,1.0 0 1,0 -2,0M440.23,174.19a1.0,1.0 0 1,0 2,0a1.0,1.0 0 1,0 -2,0M440.91,168.79a1.0,1.0 0 1,0 2,0a1.0,1.0 0 1,0 -2,0M441.33,170.73a1.0,1.0 0 1,0 2,0a1.0,1.0 0 1,0 -2,0M441.74,175.66a1.0,1.0 0 1,0 2,0a1.0,1.0 0 1,0 -2,0M442.27,175.92a1.0,1.0 0 1,0 2,0a1.0,1.0 0 1,0 -2,0M442.71,163.13a1.0,1.0 0 1,0 2,0a1.0,1.0 0 1,0 -2,0M443.54,167.4a1.0,1.0 0 1,0 2,0a1.0,1.0 0 1,0 -2,0M443.85,176.18a1.0,1.0 0 1,0 2,0a1.0,1.0 0 1,0 -2,0M444.28,177.29a1.0,1.0 0 1,0 2,0a1.0,1.0 0 1,0 -2,0M444.87,170.97a1.0,1.0 0 1,0 2,0a1.0,1.0 0 1,0 -2,0M445.26,171.73a1.0,1.0 0 1,0 2,0a1.0,1.0 0 1,0 -2,0M445.78,183.44a1.0,1.0 0 1,0 2,0a1.0,1.0 0 1,0 -2,0M446.32,181.7a1.0,1.0 0 1,0 2,0a1.0,1.0 0 1,0 -2,0M447.06,171.78a1.0,1.0 0 1,0 2,0a1.0,1.0 0 1,0 -2,0M447.63,182.35a1.0,1.0 0 1,0 2,0a1.0,1.0 0 1,0 -2,0M447.95,173.41a1.0,1.0 0 1,0 2,0a1.0,1.0 0 1,0 -2,0M448.78,185.54a1.0,1.0 0 1,0 2,0a1.0,1.0 0 1,0 -2,0M449.3,179.65a1.0,1.0 0 1,0 2,0a1.0,1.0 0 1,0 -2,0M449.81,181.68a1.0,1.0 0 1,0 2,0a1.0,1.0 0 1,0 -2,0M450.33,175.71a1.0,1.0 0 1,0 2,0a1.0,1.0 0 1,0 -2,0M450.61,173a1.0,1.0 0 1,0 2,0a1.0,1.0 0 1,0 -2,0M451.23,178.2a1.0,1.0 0 1,0 2,0a1.0,1.0 0 1,0 -2,0M451.93,182.13a1.0,1.0 0 1,0 2,0a1.0,1.0 0 1,0 -2,0M452.06,172.39a1.0,1.0 0 1,0 2,0a1.0,1.0 0 1,0 -2,0M452.86,177.27a1.0,1.0 0 1,0 2,0a1.0,1.0 0 1,0 -2,0M453.07,165.98a1.0,1.0 0 1,0 2,0a1.0,1.0 0 1,0 -2,0M453.92,176.68a1.0,1.0 0 1,0 2,0a1.0,1.0 0 1,0 -2,0M454.47,186.11a1.0,1.0 0 1,0 2,0a1.0,1.0 0 1,0 -2,0M454.85,178.87a1.0,1.0 0 1,0 2,0a1.0,1.0 0 1,0 -2,0M455.45,177.69a1.0,1.0 0 1,0 2,0a1.0,1.0 0 1,0 -2,0M455.77,183.81a1.0,1.0 0 1,0 2,0a1.0,1.0 0 1,0 -2,0M456.24,176.67a1.0,1.0 0 1,0 2,0a1.0,1.0 0 1,0 -2,0M457.17,178.91a1.0,1.0 0 1,0 2,0a1.0,1.0 0 1,0 -2,0M457.68,191.78a1.0,1.0 0 1,0 2,0a1.0,1.0 0 1,0 -2,0M458.05,182.91a1.0,1.0 0 1,0 2,0a1.0,1.0 0 1,0 -2,0M458.72,180.37a1.0,1.0 0 1,0 2,0a1.0,1.0 0 1,0 -2,0M458.92,179.94a1.0,1.0 0 1,0 2,0a1.0,1.0 0 1,0 -2,0M459.61,186.5a1.0,1.0 0 1,0 2,0a1.0,1.0 0 1,0 -2,0M459.97,190.23a1.0,1.0 0 1,0 2,0a1.0,1.0 0 1,0 -2,0M460.59,177.7a1.0,1.0 0 1,0 2,0a1.0,1.0 0 1,0 -2,0M461.28,186.43a1.0,1.0 0 1,0 2,0a1.0,1.0 0 1,0 -2,0M461.47,192.43a1.0,1.0 0 1,0 2,0a1.0,1.0 0 1,0 -2,0M462.11,180.25a1.0,1.0 0 1,0 2,0a1.0,1.0 0 1,0 -2,0M462.44,185.69a1.0,1.0 0 1,0 2,0a1.0,1.0 0 1,0 -2,0M463.11,183a1.0,1.0 0 1,0 2,0a1.0,1.0 0 1,0 -2,0M463.71,174.99a1.0,1.0 0 1,0 2,0a1.0,1.0 0 1,0 -2,0M464.46,185.57a1.0,1.0 0 1,0 2,0a1.0,1.0 0 1,0 -2,0M464.66,194.03a1.0,1.0 0 1,0 2,0a1.0,1.0 0 1,0 -2,0M465.38,192.86a1.0,1.0 0 1,0 2,0a1.0,1.0 0 1,0 -2,0M465.62,186.48a1.0,1.0 0 1,0 2,0a1.0,1.0 0 1,0 -2,0M466.13,193.69a1.0,1.0 0 1,0 2,0a1.0,1.0 0 1,0 -2,0M467,184.97a1.0,1.0 0 1,0 2,0a1.0,1.0 0 1,0 -2,0M467.54,191.58a1.0,1.0 0 1,0 2,0a1.0,1.0 0 1,0 -2,0M467.76,191.32a1.0,1.0 0 1,0 2,0a1.0,1.0 0 1,0 -2,0M468.16,182.65a1.0,1.0 0 1,0 2,0a1.0,1.0 0 1,0 -2,0M469,186.1a1.0,1.0 0 1,0 2,0a1.0,1.0 0 1,0 -2,0M469.43,185.33a1.0,1.0 0 1,0 2,0a1.0,1.0 0 1,0 -2,0M470.01,197a1.0,1.0 0 1,0 2,0a1.0,1.0 0 1,0 -2,0M470.62,189.76a1.0,1.0 0 1,0 2,0a1.0,1.0 0 1,0 -2,0M470.76,188.69a1.0,1.0 0 1,0 2,0a1.0,1.0 0 1,0 -2,0M471.37,190.77a1.0,1.0 0 1,0 2,0a1.0,1.0 0 1,0 -2,0M472.2,185.92a1.0,1.0 0 1,0 2,0a1.0,1.0 0 1,0 -2,0M472.75,184.63a1.0,1.0 0 1,0 2,0a1.0,1.0 0 1,0 -2,0M473.04,186.77a1.0,1.0 0 1,0 2,0a1.0,1.0 0 1,0 -2,0M473.39,189.13a1.0,1.0 0 1,0 2,0a1.0,1.0 0 1,0 -2,0M474.07,186.48a1.0,1.0 0 1,0 2,0a1.0,1.0 0 1,0 -2,0M474.79,192.09a1.0,1.0 0 1,0 2,0a1.0,1.0 0 1,0 -2,0M474.97,193.22a1.0,1.0 0 1,0 2,0a1.0,1.0 0 1,0 -2,0M475.47,187.31a1.0,1.0 0 1,0 2,0a1.0,1.0 0 1,0 -2,0M476.1,181.48a1.0,1.0 0 1,0 2,0a1.0,1.0 0 1,0 -2,0M476.59,195.63a1.0,1.0 0 1,0 2,0a1.0,1.0 0 1,0 -2,0M476.96,172.65a1.0,1.0 0 1,0 2,0a1.0,1.0 0 1,0 -2,0M477.6,186.01a1.0,1.0 0 1,0 2,0a1.0,1.0 0 1,0 -2,0M478.25,187.41a1.0,1.0 0 1,0 2,0a1.0,1.0 0 1,0 -2,0M478.79,189.25a1.0,1.0 0 1,0 2,0a1.0,1.0 0 1,0 -2,0M479.35,194.25a1.0,1.0 0 1,0 2,0a1.0,1.0 0 1,0 -2,0M479.95,184.59a1.0,1.0 0 1,0 2,0a1.0,1.0 0 1,0 -2,0M480.22,195.06a1.0,1.0 0 1,0 2,0a1.0,1.0 0 1,0 -2,0M480.91,186.77a1.0,1.0 0 1,0 2,0a1.0,1.0 0 1,0 -2,0M481.13,181.72a1.0,1.0 0 1,0 2,0a1.0,1.0 0 1,0 -2,0M481.87,179.61a1.0,1.0 0 1,0 2,0a1.0,1.0 0 1,0 -2,0M482.32,186.92a1.0,1.0 0 1,0 2,0a1.0,1.0 0 1,0 -2,0M482.9,197.72a1.0,1.0 0 1,0 2,0a1.0,1.0 0 1,0 -2,0M483.27,182.21a1.0,1.0 0 1,0 2,0a1.0,1.0 0 1,0 -2,0M484.08,184.8a1.0,1.0 0 1,0 2,0a1.0,1.0 0 1,0 -2,0M484.7,190.79a1.0,1.0 0 1,0 2,0a1.0,1.0 0 1,0 -2,0M485.04,187.65a1.0,1.0 0 1,0 2,0a1.0,1.0 0 1,0 -2,0M485.48,182.68a1.0,1.0 0 1,0 2,0a1.0,1.0 0 1,0 -2,0M486.25,188.95a1.0,1.0 0 1,0 2,0a1.0,1.0 0 1,0 -2,0M486.39,185.67a1.0,1.0 0 1,0 2,0a1.0,1.0 0 1,0 -2,0M487.03,185a1.0,1.0 0 1,0 2,0a1.0,1.0 0 1,0 -2,0M487.68,180.72a1.0,1.0 0 1,0 2,0a1.0,1.0 0 1,0 -2,0M488.17,184.62a1.0,1.0 0 1,0 2,0a1.0,1.0 0 1,0 -2,0M488.56,187.54a1.0,1.0 0 1,0 2,0a1.0,1.0 0 1,0 -2,0M489.36,186.61a1.0,1.0 0 1,0 2,0a1.0,1.0 0 1,0 -2,0M489.59,186.93a1.0,1.0 0 1,0 2,0a1.0,1.0 0 1,0 -2,0M490.29,183.19a1.0,1.0 0 1,0 2,0a1.0,1.0 0 1,0 -2,0M490.48,188.78a1.0,1.0 0 1,0 2,0a1.0,1.0 0 1,0 -2,0M491.29,184.98a1.0,1.0 0 1,0 2,0a1.0,1.0 0 1,0 -2,0M491.98,187.14a1.0,1.0 0 1,0 2,0a1.0,1.0 0 1,0 -2,0M492.34,189.52a1.0,1.0 0 1,0 2,0a1.0,1.0 0 1,0 -2,0M492.62,188.74a1.0,1.0 0 1,0 2,0a1.0,1.0 0 1,0 -2,0M493.48,190.39a1.0,1.0 0 1,0 2,0a1.0,1.0 0 1,0 -2,0M493.87,187.24a1.0,1.0 0 1,0 2,0a1.0,1.0 0 1,0 -2,0M494.49,189.84a1.0,1.0 0 1,0 2,0a1.0,1.0 0 1,0 -2,0M495.02,192.63a1.0,1.0 0 1,0 2,0a1.0,1.0 0 1,0 -2,0M495.38,196.88a1.0,1.0 0 1,0 2,0a1.0,1.0 0 1,0 -2,0M495.73,190.51a1.0,1.0 0 1,0 2,0a1.0,1.0 0 1,0 -2,0M496.58,195.1a1.0,1.0 0 1,0 2,0a1.0,1.0 0 1,0 -2,0M497.09,203.44a1.0,1.0 0 1,0 2,0a1.0,1.0 0 1,0 -2,0M497.25,204.73a1.0,1.0 0 1,0 2,0a1.0,1.0 0 1,0 -2,0M498.23,203.21a1.0,1.0 0 1,0 2,0a1.0,1.0 0 1,0 -2,0M498.64,207.91a1.0,1.0 0 1,0 2,0a1.0,1.0 0 1,0 -2,0M499.18,208.98a1.0,1.0 0 1,0 2,0a1.0,1.0 0 1,0 -2,0M499.63,213.91a1.0,1.0 0 1,0 2,0a1.0,1.0 0 1,0 -2,0M499.99,213.24a1.0,1.0 0 1,0 2,0a1.0,1.0 0 1,0 -2,0" fill="#1f8fbf"/>
<circle cx="314" cy="9.5" r="0.9" fill="#1f8fbf"/>
<text x="326.2" y="12.6" font-size="8.8" text-anchor="start" fill="#111" >8.90μm-abraded</text>
<circle cx="314" cy="20" r="0.9" fill="#f2841f"/>
<text x="326.2" y="23.1" font-size="8.8" text-anchor="start" fill="#111" >8.90μm-slowly cooled</text>
<circle cx="314" cy="116.8" r="0.9" fill="#1f8fbf"/>
<text x="326.2" y="119.9" font-size="8.8" text-anchor="start" fill="#111" >0.80μm-abraded</text>
<circle cx="314" cy="128" r="0.9" fill="#f2841f"/>
<text x="326.2" y="131.1" font-size="8.8" text-anchor="start" fill="#111" >0.80μm-slowly cooled</text>
<line x1="304" y1="215.3" x2="304" y2="212.3" stroke="#444" stroke-width="0.9" />
<text x="304" y="225.4" font-size="8.3" text-anchor="middle" fill="#111" >-200</text>
<line x1="317" y1="215.3" x2="317" y2="213.7" stroke="#444" stroke-width="0.9" />
<line x1="330" y1="215.3" x2="330" y2="212.3" stroke="#444" stroke-width="0.9" />
<text x="330" y="225.4" font-size="8.3" text-anchor="middle" fill="#111" >-150</text>
<line x1="343" y1="215.3" x2="343" y2="213.7" stroke="#444" stroke-width="0.9" />
<line x1="356" y1="215.3" x2="356" y2="212.3" stroke="#444" stroke-width="0.9" />
<text x="356" y="225.4" font-size="8.3" text-anchor="middle" fill="#111" >-100</text>
<line x1="369" y1="215.3" x2="369" y2="213.7" stroke="#444" stroke-width="0.9" />
<line x1="382" y1="215.3" x2="382" y2="212.3" stroke="#444" stroke-width="0.9" />
<text x="382" y="225.4" font-size="8.3" text-anchor="middle" fill="#111" >-50</text>
<line x1="395" y1="215.3" x2="395" y2="213.7" stroke="#444" stroke-width="0.9" />
<line x1="408" y1="215.3" x2="408" y2="212.3" stroke="#444" stroke-width="0.9" />
<text x="408" y="225.4" font-size="8.3" text-anchor="middle" fill="#111" >0</text>
<line x1="421" y1="215.3" x2="421" y2="213.7" stroke="#444" stroke-width="0.9" />
<line x1="434" y1="215.3" x2="434" y2="212.3" stroke="#444" stroke-width="0.9" />
<text x="434" y="225.4" font-size="8.3" text-anchor="middle" fill="#111" >50</text>
<line x1="447" y1="215.3" x2="447" y2="213.7" stroke="#444" stroke-width="0.9" />
<line x1="460" y1="215.3" x2="460" y2="212.3" stroke="#444" stroke-width="0.9" />
<text x="460" y="225.4" font-size="8.3" text-anchor="middle" fill="#111" >100</text>
<line x1="473" y1="215.3" x2="473" y2="213.7" stroke="#444" stroke-width="0.9" />
<line x1="486" y1="215.3" x2="486" y2="212.3" stroke="#444" stroke-width="0.9" />
<text x="486" y="225.4" font-size="8.3" text-anchor="middle" fill="#111" >150</text>
<line x1="499" y1="215.3" x2="499" y2="213.7" stroke="#444" stroke-width="0.9" />
<line x1="512" y1="215.3" x2="512" y2="212.3" stroke="#444" stroke-width="0.9" />
<text x="512" y="225.4" font-size="8.3" text-anchor="middle" fill="#111" >200</text>
<text x="407.6" y="240.3" font-size="9.4" text-anchor="middle" fill="#111" >Phase (°)</text>
<text x="0" y="0" font-size="8.75" text-anchor="middle" fill="#111" transform="translate(297.4,54.6) rotate(-90)">Number of Points(a.u.)</text>
<text x="0" y="0" font-size="8.75" text-anchor="middle" fill="#111" transform="translate(297.4,161.2) rotate(-90)">Number of Points(a.u.)</text>
<text x="262" y="33" font-size="17" text-anchor="start" fill="#111" >(b)</text>
<rect x="43.5" y="241.6" width="143.1" height="216.4" fill="#fff" stroke="#444" stroke-width="1"/>
<rect x="192.2" y="241.6" width="63.10000000000002" height="216.4" fill="#fff" stroke="#444" stroke-width="1"/>
<line x1="43.5" y1="350" x2="186.6" y2="350" stroke="#444" stroke-width="1" />
<line x1="192.2" y1="350" x2="255.3" y2="350" stroke="#444" stroke-width="1" />
<polyline points="53.75,344.15 53.96,344.11 54.16,344.16 54.36,344.04 54.57,343.71 54.77,344.13 54.98,344.14 55.19,344.03 55.39,343.67 55.59,344.14 55.8,344.15 56.01,343.88 56.21,343.97 56.41,344.06 56.62,343.94 56.83,344.11 57.03,343.96 57.24,344.05 57.44,343.96 57.64,343.73 57.85,343.8 58.05,344.41 58.26,343.99 58.46,344.13 58.67,344.11 58.88,344.19 59.08,344.02 59.29,343.85 59.49,343.94 59.69,343.66 59.9,343.91 60.11,344.07 60.31,343.62 60.51,343.96 60.72,344.05 60.92,344.12 61.13,343.79 61.34,343.83 61.54,343.65 61.74,343.78 61.95,344 62.16,344.22 62.36,343.75 62.56,344.12 62.77,343.98 62.98,343.84 63.18,344.23 63.39,343.55 63.59,343.9 63.79,343.94 64,344.22 64.2,344.17 64.41,344.23 64.61,343.92 64.82,344.04 65.03,344.09 65.23,343.97 65.44,343.94 65.64,343.86 65.84,343.83 66.05,343.7 66.25,344.16 66.46,343.81 66.66,343.57 66.87,343.91 67.08,343.86 67.28,343.89 67.48,344.12 67.69,343.84 67.89,343.81 68.1,343.74 68.31,343.84 68.51,343.77 68.71,343.86 68.92,344.28 69.12,343.87 69.33,343.69 69.53,344.09 69.74,343.92 69.94,343.91 70.15,343.89 70.36,343.89 70.56,343.87 70.76,343.96 70.97,343.89 71.17,343.93 71.38,343.65 71.59,343.71 71.79,343.6 71.99,343.83 72.2,343.8 72.41,343.59 72.61,343.73 72.81,344.01 73.02,343.79 73.22,343.42 73.43,343.55 73.64,343.63 73.84,343.51 74.04,343.54 74.25,343.63 74.45,343.47 74.66,343.22 74.86,343.44 75.07,343.28 75.28,343.26 75.48,343.1 75.69,342.92 75.89,342.86 76.09,342.91 76.3,342.72 76.5,342.37 76.71,342.81 76.91,342.33 77.12,342.23 77.33,342.22 77.53,341.57 77.73,341.84 77.94,341.21 78.14,341.02 78.35,340.36 78.56,339.87 78.76,339.07 78.96,338.08 79.17,336.55 79.38,334.96 79.58,333.06 79.78,330.58 79.99,327.07 80.19,323.78 80.4,320.86 80.61,319.75 80.81,320.91 81.01,323.33 81.22,326.96 81.42,330.03 81.63,332.59 81.84,334.5 82.04,336 82.24,337.04 82.45,337.79 82.65,338.8 82.86,338.95 83.06,338.81 83.27,338.93 83.47,338.7 83.68,338.59 83.89,339.06 84.09,339.84 84.3,340.57 84.5,340.86 84.7,341.17 84.91,341.65 85.11,341.85 85.32,342.04 85.53,342.41 85.73,342.56 85.94,342.64 86.14,342.75 86.34,342.84 86.55,343.1 86.75,343.34 86.96,343.17 87.16,343.59 87.37,343.08 87.57,343.4 87.78,343.23 87.98,343.41 88.19,343.48 88.4,343.58 88.6,343.69 88.8,343.47 89.01,343.39 89.21,343.56 89.42,343.65 89.62,343.52 89.83,343.77 90.03,343.9 90.24,343.46 90.45,343.74 90.65,343.84 90.85,343.42 91.06,343.74 91.26,343.69 91.47,343.52 91.67,343.93 91.88,343.78 92.09,343.69 92.29,343.83 92.5,343.86 92.7,343.89 92.9,343.86 93.11,343.84 93.31,343.62 93.52,343.73 93.72,343.82 93.93,343.4 94.14,344.12 94.34,343.75 94.55,343.66 94.75,343.55 94.95,343.85 95.16,343.82 95.36,343.73 95.57,343.76 95.78,343.69 95.98,343.72 96.19,343.81 96.39,343.73 96.59,343.93 96.8,343.81 97,343.85 97.21,343.89 97.41,344.02 97.62,343.92 97.82,343.87 98.03,343.81 98.23,343.71 98.44,343.78 98.65,343.93 98.85,343.86 99.05,343.77 99.26,343.63 99.46,343.6 99.67,343.87 99.88,343.97 100.08,343.88 100.28,343.62 100.49,343.78 100.7,343.85 100.9,343.68 101.1,343.86 101.31,343.77 101.51,343.68 101.72,343.61 101.92,343.91 102.13,343.84 102.34,343.65 102.54,343.62 102.75,343.9 102.95,343.85 103.15,343.71 103.36,343.98 103.56,343.69 103.77,343.57 103.97,343.87 104.18,343.67 104.38,343.74 104.59,343.68 104.8,343.51 105,343.47 105.2,343.59 105.41,343.8 105.61,343.43 105.82,343.75 106.03,343.55 106.23,343.32 106.44,343.49 106.64,343.49 106.84,343.23 107.05,342.99 107.25,343.29 107.46,343 107.66,343.14 107.87,342.7 108.07,342.83 108.28,342.59 108.48,342.32 108.69,342.29 108.9,342.09 109.1,341.66 109.3,341.15 109.51,340.83 109.71,339.87 109.92,339.32 110.12,338.18 110.33,336.91 110.53,335.05 110.74,333.12 110.95,331.57 111.15,330.93 111.35,331.34 111.56,333.28 111.76,335 111.97,336.62 112.17,337.94 112.38,339.46 112.59,340.2 112.79,340.62 113,341.42 113.2,342.01 113.4,342.05 113.61,342.37 113.81,342.46 114.02,342.61 114.22,343 114.43,343.41 114.63,343.08 114.84,343.13 115.05,343.34 115.25,343.24 115.45,343.44 115.66,343.51 115.86,343.28 116.07,343.31 116.27,343.48 116.48,343.64 116.69,343.59 116.89,343.75 117.09,343.39 117.3,343.68 117.5,343.53 117.71,343.65 117.91,343.7 118.12,343.52 118.32,343.64 118.53,343.51 118.73,343.73 118.94,343.58 119.15,343.63 119.35,343.74 119.55,343.62 119.76,343.89 119.96,343.63 120.17,343.85 120.38,343.77 120.58,343.58 120.78,343.71 120.99,343.62 121.2,343.69 121.4,343.7 121.6,344.01 121.81,343.68 122.01,343.97 122.22,343.8 122.42,343.55 122.63,343.4 122.83,343.83 123.04,343.44 123.25,343.83 123.45,343.87 123.65,343.78 123.86,343.69 124.06,343.68 124.27,343.75 124.47,343.66 124.68,343.62 124.89,343.64 125.09,343.85 125.3,343.58 125.5,343.72 125.7,343.49 125.91,343.54 126.11,343.44 126.32,343.6 126.52,343.71 126.73,343.65 126.94,343.52 127.14,343.66 127.34,343.51 127.55,343.59 127.75,343.56 127.96,343.58 128.16,343.12 128.37,343.26 128.57,343.54 128.78,343.38 128.99,343.69 129.19,343.3 129.4,343.21 129.6,343.47 129.8,343.29 130.01,343.43 130.21,343.18 130.42,343.01 130.62,343.08 130.83,342.79 131.03,342.75 131.24,342.64 131.44,342.58 131.65,342.61 131.85,342.29 132.06,342.26 132.26,341.96 132.47,341.96 132.68,341.2 132.88,341.3 133.08,341.05 133.29,340.51 133.5,340.4 133.7,339.81 133.9,339.42 134.11,338.75 134.31,338.02 134.52,337.17 134.72,336.27 134.93,335.67 135.13,335.01 135.34,334.67 135.55,334.37 135.75,334.94 135.95,334.57 136.16,335.45 136.36,335.77 136.57,336.37 136.77,337.06 136.98,337.36 137.19,337.52 137.39,337.97 137.59,338.02 137.8,337.85 138,338.3 138.21,338.34 138.41,338.72 138.62,339.34 138.82,339.8 139.03,340.21 139.24,341.02 139.44,341.17 139.65,341.36 139.85,341.77 140.05,341.97 140.26,341.88 140.46,342.14 140.67,342.32 140.88,342.95 141.08,342.74 141.28,342.83 141.49,342.87 141.69,343.17 141.9,343.1 142.1,343.4 142.31,343.32 142.51,343.5 142.72,343.29 142.93,343.4 143.13,343.32 143.33,343.39 143.54,343.19 143.75,343.38 143.95,343.35 144.15,343.42 144.36,343.71 144.56,343.59 144.77,343.75 144.97,343.71 145.18,343.74 145.38,343.77 145.59,343.55 145.8,343.76 146,343.61 146.2,343.59 146.41,343.85 146.61,344 146.82,343.55 147.02,343.96 147.23,343.83 147.44,343.6 147.64,343.76 147.84,343.78 148.05,343.79 148.25,343.69 148.46,343.56 148.66,343.75 148.87,343.88 149.07,343.87 149.28,343.86 149.49,343.92 149.69,343.62 149.9,343.76 150.1,343.82 150.3,343.91 150.51,343.79 150.71,343.85 150.92,343.79 151.12,344.07 151.33,343.45 151.53,343.77 151.74,344.13 151.94,343.8 152.15,343.5 152.35,343.78 152.56,343.55 152.76,343.65 152.97,343.78 153.18,343.99 153.38,343.8 153.58,343.83 153.79,343.87 154,343.74 154.2,343.58 154.4,343.68 154.61,343.73 154.81,343.63 155.02,343.55 155.22,343.58 155.43,343.4 155.63,343.44 155.84,343.55 156.05,343.49 156.25,343.51 156.45,343.67 156.66,343.47 156.86,343.38 157.07,343.16 157.27,343.11 157.48,343.24 157.69,342.98 157.89,343.07 158.09,342.74 158.3,342.78 158.5,342.6 158.71,342.58 158.91,342.18 159.12,341.96 159.32,341.82 159.53,341.55 159.74,341.55 159.94,341.08 160.14,340.91 160.35,340.9 160.55,341.06 160.76,341.16 160.96,341.42 161.17,341.35 161.38,342.15 161.58,342.29 161.78,342.25 161.99,342.28 162.19,342.65 162.4,342.84 162.6,342.59 162.81,343.03 163.01,342.92 163.22,343.28 163.43,343.49 163.63,343.5 163.83,343.19 164.04,343.66 164.25,343.64 164.45,343.49 164.65,343.65 164.86,343.83 165.06,343.59 165.27,343.66 165.47,343.6 165.68,343.87 165.88,343.41 166.09,343.94 166.3,343.61 166.5,343.9 166.7,343.54 166.91,343.65 167.11,343.71 167.32,343.93 167.52,343.58 167.73,343.91 167.94,343.74 168.14,344.02 168.34,343.8 168.55,343.92 168.75,343.83 168.96,344.12 169.16,343.82 169.37,343.87 169.57,344.16 169.78,343.89 169.99,343.98 170.19,343.78 170.39,343.92 170.6,343.57 170.8,343.91 171.01,343.81 171.21,343.69 171.42,343.7 171.62,344.07 171.83,343.97 172.03,343.7 172.24,344.18 172.44,343.82 172.65,343.87 172.85,343.96 173.06,343.76 173.26,343.69 173.47,343.82 173.67,344.1 173.88,344.07 174.08,343.7 174.29,344.11 174.5,343.94 174.7,344.01 174.9,343.95 175.11,344 175.31,343.8 175.52,343.81 175.72,343.84 175.93,343.89 176.13,344.03 176.34,343.77 176.55,344.18 176.75,343.86" fill="none" stroke="#1e1e1e" stroke-width="1.1" stroke-linejoin="round"/>
<polyline points="53.75,328.6 53.96,328.78 54.16,328.74 54.36,328.63 54.57,328.53 54.77,328.54 54.98,328.45 55.19,328.84 55.39,328.84 55.59,328.95 55.8,328.75 56.01,328.73 56.21,328.79 56.41,328.81 56.62,328.64 56.83,328.73 57.03,328.99 57.24,328.43 57.44,328.47 57.64,328.54 57.85,328.78 58.05,328.85 58.26,328.63 58.46,328.77 58.67,328.67 58.88,328.72 59.08,328.59 59.29,328.67 59.49,328.67 59.69,328.83 59.9,328.99 60.11,328.41 60.31,328.75 60.51,328.67 60.72,328.81 60.92,328.82 61.13,328.78 61.34,328.78 61.54,328.53 61.74,328.42 61.95,328.91 62.16,328.84 62.36,328.53 62.56,328.85 62.77,328.76 62.98,328.31 63.18,328.79 63.39,328.52 63.59,328.83 63.79,328.56 64,328.55 64.2,328.43 64.41,328.62 64.61,328.8 64.82,328.55 65.03,328.38 65.23,328.96 65.44,328.91 65.64,328.75 65.84,328.57 66.05,328.47 66.25,328.41 66.46,328.72 66.66,328.83 66.87,328.48 67.08,328.64 67.28,328.59 67.48,328.6 67.69,328.7 67.89,328.93 68.1,328.53 68.31,328.75 68.51,328.78 68.71,328.58 68.92,328.59 69.12,328.42 69.33,328.77 69.53,328.53 69.74,328.51 69.94,328.61 70.15,328.47 70.36,328.44 70.56,328.55 70.76,328.8 70.97,328.55 71.17,328.65 71.38,328.36 71.59,328.28 71.79,328.82 71.99,328.49 72.2,328.32 72.41,328.52 72.61,328.62 72.81,328.27 73.02,328.38 73.22,328.54 73.43,328.35 73.64,328.59 73.84,328.6 74.04,328.51 74.25,328.37 74.45,328.41 74.66,328.3 74.86,328.35 75.07,328.4 75.28,328.28 75.48,328.43 75.69,328.64 75.89,328.14 76.09,328.23 76.3,328.25 76.5,328.17 76.71,327.97 76.91,327.86 77.12,327.99 77.33,327.83 77.53,327.69 77.73,327.34 77.94,327.37 78.14,327.16 78.35,326.72 78.56,326.47 78.76,326.2 78.96,324.97 79.17,324.43 79.38,322.92 79.58,321.08 79.78,318.57 79.99,314.77 80.19,309.31 80.4,303.32 80.61,300.48 80.81,303.41 81.01,309.31 81.22,314.57 81.42,318.39 81.63,321.53 81.84,322.97 82.04,324.32 82.24,325.16 82.45,325.8 82.65,326.38 82.86,326.71 83.06,327.13 83.27,327.1 83.47,327.24 83.68,327.89 83.89,327.72 84.09,327.95 84.3,328.1 84.5,328.08 84.7,328.07 84.91,327.9 85.11,327.94 85.32,328.36 85.53,328.35 85.73,328.37 85.94,328.08 86.14,328.03 86.34,328.21 86.55,328.22 86.75,328.43 86.96,328.27 87.16,328.67 87.37,328.36 87.57,328.38 87.78,328.6 87.98,328.54 88.19,328.37 88.4,328.63 88.6,328.8 88.8,328.35 89.01,328.5 89.21,328.38 89.42,328.26 89.62,328.64 89.83,328.66 90.03,328.7 90.24,328.63 90.45,328.28 90.65,328.57 90.85,328.48 91.06,328.41 91.26,328.42 91.47,328.7 91.67,328.55 91.88,328.88 92.09,328.66 92.29,328.32 92.5,328.73 92.7,328.78 92.9,328.61 93.11,328.43 93.31,328.86 93.52,328.42 93.72,328.6 93.93,328.33 94.14,328.43 94.34,328.37 94.55,328.77 94.75,328.79 94.95,328.56 95.16,328.42 95.36,328.61 95.57,328.67 95.78,328.4 95.98,328.45 96.19,328.6 96.39,328.72 96.59,328.63 96.8,328.69 97,328.44 97.21,328.26 97.41,328.66 97.62,328.48 97.82,328.6 98.03,328.56 98.23,328.69 98.44,328.5 98.65,328.83 98.85,328.62 99.05,328.69 99.26,328.71 99.46,328.76 99.67,328.67 99.88,328.35 100.08,328.52 100.28,328.88 100.49,328.68 100.7,328.69 100.9,328.67 101.1,328.51 101.31,328.5 101.51,328.5 101.72,328.76 101.92,328.64 102.13,328.85 102.34,328.66 102.54,328.86 102.75,328.64 102.95,328.4 103.15,328.82 103.36,328.61 103.56,328.73 103.77,328.58 103.97,328.5 104.18,328.56 104.38,328.36 104.59,328.34 104.8,328.38 105,328.42 105.2,328.29 105.41,328.46 105.61,328.51 105.82,328.74 106.03,328.7 106.23,328.4 106.44,328.51 106.64,328.33 106.84,328.39 107.05,328.29 107.25,328.18 107.46,328.22 107.66,327.94 107.87,328.16 108.07,327.97 108.28,327.76 108.48,327.76 108.69,327.75 108.9,327.39 109.1,327.34 109.3,327.05 109.51,326.8 109.71,325.87 109.92,325.25 110.12,324.24 110.33,322.77 110.53,320.21 110.74,317.01 110.95,313.15 111.15,311.58 111.35,313.61 111.56,316.86 111.76,320.49 111.97,322.44 112.17,324.13 112.38,325.03 112.59,326.12 112.79,326.61 113,327.26 113.2,327.29 113.4,327.45 113.61,327.46 113.81,327.79 114.02,328.06 114.22,328.12 114.43,328.27 114.63,328.28 114.84,328.2 115.05,328.34 115.25,328.31 115.45,328.12 115.66,328.6 115.86,328.43 116.07,328.24 116.27,328.47 116.48,328.48 116.69,328.6 116.89,328.68 117.09,328.03 117.3,328.57 117.5,328.72 117.71,328.37 117.91,328.24 118.12,328.56 118.32,328.58 118.53,328.59 118.73,328.37 118.94,328.47 119.15,328.58 119.35,328.66 119.55,328.88 119.76,328.6 119.96,328.47 120.17,328.21 120.38,328.73 120.58,328.55 120.78,328.55 120.99,328.43 121.2,328.68 121.4,328.31 121.6,328.59 121.81,328.59 122.01,328.62 122.22,328.77 122.42,328.56 122.63,328.59 122.83,328.7 123.04,328.34 123.25,328.53 123.45,328.58 123.65,328.71 123.86,328.45 124.06,328.69 124.27,328.63 124.47,328.35 124.68,328.34 124.89,328.35 125.09,328.58 125.3,328.59 125.5,328.66 125.7,328.67 125.91,328.46 126.11,328.7 126.32,328.66 126.52,328.6 126.73,328.6 126.94,328.33 127.14,328.57 127.34,328.36 127.55,328.33 127.75,328.44 127.96,328.51 128.16,328.47 128.37,328.42 128.57,328.31 128.78,328.48 128.99,328.32 129.19,328.21 129.4,328.42 129.6,328.61 129.8,328.31 130.01,328.19 130.21,328.54 130.42,328.56 130.62,328.23 130.83,328.21 131.03,328.24 131.24,328.61 131.44,328.14 131.65,328.22 131.85,328.08 132.06,327.67 132.26,327.7 132.47,327.58 132.68,327.72 132.88,327.54 133.08,327.63 133.29,327.12 133.5,326.96 133.7,326.62 133.9,326.23 134.11,326.05 134.31,325.08 134.52,324.38 134.72,323.17 134.93,321.32 135.13,319.51 135.34,317.07 135.55,315.11 135.75,314.22 135.95,314.93 136.16,316.71 136.36,319.09 136.57,320.55 136.77,321.92 136.98,322.77 137.19,322.81 137.39,322.53 137.59,321.73 137.8,320.61 138,320.3 138.21,320.76 138.41,322.91 138.62,324.13 138.82,324.97 139.03,325.91 139.24,326.33 139.44,326.93 139.65,327 139.85,327.29 140.05,327.65 140.26,327.77 140.46,327.74 140.67,327.91 140.88,328.01 141.08,328.1 141.28,328.14 141.49,328.15 141.69,328.36 141.9,328.02 142.1,328.22 142.31,328.34 142.51,328.28 142.72,328.28 142.93,328.32 143.13,328.44 143.33,328.61 143.54,328.41 143.75,328.41 143.95,328.51 144.15,328.44 144.36,328.19 144.56,328.53 144.77,328.44 144.97,328.42 145.18,328.61 145.38,328.53 145.59,328.44 145.8,328.21 146,328.28 146.2,328.55 146.41,328.53 146.61,328.62 146.82,328.59 147.02,328.49 147.23,328.37 147.44,328.4 147.64,328.55 147.84,328.4 148.05,328.69 148.25,328.38 148.46,328.31 148.66,328.55 148.87,328.31 149.07,328.82 149.28,328.43 149.49,328.57 149.69,328.55 149.9,328.46 150.1,328.32 150.3,328.3 150.51,328.71 150.71,328.74 150.92,328.91 151.12,328.36 151.33,328.66 151.53,328.58 151.74,328.7 151.94,328.5 152.15,328.68 152.35,328.71 152.56,328.66 152.76,328.78 152.97,328.53 153.18,328.79 153.38,328.45 153.58,328.8 153.79,328.13 154,328.54 154.2,328.41 154.4,328.52 154.61,328.66 154.81,328.61 155.02,328.5 155.22,328.73 155.43,328.24 155.63,328.32 155.84,328.65 156.05,328.45 156.25,328.06 156.45,328.39 156.66,328.13 156.86,328.49 157.07,328.39 157.27,328.08 157.48,328.28 157.69,327.88 157.89,328.04 158.09,327.86 158.3,327.59 158.5,327.19 158.71,327.11 158.91,326.48 159.12,326.34 159.32,325.65 159.53,325.55 159.74,324.65 159.94,323.98 160.14,324.26 160.35,324.4 160.55,324.72 160.76,325.68 160.96,326.05 161.17,326.44 161.38,326.74 161.58,326.71 161.78,327.49 161.99,327.76 162.19,327.69 162.4,327.7 162.6,328.01 162.81,327.85 163.01,328.17 163.22,328.35 163.43,328.51 163.63,328.36 163.83,328.39 164.04,328.5 164.25,328.63 164.45,328.39 164.65,328.28 164.86,328.36 165.06,328.31 165.27,328.38 165.47,328.5 165.68,328.58 165.88,328.57 166.09,328.56 166.3,328.51 166.5,328.63 166.7,328.71 166.91,328.7 167.11,328.81 167.32,328.55 167.52,328.56 167.73,328.86 167.94,328.64 168.14,328.67 168.34,328.57 168.55,328.76 168.75,328.56 168.96,328.47 169.16,328.62 169.37,328.56 169.57,328.76 169.78,328.58 169.99,328.66 170.19,328.61 170.39,328.69 170.6,328.55 170.8,328.81 171.01,328.43 171.21,328.59 171.42,328.54 171.62,328.75 171.83,328.66 172.03,328.73 172.24,328.61 172.44,328.55 172.65,328.49 172.85,328.61 173.06,328.58 173.26,328.7 173.47,328.72 173.67,328.81 173.88,328.65 174.08,328.55 174.29,328.51 174.5,328.68 174.7,328.72 174.9,328.96 175.11,328.7 175.31,328.93 175.52,328.95 175.72,328.51 175.93,328.85 176.13,328.84 176.34,328.87 176.55,328.67 176.75,328.82" fill="none" stroke="#ec5b3c" stroke-width="1.1" stroke-linejoin="round"/>
<polyline points="53.75,312.82 53.96,312.88 54.16,312.89 54.36,313.16 54.57,312.86 54.77,313.03 54.98,312.9 55.19,312.78 55.39,312.93 55.59,312.99 55.8,312.78 56.01,312.98 56.21,312.78 56.41,312.76 56.62,312.92 56.83,312.85 57.03,312.74 57.24,312.64 57.44,312.89 57.64,312.92 57.85,312.82 58.05,312.92 58.26,312.66 58.46,312.95 58.67,312.95 58.88,312.93 59.08,312.79 59.29,312.9 59.49,312.91 59.69,313.05 59.9,312.93 60.11,312.92 60.31,312.78 60.51,313.01 60.72,313.06 60.92,312.81 61.13,312.98 61.34,312.93 61.54,312.88 61.74,312.69 61.95,313.15 62.16,312.6 62.36,312.93 62.56,312.82 62.77,313.05 62.98,312.82 63.18,312.89 63.39,312.97 63.59,312.95 63.79,312.8 64,312.98 64.2,312.94 64.41,313.03 64.61,312.8 64.82,312.87 65.03,312.82 65.23,312.75 65.44,312.91 65.64,312.93 65.84,313.09 66.05,312.82 66.25,312.93 66.46,313.04 66.66,312.85 66.87,312.88 67.08,312.89 67.28,312.76 67.48,312.72 67.69,313.03 67.89,312.89 68.1,312.85 68.31,312.68 68.51,312.88 68.71,313.03 68.92,312.69 69.12,312.72 69.33,313.02 69.53,313.07 69.74,313.08 69.94,312.77 70.15,312.94 70.36,312.73 70.56,312.92 70.76,312.79 70.97,312.87 71.17,313.04 71.38,312.88 71.59,312.8 71.79,312.84 71.99,312.86 72.2,312.74 72.41,312.85 72.61,312.9 72.81,313.04 73.02,312.5 73.22,312.62 73.43,312.61 73.64,312.92 73.84,313.14 74.04,312.8 74.25,312.78 74.45,312.93 74.66,312.38 74.86,312.71 75.07,312.26 75.28,312.73 75.48,312.62 75.69,312.61 75.89,312.71 76.09,312.55 76.3,312.78 76.5,312.58 76.71,312.61 76.91,312.89 77.12,312.4 77.33,312.55 77.53,312.22 77.73,312.45 77.94,312.31 78.14,312.07 78.35,312.04 78.56,311.93 78.76,311.63 78.96,311.07 79.17,310.55 79.38,309.98 79.58,308.46 79.78,306.77 79.99,303.87 80.19,298.74 80.4,291.62 80.61,287.16 80.81,291.39 81.01,298.72 81.22,303.61 81.42,306.83 81.63,308.72 81.84,309.78 82.04,310.57 82.24,311.16 82.45,311.29 82.65,311.61 82.86,311.63 83.06,312.22 83.27,312.01 83.47,312.01 83.68,312.46 83.89,312.38 84.09,312.61 84.3,312.46 84.5,312.86 84.7,312.69 84.91,312.63 85.11,312.65 85.32,312.63 85.53,312.8 85.73,312.99 85.94,312.64 86.14,312.56 86.34,312.82 86.55,312.9 86.75,312.53 86.96,312.66 87.16,312.62 87.37,312.86 87.57,312.86 87.78,312.68 87.98,312.63 88.19,312.9 88.4,312.5 88.6,312.9 88.8,312.79 89.01,313.1 89.21,312.97 89.42,312.74 89.62,312.78 89.83,312.79 90.03,312.72 90.24,312.84 90.45,312.98 90.65,312.61 90.85,312.8 91.06,313.06 91.26,312.95 91.47,312.72 91.67,312.73 91.88,312.72 92.09,312.61 92.29,313.02 92.5,312.86 92.7,312.75 92.9,312.64 93.11,312.8 93.31,312.78 93.52,313.11 93.72,312.79 93.93,312.87 94.14,313.01 94.34,312.95 94.55,312.83 94.75,312.53 94.95,313.06 95.16,312.95 95.36,312.79 95.57,312.85 95.78,312.72 95.98,312.73 96.19,312.64 96.39,312.93 96.59,312.94 96.8,312.88 97,312.97 97.21,312.94 97.41,312.88 97.62,312.73 97.82,312.95 98.03,313.03 98.23,312.95 98.44,313.04 98.65,312.79 98.85,312.71 99.05,313.04 99.26,312.77 99.46,312.89 99.67,312.83 99.88,312.86 100.08,312.81 100.28,312.77 100.49,312.59 100.7,313.13 100.9,312.88 101.1,312.56 101.31,312.71 101.51,312.68 101.72,312.73 101.92,312.47 102.13,312.93 102.34,313.08 102.54,312.8 102.75,312.94 102.95,312.92 103.15,312.65 103.36,313.01 103.56,312.58 103.77,312.74 103.97,312.76 104.18,313 104.38,312.83 104.59,312.79 104.8,312.68 105,312.81 105.2,312.79 105.41,312.89 105.61,312.98 105.82,312.87 106.03,312.76 106.23,312.72 106.44,312.97 106.64,312.75 106.84,312.7 107.05,312.95 107.25,312.89 107.46,312.72 107.66,312.59 107.87,312.48 108.07,312.68 108.28,312.41 108.48,312.55 108.69,312.22 108.9,312.25 109.1,312.16 109.3,311.95 109.51,311.72 109.71,311.41 109.92,310.71 110.12,309.96 110.33,308.91 110.53,307.2 110.74,303.56 110.95,298.66 111.15,295.79 111.35,298.8 111.56,303.75 111.76,306.86 111.97,309.02 112.17,310.15 112.38,310.82 112.59,311.22 112.79,311.67 113,311.82 113.2,312.18 113.4,311.97 113.61,312.5 113.81,312.52 114.02,312.56 114.22,312.74 114.43,312.66 114.63,312.35 114.84,312.64 115.05,312.72 115.25,312.58 115.45,312.53 115.66,312.78 115.86,312.8 116.07,312.68 116.27,312.71 116.48,312.69 116.69,312.68 116.89,312.77 117.09,312.94 117.3,312.55 117.5,312.74 117.71,313.03 117.91,312.85 118.12,312.83 118.32,312.93 118.53,312.67 118.73,312.64 118.94,312.58 119.15,312.61 119.35,312.86 119.55,312.95 119.76,312.77 119.96,312.73 120.17,312.89 120.38,312.92 120.58,312.87 120.78,312.56 120.99,312.76 121.2,312.47 121.4,312.87 121.6,312.71 121.81,312.74 122.01,313.06 122.22,313.03 122.42,312.91 122.63,312.88 122.83,312.86 123.04,312.75 123.25,312.83 123.45,313.12 123.65,312.71 123.86,312.74 124.06,312.86 124.27,312.97 124.47,312.96 124.68,312.69 124.89,312.81 125.09,312.79 125.3,312.65 125.5,312.84 125.7,312.76 125.91,312.96 126.11,312.89 126.32,312.71 126.52,312.83 126.73,312.77 126.94,312.73 127.14,312.74 127.34,312.97 127.55,312.75 127.75,312.56 127.96,312.69 128.16,312.92 128.37,313.11 128.57,312.64 128.78,312.73 128.99,312.73 129.19,312.57 129.4,312.83 129.6,312.75 129.8,312.79 130.01,313.07 130.21,312.7 130.42,312.84 130.62,312.84 130.83,312.61 131.03,312.6 131.24,312.9 131.44,312.76 131.65,312.65 131.85,312.45 132.06,312.71 132.26,312.63 132.47,312.84 132.68,312.69 132.88,312.54 133.08,312.4 133.29,312.29 133.5,312.11 133.7,312.12 133.9,311.97 134.11,311.84 134.31,311.66 134.52,311.21 134.72,310.61 134.93,310.13 135.13,309.26 135.34,307.47 135.55,305.68 135.75,303.55 135.95,302.47 136.16,303.35 136.36,305.19 136.57,306.89 136.77,308.24 136.98,308.7 137.19,308.09 137.39,306.97 137.59,305.22 137.8,301.39 138,298.99 138.21,301.56 138.41,305.85 138.62,308.38 138.82,309.77 139.03,310.84 139.24,311.6 139.44,311.82 139.65,312.03 139.85,311.97 140.05,312.27 140.26,312.27 140.46,312.52 140.67,312.51 140.88,312.47 141.08,312.6 141.28,312.45 141.49,312.71 141.69,312.84 141.9,312.59 142.1,312.74 142.31,312.44 142.51,312.83 142.72,312.84 142.93,312.57 143.13,312.99 143.33,312.76 143.54,312.5 143.75,312.56 143.95,312.89 144.15,312.73 144.36,312.94 144.56,312.56 144.77,312.78 144.97,312.94 145.18,312.7 145.38,312.9 145.59,312.76 145.8,312.86 146,312.86 146.2,313.14 146.41,312.64 146.61,312.94 146.82,313.02 147.02,312.66 147.23,312.84 147.44,313.17 147.64,312.98 147.84,312.4 148.05,312.8 148.25,312.59 148.46,312.88 148.66,312.73 148.87,312.76 149.07,312.72 149.28,312.88 149.49,312.77 149.69,312.71 149.9,312.81 150.1,312.9 150.3,312.72 150.51,313 150.71,312.6 150.92,312.9 151.12,312.79 151.33,313.07 151.53,312.75 151.74,312.74 151.94,312.64 152.15,313.13 152.35,312.93 152.56,312.68 152.76,312.79 152.97,312.69 153.18,313.05 153.38,312.89 153.58,312.53 153.79,312.85 154,312.95 154.2,312.82 154.4,312.88 154.61,312.79 154.81,312.83 155.02,312.83 155.22,312.69 155.43,312.83 155.63,312.8 155.84,312.76 156.05,312.65 156.25,312.59 156.45,312.76 156.66,312.83 156.86,312.33 157.07,312.58 157.27,312.82 157.48,312.72 157.69,312.43 157.89,312.67 158.09,312.25 158.3,312.17 158.5,312.43 158.71,311.9 158.91,311.68 159.12,311.15 159.32,310.82 159.53,310.31 159.74,310.04 159.94,309.62 160.14,310.22 160.35,310.44 160.55,310.88 160.76,311.29 160.96,311.83 161.17,312.19 161.38,312.09 161.58,312.52 161.78,312.63 161.99,312.67 162.19,312.58 162.4,312.37 162.6,312.73 162.81,312.6 163.01,312.72 163.22,312.44 163.43,312.69 163.63,312.78 163.83,312.63 164.04,312.82 164.25,313.03 164.45,312.83 164.65,312.7 164.86,313.16 165.06,312.5 165.27,312.69 165.47,312.89 165.68,312.74 165.88,312.5 166.09,312.88 166.3,312.96 166.5,312.73 166.7,313.06 166.91,312.92 167.11,313.03 167.32,312.63 167.52,312.86 167.73,313.09 167.94,313.16 168.14,313.05 168.34,312.86 168.55,312.89 168.75,312.78 168.96,313.03 169.16,312.77 169.37,312.89 169.57,312.57 169.78,312.65 169.99,313.13 170.19,312.88 170.39,312.91 170.6,312.55 170.8,312.87 171.01,313.18 171.21,312.66 171.42,312.53 171.62,312.86 171.83,312.8 172.03,312.85 172.24,312.7 172.44,312.68 172.65,312.7 172.85,312.98 173.06,312.88 173.26,313 173.47,312.73 173.67,312.97 173.88,312.82 174.08,312.9 174.29,313.02 174.5,312.89 174.7,312.83 174.9,312.64 175.11,312.9 175.31,313 175.52,312.79 175.72,312.88 175.93,312.63 176.13,312.69 176.34,312.95 176.55,313.08 176.75,312.84" fill="none" stroke="#78cba0" stroke-width="1.1" stroke-linejoin="round"/>
<polyline points="53.75,297.54 53.96,297.73 54.16,297.55 54.36,297.74 54.57,298.07 54.77,297.83 54.98,297.76 55.19,297.93 55.39,297.73 55.59,297.83 55.8,297.81 56.01,297.85 56.21,297.56 56.41,297.88 56.62,297.91 56.83,297.44 57.03,297.38 57.24,297.65 57.44,298 57.64,297.78 57.85,297.88 58.05,297.86 58.26,297.91 58.46,297.68 58.67,297.69 58.88,297.83 59.08,297.86 59.29,297.86 59.49,297.82 59.69,297.7 59.9,297.94 60.11,297.84 60.31,297.93 60.51,297.4 60.72,297.92 60.92,297.41 61.13,297.8 61.34,297.67 61.54,297.79 61.74,297.7 61.95,297.72 62.16,297.8 62.36,297.82 62.56,297.65 62.77,297.39 62.98,297.65 63.18,297.84 63.39,297.64 63.59,297.82 63.79,297.71 64,297.62 64.2,297.93 64.41,298 64.61,297.74 64.82,297.75 65.03,297.9 65.23,297.56 65.44,297.62 65.64,297.92 65.84,297.88 66.05,297.68 66.25,297.63 66.46,297.8 66.66,297.54 66.87,297.67 67.08,297.71 67.28,297.37 67.48,297.82 67.69,297.85 67.89,297.89 68.1,297.52 68.31,297.54 68.51,297.61 68.71,297.53 68.92,298.03 69.12,297.57 69.33,297.67 69.53,297.74 69.74,297.78 69.94,297.92 70.15,297.54 70.36,297.83 70.56,297.72 70.76,297.52 70.97,297.71 71.17,297.47 71.38,297.92 71.59,297.56 71.79,297.81 71.99,297.85 72.2,297.56 72.41,297.51 72.61,297.66 72.81,297.47 73.02,297.75 73.22,297.63 73.43,297.48 73.64,297.48 73.84,297.68 74.04,297.34 74.25,297.8 74.45,297.41 74.66,297.48 74.86,297.35 75.07,297.71 75.28,297.56 75.48,297.6 75.69,297.47 75.89,297.35 76.09,297.55 76.3,297.35 76.5,297.26 76.71,297.22 76.91,297.17 77.12,297.01 77.33,296.84 77.53,296.5 77.73,296.9 77.94,296.21 78.14,295.85 78.35,295.76 78.56,295.77 78.76,295.16 78.96,294.19 79.17,293.34 79.38,291.86 79.58,289.39 79.78,286.13 79.99,280.35 80.19,270.59 80.4,256.17 80.61,247.6 80.81,256.12 81.01,270.47 81.22,280.32 81.42,286.2 81.63,289.7 81.84,291.81 82.04,293.09 82.24,294.34 82.45,295.03 82.65,295.57 82.86,296.05 83.06,295.98 83.27,296.05 83.47,296.32 83.68,297.06 83.89,296.73 84.09,297.03 84.3,297.05 84.5,297.24 84.7,297.67 84.91,297.17 85.11,297.27 85.32,297.25 85.53,297.41 85.73,297.48 85.94,297.29 86.14,297.66 86.34,297.65 86.55,297.57 86.75,297.5 86.96,297.5 87.16,297.31 87.37,297.67 87.57,297.43 87.78,297.52 87.98,297.75 88.19,297.47 88.4,297.54 88.6,297.76 88.8,297.91 89.01,297.54 89.21,297.81 89.42,297.56 89.62,297.72 89.83,297.74 90.03,297.5 90.24,297.83 90.45,297.95 90.65,297.69 90.85,297.73 91.06,297.52 91.26,297.96 91.47,297.71 91.67,297.51 91.88,297.82 92.09,297.49 92.29,297.6 92.5,297.39 92.7,297.92 92.9,298.05 93.11,297.62 93.31,297.62 93.52,297.63 93.72,297.64 93.93,297.8 94.14,297.94 94.34,297.57 94.55,297.79 94.75,297.46 94.95,297.96 95.16,297.71 95.36,297.62 95.57,297.96 95.78,297.71 95.98,297.94 96.19,297.89 96.39,297.98 96.59,297.61 96.8,297.74 97,297.79 97.21,297.7 97.41,297.96 97.62,297.62 97.82,297.88 98.03,297.94 98.23,297.44 98.44,297.59 98.65,297.59 98.85,297.65 99.05,297.79 99.26,297.7 99.46,297.74 99.67,297.66 99.88,297.71 100.08,297.8 100.28,297.84 100.49,297.61 100.7,297.7 100.9,297.61 101.1,297.69 101.31,297.5 101.51,297.86 101.72,297.81 101.92,297.69 102.13,297.6 102.34,297.64 102.54,297.6 102.75,297.47 102.95,297.94 103.15,298.18 103.36,297.5 103.56,297.51 103.77,297.76 103.97,297.76 104.18,297.43 104.38,297.37 104.59,297.73 104.8,297.35 105,297.85 105.2,297.55 105.41,297.63 105.61,297.6 105.82,297.51 106.03,297.55 106.23,297.51 106.44,297.73 106.64,297.5 106.84,297.49 107.05,297.38 107.25,297.33 107.46,297.28 107.66,297.34 107.87,297.56 108.07,297.39 108.28,297.18 108.48,297.29 108.69,297.07 108.9,296.79 109.1,296.52 109.3,296.11 109.51,295.94 109.71,295.32 109.92,294.34 110.12,293.17 110.33,291.67 110.53,287.97 110.74,281.86 110.95,272.21 111.15,265.71 111.35,272.25 111.56,281.94 111.76,287.89 111.97,291.46 112.17,293.52 112.38,294.51 112.59,295.39 112.79,295.79 113,296.37 113.2,296.49 113.4,296.93 113.61,296.8 113.81,297.29 114.02,297.09 114.22,297.1 114.43,297.15 114.63,297.44 114.84,297.26 115.05,297.7 115.25,297.66 115.45,297.57 115.66,297.3 115.86,297.54 116.07,297.45 116.27,297.3 116.48,297.65 116.69,297.93 116.89,297.54 117.09,297.75 117.3,297.83 117.5,297.5 117.71,297.6 117.91,297.7 118.12,297.74 118.32,297.5 118.53,297.71 118.73,297.67 118.94,297.83 119.15,297.45 119.35,297.61 119.55,297.62 119.76,297.66 119.96,297.81 120.17,297.61 120.38,298.12 120.58,297.61 120.78,297.84 120.99,297.87 121.2,297.86 121.4,297.69 121.6,297.6 121.81,297.68 122.01,297.82 122.22,297.74 122.42,297.81 122.63,297.81 122.83,297.6 123.04,297.59 123.25,297.95 123.45,297.66 123.65,297.49 123.86,298.01 124.06,297.61 124.27,297.59 124.47,297.88 124.68,297.56 124.89,297.6 125.09,297.89 125.3,297.61 125.5,298.1 125.7,297.74 125.91,298.13 126.11,297.74 126.32,297.73 126.52,297.63 126.73,297.69 126.94,297.65 127.14,297.71 127.34,297.83 127.55,297.52 127.75,297.57 127.96,297.4 128.16,297.93 128.37,297.69 128.57,297.7 128.78,297.69 128.99,297.84 129.19,297.74 129.4,297.81 129.6,297.65 129.8,297.65 130.01,297.66 130.21,297.38 130.42,297.81 130.62,297.41 130.83,297.48 131.03,297.72 131.24,297.62 131.44,297.72 131.65,297.83 131.85,297.84 132.06,297.75 132.26,297.48 132.47,297.79 132.68,297.32 132.88,297.4 133.08,297.51 133.29,297.27 133.5,297.22 133.7,297.09 133.9,297.24 134.11,296.52 134.31,296.9 134.52,296.62 134.72,296.11 134.93,295.74 135.13,294.86 135.34,294.29 135.55,293.48 135.75,291.82 135.95,291.66 136.16,291.83 136.36,292.72 136.57,293.64 136.77,294.36 136.98,294.56 137.19,294.57 137.39,294.61 137.59,293.22 137.8,290.6 138,284.71 138.21,279.3 138.41,284.62 138.62,290.76 138.82,293.93 139.03,295.41 139.24,295.85 139.44,296.39 139.65,296.62 139.85,297.07 140.05,297.17 140.26,297.23 140.46,297.21 140.67,297.42 140.88,297.43 141.08,297.35 141.28,297.55 141.49,297.43 141.69,297.7 141.9,297.67 142.1,297.49 142.31,297.7 142.51,297.63 142.72,297.53 142.93,297.51 143.13,297.4 143.33,297.49 143.54,297.72 143.75,297.86 143.95,297.59 144.15,297.71 144.36,297.75 144.56,297.82 144.77,297.77 144.97,297.89 145.18,297.83 145.38,297.6 145.59,297.78 145.8,297.37 146,297.69 146.2,297.73 146.41,297.81 146.61,297.68 146.82,297.85 147.02,297.93 147.23,297.61 147.44,297.65 147.64,297.77 147.84,297.81 148.05,297.76 148.25,297.86 148.46,297.56 148.66,297.86 148.87,297.92 149.07,297.91 149.28,297.8 149.49,297.71 149.69,297.8 149.9,297.73 150.1,297.5 150.3,297.65 150.51,297.73 150.71,297.66 150.92,297.6 151.12,297.7 151.33,297.68 151.53,297.75 151.74,297.73 151.94,297.76 152.15,297.88 152.35,297.75 152.56,297.79 152.76,297.55 152.97,297.28 153.18,297.66 153.38,297.82 153.58,297.67 153.79,297.62 154,297.53 154.2,297.84 154.4,297.62 154.61,297.73 154.81,297.86 155.02,297.76 155.22,298.01 155.43,297.65 155.63,297.8 155.84,297.75 156.05,297.53 156.25,297.62 156.45,297.51 156.66,297.42 156.86,297.6 157.07,297.4 157.27,297.73 157.48,297.33 157.69,297.3 157.89,297.32 158.09,297.13 158.3,297.09 158.5,296.82 158.71,296.46 158.91,295.96 159.12,295.63 159.32,295.31 159.53,294.15 159.74,293 159.94,292.32 160.14,292.74 160.35,293.65 160.55,294.08 160.76,294.48 160.96,294.53 161.17,294.98 161.38,295.05 161.58,295.96 161.78,296.22 161.99,297.06 162.19,296.9 162.4,297.1 162.6,297.43 162.81,297.45 163.01,297.54 163.22,297.29 163.43,297.67 163.63,297.79 163.83,297.55 164.04,297.52 164.25,297.45 164.45,297.78 164.65,297.69 164.86,297.66 165.06,297.49 165.27,297.92 165.47,297.82 165.68,297.69 165.88,297.93 166.09,297.57 166.3,297.85 166.5,297.57 166.7,297.94 166.91,297.69 167.11,297.92 167.32,297.68 167.52,297.8 167.73,297.91 167.94,297.61 168.14,297.76 168.34,297.63 168.55,297.88 168.75,297.66 168.96,297.7 169.16,297.73 169.37,297.93 169.57,297.61 169.78,297.76 169.99,297.72 170.19,297.68 170.39,297.65 170.6,297.74 170.8,297.8 171.01,297.54 171.21,297.81 171.42,297.59 171.62,297.77 171.83,298.12 172.03,297.63 172.24,297.77 172.44,297.74 172.65,297.92 172.85,297.71 173.06,297.51 173.26,297.54 173.47,297.81 173.67,297.82 173.88,297.94 174.08,297.7 174.29,297.88 174.5,297.62 174.7,297.98 174.9,297.77 175.11,297.68 175.31,297.81 175.52,298.04 175.72,297.66 175.93,297.6 176.13,297.63 176.34,297.61 176.55,297.78 176.75,297.84" fill="none" stroke="#3d55a3" stroke-width="1.1" stroke-linejoin="round"/>
<polyline points="53.75,452.64 53.96,452.69 54.16,452.84 54.36,452.62 54.57,452.47 54.77,452.32 54.98,452.7 55.19,452.56 55.39,452.62 55.59,452.72 55.8,452.73 56.01,452.42 56.21,452.51 56.41,452.67 56.62,452.63 56.83,452.83 57.03,452.58 57.24,452.34 57.44,452.83 57.64,452.41 57.85,452.5 58.05,452.71 58.26,452.49 58.46,453.02 58.67,452.68 58.88,452.73 59.08,452.58 59.29,452.98 59.49,452.72 59.69,452.53 59.9,452.83 60.11,452.39 60.31,452.55 60.51,452.68 60.72,452.66 60.92,452.49 61.13,452.87 61.34,452.85 61.54,452.49 61.74,452.69 61.95,452.53 62.16,452.56 62.36,452.77 62.56,452.64 62.77,452.61 62.98,452.64 63.18,452.44 63.39,452.8 63.59,452.5 63.79,452.81 64,452.54 64.2,452.54 64.41,452.83 64.61,452.63 64.82,452.51 65.03,452.52 65.23,452.69 65.44,452.88 65.64,452.68 65.84,452.53 66.05,452.42 66.25,452.48 66.46,452.56 66.66,452.61 66.87,452.47 67.08,452.76 67.28,452.42 67.48,452.45 67.69,452.63 67.89,452.63 68.1,452.49 68.31,452.69 68.51,452.33 68.71,452.78 68.92,452.86 69.12,452.81 69.33,452.53 69.53,452.8 69.74,452.51 69.94,452.69 70.15,452.46 70.36,452.51 70.56,452.55 70.76,452.2 70.97,452.42 71.17,452.7 71.38,451.99 71.59,452.48 71.79,452.54 71.99,452.44 72.2,452.41 72.41,452.57 72.61,452.4 72.81,452.04 73.02,452.17 73.22,452.24 73.43,452.29 73.64,452.17 73.84,452.2 74.04,452.43 74.25,451.71 74.45,452.29 74.66,452.22 74.86,452.12 75.07,451.99 75.28,451.94 75.48,451.92 75.69,451.84 75.89,451.62 76.09,451.76 76.3,451.42 76.5,451.43 76.71,451.25 76.91,450.98 77.12,451.07 77.33,450.77 77.53,450.36 77.73,450.24 77.94,449.7 78.14,449.69 78.35,449.03 78.56,448.6 78.76,447.4 78.96,446.54 79.17,444.93 79.38,443.19 79.58,441.03 79.78,438.22 79.99,434.82 80.19,430.93 80.4,428.07 80.61,426.83 80.81,427.77 81.01,430.94 81.22,434.54 81.42,438.41 81.63,440.96 81.84,443.45 82.04,445.21 82.24,446.39 82.45,447.41 82.65,448.35 82.86,448.84 83.06,449.28 83.27,449.75 83.47,450.29 83.68,450.56 83.89,451.03 84.09,450.7 84.3,451.22 84.5,451.12 84.7,451.6 84.91,451.64 85.11,451.65 85.32,451.94 85.53,451.74 85.73,451.78 85.94,451.76 86.14,451.87 86.34,452.04 86.55,452.16 86.75,452.29 86.96,452.1 87.16,452.06 87.37,452.15 87.57,452.16 87.78,452.18 87.98,452.21 88.19,452.16 88.4,452.3 88.6,452.25 88.8,452.32 89.01,452.15 89.21,452.39 89.42,452.47 89.62,452.49 89.83,452.33 90.03,452.25 90.24,452.23 90.45,452.26 90.65,452.35 90.85,452.41 91.06,452.2 91.26,452.57 91.47,452.25 91.67,452.38 91.88,452.38 92.09,452.62 92.29,452.77 92.5,452.45 92.7,452.47 92.9,452.45 93.11,452.48 93.31,452.49 93.52,452.89 93.72,452.36 93.93,452.51 94.14,452.41 94.34,452.59 94.55,452.46 94.75,452.62 94.95,452.38 95.16,452.85 95.36,452.57 95.57,452.28 95.78,452.65 95.98,452.48 96.19,452.38 96.39,452.61 96.59,452.47 96.8,452.66 97,452.47 97.21,452.68 97.41,452.57 97.62,452.6 97.82,452.57 98.03,452.5 98.23,452.5 98.44,452.62 98.65,452.65 98.85,452.49 99.05,452.88 99.26,452.8 99.46,452.37 99.67,452.7 99.88,452.53 100.08,452.57 100.28,452.42 100.49,452.78 100.7,452.41 100.9,452.52 101.1,452.42 101.31,452.81 101.51,452.7 101.72,452.32 101.92,452.44 102.13,452.56 102.34,452.43 102.54,452.44 102.75,452.33 102.95,452.52 103.15,452.31 103.36,452.59 103.56,452.81 103.77,452.4 103.97,452.68 104.18,452.48 104.38,452.31 104.59,452.34 104.8,452.24 105,452.38 105.2,452.45 105.41,452.46 105.61,452.26 105.82,452.1 106.03,452.23 106.23,452.46 106.44,452.21 106.64,452.12 106.84,451.78 107.05,451.96 107.25,452.05 107.46,451.75 107.66,452 107.87,451.62 108.07,451.45 108.28,451.35 108.48,451.25 108.69,451.19 108.9,450.69 109.1,450.17 109.3,449.99 109.51,449.52 109.71,448.93 109.92,447.55 110.12,446.62 110.33,444.74 110.53,442.47 110.74,439.73 110.95,437.45 111.15,436.5 111.35,437.72 111.56,439.87 111.76,442.56 111.97,444.91 112.17,446.4 112.38,447.71 112.59,448.99 112.79,449.25 113,449.94 113.2,450.38 113.4,450.72 113.61,451.06 113.81,451.13 114.02,451.6 114.22,451.38 114.43,451.58 114.63,451.55 114.84,451.68 115.05,452.04 115.25,452.11 115.45,452.05 115.66,452.25 115.86,452.25 116.07,452.11 116.27,452.23 116.48,452.31 116.69,452.58 116.89,452.24 117.09,452.38 117.3,452.43 117.5,452.54 117.71,452.44 117.91,452.55 118.12,452.25 118.32,452.38 118.53,452.14 118.73,452.43 118.94,452.78 119.15,452.48 119.35,452.47 119.55,452.5 119.76,452.49 119.96,452.28 120.17,452.37 120.38,452.45 120.58,452.51 120.78,452.36 120.99,452.47 121.2,452.38 121.4,452.3 121.6,452.4 121.81,452.38 122.01,452.62 122.22,452.69 122.42,452.58 122.63,452.47 122.83,452.42 123.04,452.26 123.25,452.42 123.45,452.72 123.65,452.66 123.86,452.52 124.06,452.45 124.27,452.49 124.47,452.55 124.68,452.48 124.89,452.54 125.09,452.36 125.3,452.47 125.5,452.41 125.7,452.62 125.91,452.27 126.11,452.64 126.32,452.43 126.52,452.36 126.73,452.43 126.94,452.43 127.14,452.37 127.34,452.46 127.55,452.3 127.75,452.13 127.96,452.46 128.16,452.34 128.37,452.58 128.57,452.37 128.78,452 128.99,452.46 129.19,452.15 129.4,452.31 129.6,452.53 129.8,452.34 130.01,451.99 130.21,452.1 130.42,451.84 130.62,452.13 130.83,452.07 131.03,451.78 131.24,451.94 131.44,451.94 131.65,451.84 131.85,451.54 132.06,451.43 132.26,451.26 132.47,451.09 132.68,451.17 132.88,450.95 133.08,450.92 133.29,450.51 133.5,450.11 133.7,449.57 133.9,449.55 134.11,448.8 134.31,448.11 134.52,447.16 134.72,446.21 134.93,445.38 135.13,444.01 135.34,443.16 135.55,442.34 135.75,441.81 135.95,441.76 136.16,442.6 136.36,443.52 136.57,443.98 136.77,444.58 136.98,445.39 137.19,445.51 137.39,445.53 137.59,445.92 137.8,445.98 138,446.59 138.21,447.16 138.41,447.86 138.62,448.71 138.82,449.16 139.03,449.53 139.24,450.13 139.44,450.72 139.65,450.98 139.85,451.36 140.05,451.37 140.26,451.62 140.46,451.55 140.67,451.56 140.88,451.79 141.08,451.66 141.28,451.98 141.49,451.87 141.69,452.03 141.9,451.92 142.1,452.07 142.31,452.27 142.51,452.13 142.72,452.1 142.93,452.27 143.13,452.38 143.33,452.25 143.54,452.12 143.75,452.09 143.95,452.14 144.15,452.51 144.36,452.35 144.56,452.45 144.77,452.55 144.97,452.45 145.18,452.49 145.38,452.35 145.59,452.2 145.8,452.54 146,452.44 146.2,452.54 146.41,452.31 146.61,452.45 146.82,452.78 147.02,452.36 147.23,452.5 147.44,452.69 147.64,452.47 147.84,452.52 148.05,452.19 148.25,452.62 148.46,452.45 148.66,452.7 148.87,452.51 149.07,452.47 149.28,452.59 149.49,452.49 149.69,452.45 149.9,452.75 150.1,452.67 150.3,452.55 150.51,452.65 150.71,452.65 150.92,452.61 151.12,452.54 151.33,452.54 151.53,452.59 151.74,452.61 151.94,452.57 152.15,452.44 152.35,452.51 152.56,452.58 152.76,452.37 152.97,452.5 153.18,452.61 153.38,452.52 153.58,452.45 153.79,452.48 154,452.41 154.2,452.61 154.4,452.4 154.61,452.2 154.81,452.26 155.02,452.46 155.22,452.43 155.43,452.31 155.63,452.18 155.84,452.32 156.05,452.2 156.25,452.19 156.45,452.25 156.66,452.1 156.86,452.21 157.07,452 157.27,451.98 157.48,451.94 157.69,452.1 157.89,452.02 158.09,451.8 158.3,451.41 158.5,451.35 158.71,451.29 158.91,451.04 159.12,450.43 159.32,450.39 159.53,450.01 159.74,449.99 159.94,449.81 160.14,449.58 160.35,450.03 160.55,449.85 160.76,450.48 160.96,450.38 161.17,450.66 161.38,451.21 161.58,451.09 161.78,451.3 161.99,451.75 162.19,451.67 162.4,451.87 162.6,451.72 162.81,452.25 163.01,452.21 163.22,452.18 163.43,452.29 163.63,452.16 163.83,452.21 164.04,452.08 164.25,452.4 164.45,452.55 164.65,452.52 164.86,452.55 165.06,452.54 165.27,452.32 165.47,452.28 165.68,452.58 165.88,452.52 166.09,452.65 166.3,452.48 166.5,452.4 166.7,452.6 166.91,452.46 167.11,452.32 167.32,452.47 167.52,452.44 167.73,452.41 167.94,452.5 168.14,452.72 168.34,452.92 168.55,452.84 168.75,452.54 168.96,452.77 169.16,452.59 169.37,452.66 169.57,452.51 169.78,452.6 169.99,452.38 170.19,452.88 170.39,452.51 170.6,452.71 170.8,452.54 171.01,452.67 171.21,452.46 171.42,452.58 171.62,452.77 171.83,452.72 172.03,452.36 172.24,452.76 172.44,452.45 172.65,452.68 172.85,452.72 173.06,452.55 173.26,452.6 173.47,452.61 173.67,452.71 173.88,452.78 174.08,452.85 174.29,452.7 174.5,452.94 174.7,452.51 174.9,452.91 175.11,452.62 175.31,452.77 175.52,452.64 175.72,452.67 175.93,452.52 176.13,452.72 176.34,452.96 176.55,452.68 176.75,452.66" fill="none" stroke="#1e1e1e" stroke-width="1.1" stroke-linejoin="round"/>
<polyline points="53.75,436.89 53.96,436.99 54.16,436.86 54.36,436.88 54.57,436.92 54.77,437.07 54.98,437.02 55.19,436.73 55.39,436.79 55.59,436.89 55.8,437.01 56.01,437.02 56.21,436.85 56.41,437.19 56.62,436.86 56.83,437.09 57.03,437.09 57.24,437.11 57.44,436.91 57.64,436.96 57.85,436.66 58.05,436.62 58.26,436.79 58.46,436.98 58.67,437.03 58.88,436.86 59.08,437.03 59.29,436.96 59.49,437.1 59.69,436.64 59.9,436.76 60.11,436.73 60.31,436.73 60.51,437.12 60.72,436.74 60.92,436.75 61.13,436.82 61.34,437 61.54,436.81 61.74,436.98 61.95,436.95 62.16,436.78 62.36,436.53 62.56,436.73 62.77,436.69 62.98,437.11 63.18,436.77 63.39,436.71 63.59,436.92 63.79,436.87 64,436.73 64.2,437.02 64.41,436.99 64.61,436.9 64.82,436.75 65.03,436.73 65.23,436.57 65.44,436.91 65.64,436.91 65.84,436.72 66.05,436.86 66.25,437.33 66.46,436.69 66.66,436.6 66.87,436.94 67.08,436.78 67.28,436.78 67.48,436.93 67.69,436.82 67.89,436.98 68.1,436.91 68.31,437.01 68.51,436.85 68.71,436.51 68.92,437.02 69.12,436.58 69.33,436.97 69.53,436.86 69.74,436.62 69.94,436.82 70.15,436.94 70.36,436.66 70.56,436.81 70.76,436.69 70.97,436.66 71.17,436.7 71.38,436.97 71.59,436.88 71.79,436.78 71.99,436.76 72.2,436.79 72.41,436.8 72.61,436.78 72.81,436.49 73.02,436.87 73.22,436.6 73.43,436.35 73.64,436.81 73.84,436.53 74.04,436.66 74.25,436.66 74.45,436.57 74.66,436.72 74.86,436.58 75.07,436.56 75.28,436.44 75.48,436.51 75.69,436.37 75.89,436.5 76.09,436.65 76.3,436.56 76.5,436.43 76.71,436.12 76.91,436.39 77.12,436.3 77.33,436.38 77.53,435.65 77.73,435.84 77.94,435.63 78.14,435.64 78.35,435.08 78.56,434.85 78.76,434.82 78.96,434.08 79.17,432.88 79.38,432.09 79.58,430.73 79.78,428.16 79.99,424.98 80.19,420.29 80.4,415.08 80.61,412.8 80.81,415.45 81.01,420.45 81.22,424.81 81.42,428.42 81.63,430.44 81.84,432.13 82.04,433.16 82.24,433.75 82.45,434.54 82.65,434.85 82.86,434.84 83.06,435.35 83.27,435.56 83.47,435.71 83.68,435.83 83.89,435.97 84.09,435.81 84.3,436.37 84.5,436.32 84.7,436.4 84.91,436.37 85.11,436.46 85.32,436.45 85.53,436.36 85.73,436.33 85.94,436.58 86.14,436.74 86.34,436.65 86.55,436.86 86.75,436.45 86.96,436.63 87.16,436.59 87.37,436.87 87.57,436.95 87.78,436.64 87.98,436.83 88.19,436.69 88.4,436.59 88.6,436.73 88.8,436.6 89.01,436.98 89.21,436.85 89.42,436.94 89.62,436.82 89.83,436.43 90.03,436.9 90.24,436.8 90.45,436.44 90.65,436.81 90.85,436.94 91.06,437.04 91.26,436.65 91.47,436.92 91.67,436.85 91.88,436.78 92.09,436.77 92.29,436.89 92.5,436.9 92.7,436.91 92.9,436.76 93.11,436.63 93.31,437.01 93.52,437.01 93.72,436.74 93.93,436.82 94.14,436.94 94.34,436.57 94.55,436.9 94.75,437.17 94.95,436.87 95.16,436.73 95.36,437.13 95.57,436.83 95.78,436.86 95.98,436.77 96.19,436.86 96.39,436.57 96.59,436.64 96.8,436.62 97,436.96 97.21,436.82 97.41,437 97.62,436.54 97.82,436.74 98.03,437.04 98.23,436.71 98.44,436.56 98.65,436.72 98.85,436.78 99.05,436.82 99.26,437.01 99.46,437.02 99.67,437.04 99.88,436.9 100.08,436.75 100.28,436.74 100.49,436.6 100.7,437 100.9,436.99 101.1,436.82 101.31,436.68 101.51,436.9 101.72,436.87 101.92,436.82 102.13,436.63 102.34,436.83 102.54,436.71 102.75,436.89 102.95,436.87 103.15,436.84 103.36,436.71 103.56,436.99 103.77,436.87 103.97,436.94 104.18,436.87 104.38,436.83 104.59,436.78 104.8,436.56 105,436.45 105.2,436.56 105.41,436.77 105.61,436.8 105.82,436.68 106.03,436.65 106.23,436.88 106.44,436.53 106.64,436.31 106.84,436.31 107.05,436.46 107.25,436.57 107.46,436.52 107.66,436.33 107.87,436.42 108.07,436.22 108.28,436.03 108.48,435.96 108.69,435.99 108.9,435.84 109.1,435.31 109.3,435.03 109.51,434.8 109.71,434.55 109.92,433.31 110.12,432.19 110.33,430.82 110.53,428.45 110.74,425.02 110.95,421.57 111.15,419.95 111.35,421.32 111.56,425.11 111.76,428.47 111.97,430.89 112.17,432.55 112.38,433.47 112.59,434.03 112.79,434.97 113,435.29 113.2,435.38 113.4,435.85 113.61,436.03 113.81,436 114.02,435.79 114.22,436.15 114.43,436.19 114.63,436.24 114.84,436.4 115.05,436.3 115.25,436.56 115.45,436.81 115.66,436.39 115.86,436.74 116.07,436.54 116.27,436.71 116.48,436.63 116.69,436.86 116.89,436.58 117.09,436.8 117.3,436.59 117.5,436.75 117.71,436.72 117.91,436.89 118.12,436.51 118.32,436.55 118.53,436.95 118.73,436.82 118.94,437.01 119.15,436.62 119.35,436.8 119.55,436.87 119.76,437.04 119.96,436.78 120.17,436.72 120.38,436.9 120.58,436.78 120.78,436.69 120.99,436.91 121.2,436.52 121.4,436.66 121.6,437 121.81,436.73 122.01,436.76 122.22,436.86 122.42,436.97 122.63,436.88 122.83,436.67 123.04,436.73 123.25,436.96 123.45,436.79 123.65,436.72 123.86,436.94 124.06,436.98 124.27,437.12 124.47,436.65 124.68,436.71 124.89,436.71 125.09,436.86 125.3,436.74 125.5,436.96 125.7,436.41 125.91,436.94 126.11,436.71 126.32,436.76 126.52,436.88 126.73,436.82 126.94,436.64 127.14,437 127.34,436.87 127.55,436.71 127.75,436.81 127.96,436.62 128.16,436.59 128.37,436.72 128.57,436.81 128.78,436.77 128.99,436.64 129.19,436.54 129.4,436.49 129.6,436.96 129.8,436.77 130.01,436.59 130.21,436.87 130.42,436.76 130.62,436.61 130.83,436.57 131.03,436.81 131.24,436.67 131.44,436.84 131.65,436.63 131.85,436.46 132.06,436.43 132.26,436.37 132.47,436.47 132.68,436.42 132.88,436.41 133.08,436.32 133.29,436.01 133.5,436.02 133.7,435.78 133.9,435.82 134.11,435.35 134.31,435.17 134.52,434.75 134.72,434.27 134.93,433.62 135.13,432.9 135.34,431.3 135.55,429.47 135.75,428.02 135.95,427.39 136.16,427.9 136.36,429.2 136.57,430.78 136.77,431.55 136.98,431.78 137.19,431.77 137.39,430.74 137.59,430.01 137.8,429.58 138,430.53 138.21,432.13 138.41,433.1 138.62,434.34 138.82,434.62 139.03,435.42 139.24,435.29 139.44,435.65 139.65,436.1 139.85,436.08 140.05,436.22 140.26,436.28 140.46,436.38 140.67,436.39 140.88,436.32 141.08,436.46 141.28,436.56 141.49,436.44 141.69,436.67 141.9,436.87 142.1,436.4 142.31,436.58 142.51,436.63 142.72,436.69 142.93,436.72 143.13,436.61 143.33,436.72 143.54,436.73 143.75,436.73 143.95,436.97 144.15,436.77 144.36,436.55 144.56,436.54 144.77,436.86 144.97,436.73 145.18,436.69 145.38,436.59 145.59,436.75 145.8,436.78 146,436.7 146.2,436.75 146.41,436.93 146.61,436.92 146.82,436.89 147.02,436.79 147.23,436.62 147.44,436.93 147.64,437.03 147.84,437 148.05,436.99 148.25,436.86 148.46,436.88 148.66,436.82 148.87,437 149.07,436.79 149.28,437.13 149.49,436.94 149.69,436.78 149.9,436.83 150.1,436.59 150.3,436.72 150.51,436.78 150.71,437.18 150.92,436.71 151.12,436.96 151.33,436.84 151.53,436.78 151.74,436.91 151.94,436.53 152.15,436.96 152.35,437.1 152.56,436.86 152.76,436.81 152.97,436.84 153.18,436.91 153.38,436.74 153.58,436.82 153.79,436.87 154,436.75 154.2,436.85 154.4,436.84 154.61,436.88 154.81,436.63 155.02,436.69 155.22,436.7 155.43,436.92 155.63,436.78 155.84,436.49 156.05,436.53 156.25,436.98 156.45,436.73 156.66,436.48 156.86,436.51 157.07,436.63 157.27,436.79 157.48,436.77 157.69,436.44 157.89,436.39 158.09,436.65 158.3,436.14 158.5,436.4 158.71,436.09 158.91,435.88 159.12,435.84 159.32,435.45 159.53,434.93 159.74,434.46 159.94,434.3 160.14,434.07 160.35,434.08 160.55,433.62 160.76,434.49 160.96,434.77 161.17,435.27 161.38,435.5 161.58,435.69 161.78,435.93 161.99,436.1 162.19,436.09 162.4,436.27 162.6,436.39 162.81,436.38 163.01,436.29 163.22,436.34 163.43,436.66 163.63,436.7 163.83,436.66 164.04,436.5 164.25,436.82 164.45,436.65 164.65,436.42 164.86,436.97 165.06,436.54 165.27,437.09 165.47,436.85 165.68,436.72 165.88,436.45 166.09,436.69 166.3,437.02 166.5,437 166.7,436.85 166.91,436.57 167.11,436.77 167.32,436.79 167.52,436.9 167.73,436.81 167.94,436.89 168.14,436.6 168.34,436.75 168.55,437.05 168.75,436.63 168.96,436.98 169.16,437.19 169.37,436.95 169.57,436.65 169.78,437.04 169.99,436.59 170.19,436.91 170.39,436.8 170.6,437.04 170.8,437.03 171.01,436.89 171.21,437.13 171.42,437.01 171.62,436.8 171.83,436.73 172.03,437.23 172.24,436.81 172.44,436.93 172.65,436.85 172.85,436.8 173.06,436.64 173.26,436.85 173.47,436.86 173.67,437.02 173.88,436.8 174.08,436.65 174.29,436.72 174.5,436.87 174.7,436.91 174.9,436.98 175.11,436.82 175.31,436.96 175.52,436.9 175.72,437.13 175.93,436.87 176.13,436.9 176.34,436.96 176.55,437.06 176.75,436.75" fill="none" stroke="#ec5b3c" stroke-width="1.1" stroke-linejoin="round"/>
<polyline points="53.75,421.52 53.96,421.55 54.16,421.28 54.36,421.78 54.57,421.75 54.77,421.59 54.98,422.08 55.19,421.77 55.39,421.89 55.59,421.82 55.8,421.72 56.01,421.39 56.21,421.81 56.41,421.65 56.62,421.42 56.83,421.6 57.03,421.7 57.24,421.73 57.44,421.61 57.64,421.51 57.85,421.7 58.05,421.48 58.26,421.58 58.46,421.7 58.67,421.38 58.88,421.64 59.08,421.3 59.29,421.45 59.49,421.41 59.69,421.57 59.9,421.69 60.11,421.58 60.31,421.72 60.51,421.6 60.72,421.56 60.92,421.66 61.13,421.55 61.34,421.6 61.54,421.74 61.74,421.5 61.95,421.75 62.16,421.42 62.36,421.55 62.56,421.33 62.77,421.5 62.98,421.81 63.18,421.63 63.39,421.76 63.59,421.37 63.79,421.43 64,421.65 64.2,421.7 64.41,421.7 64.61,421.34 64.82,421.65 65.03,421.57 65.23,421.59 65.44,421.65 65.64,421.53 65.84,421.33 66.05,421.42 66.25,421.36 66.46,421.38 66.66,421.55 66.87,421.76 67.08,421.47 67.28,421.46 67.48,421.4 67.69,421.32 67.89,421.58 68.1,421.5 68.31,421.53 68.51,421.42 68.71,421.63 68.92,421.39 69.12,421.64 69.33,421.46 69.53,421.67 69.74,421.43 69.94,421.62 70.15,421.62 70.36,421.54 70.56,421.79 70.76,421.57 70.97,421.41 71.17,421.64 71.38,421.42 71.59,421.46 71.79,421.54 71.99,421.56 72.2,421.78 72.41,421.27 72.61,421.48 72.81,421.68 73.02,421.49 73.22,421.55 73.43,421.72 73.64,421.32 73.84,421.5 74.04,421.6 74.25,421.39 74.45,421.21 74.66,421.31 74.86,421.48 75.07,421.47 75.28,421.69 75.48,421.61 75.69,421.17 75.89,421.53 76.09,421.49 76.3,421.57 76.5,421.29 76.71,421.2 76.91,421.26 77.12,421.43 77.33,421.24 77.53,421.34 77.73,421.13 77.94,420.84 78.14,420.67 78.35,420.94 78.56,420.27 78.76,420.19 78.96,419.86 79.17,419.3 79.38,418.67 79.58,417.7 79.78,416.37 79.99,413.19 80.19,408.38 80.4,401.72 80.61,397.73 80.81,401.58 81.01,408.4 81.22,412.95 81.42,416.12 81.63,417.8 81.84,418.97 82.04,419.26 82.24,420.22 82.45,420.37 82.65,420.45 82.86,420.61 83.06,420.77 83.27,420.75 83.47,421.13 83.68,421 83.89,421.04 84.09,421.27 84.3,421.26 84.5,421.19 84.7,421.27 84.91,421.26 85.11,421.55 85.32,421.52 85.53,421.29 85.73,421.4 85.94,421.62 86.14,421.39 86.34,421.7 86.55,421.52 86.75,421.56 86.96,421.17 87.16,421.6 87.37,421.54 87.57,421.58 87.78,421.57 87.98,421.58 88.19,421.43 88.4,421.64 88.6,421.52 88.8,421.37 89.01,421.37 89.21,421.55 89.42,421.58 89.62,421.21 89.83,421.23 90.03,421.69 90.24,421.54 90.45,421.95 90.65,421.32 90.85,421.51 91.06,421.46 91.26,421.63 91.47,421.75 91.67,421.78 91.88,421.4 92.09,421.73 92.29,421.37 92.5,421.6 92.7,421.58 92.9,421.64 93.11,421.44 93.31,421.75 93.52,421.55 93.72,421.55 93.93,421.52 94.14,421.4 94.34,421.66 94.55,421.61 94.75,421.63 94.95,421.83 95.16,421.43 95.36,421.52 95.57,421.56 95.78,421.69 95.98,421.54 96.19,421.7 96.39,421.63 96.59,421.31 96.8,421.46 97,421.27 97.21,421.52 97.41,421.5 97.62,421.65 97.82,421.59 98.03,421.55 98.23,421.74 98.44,421.65 98.65,421.38 98.85,421.46 99.05,421.61 99.26,421.81 99.46,421.53 99.67,421.53 99.88,421.59 100.08,421.67 100.28,421.54 100.49,421.6 100.7,421.49 100.9,421.47 101.1,421.43 101.31,421.65 101.51,421.47 101.72,421.63 101.92,421.6 102.13,421.69 102.34,421.15 102.54,421.4 102.75,421.36 102.95,421.51 103.15,421.65 103.36,421.9 103.56,421.75 103.77,421.72 103.97,421.58 104.18,421.46 104.38,421.59 104.59,421.19 104.8,421.64 105,421.5 105.2,421.58 105.41,421.33 105.61,421.32 105.82,421.37 106.03,421.45 106.23,421.5 106.44,421.38 106.64,421.47 106.84,421.5 107.05,421.21 107.25,421.35 107.46,421.11 107.66,421.23 107.87,421.4 108.07,421.13 108.28,421.45 108.48,421.19 108.69,421.17 108.9,420.95 109.1,420.93 109.3,420.79 109.51,420.41 109.71,419.98 109.92,419.49 110.12,419.11 110.33,417.61 110.53,415.58 110.74,412.18 110.95,407.25 111.15,404.51 111.35,407.55 111.56,412.21 111.76,415.53 111.97,417.7 112.17,418.9 112.38,419.51 112.59,420.1 112.79,420.25 113,420.75 113.2,420.66 113.4,420.88 113.61,421.05 113.81,421.05 114.02,421.01 114.22,421.53 114.43,421.49 114.63,421.05 114.84,421.35 115.05,421.18 115.25,421.43 115.45,421.21 115.66,421.5 115.86,421.51 116.07,421.69 116.27,421.63 116.48,421.4 116.69,421.61 116.89,421.41 117.09,421.47 117.3,421.42 117.5,421.24 117.71,421.59 117.91,421.21 118.12,421.48 118.32,421.59 118.53,421.54 118.73,421.29 118.94,421.43 119.15,421.63 119.35,421.69 119.55,421.76 119.76,421.27 119.96,421.6 120.17,421.47 120.38,421.65 120.58,421.29 120.78,421.52 120.99,421.65 121.2,421.45 121.4,421.49 121.6,421.4 121.81,421.71 122.01,421.35 122.22,421.41 122.42,421.5 122.63,421.5 122.83,421.86 123.04,421.59 123.25,421.43 123.45,421.63 123.65,421.6 123.86,421.59 124.06,421.54 124.27,421.61 124.47,421.38 124.68,421.37 124.89,421.48 125.09,421.38 125.3,421.65 125.5,421.83 125.7,421.72 125.91,421.61 126.11,421.59 126.32,421.44 126.52,421.35 126.73,421.62 126.94,421.32 127.14,421.58 127.34,421.51 127.55,421.64 127.75,421.53 127.96,421.54 128.16,421.44 128.37,421.27 128.57,421.46 128.78,421.61 128.99,421.66 129.19,421.71 129.4,421.35 129.6,421.36 129.8,421.59 130.01,421.42 130.21,421.85 130.42,421.51 130.62,421.24 130.83,421.37 131.03,421.67 131.24,421.16 131.44,421.44 131.65,421.2 131.85,421.62 132.06,421.3 132.26,421.19 132.47,421.06 132.68,421.18 132.88,420.87 133.08,421.13 133.29,421.46 133.5,421.09 133.7,420.95 133.9,420.71 134.11,420.79 134.31,420.48 134.52,420.16 134.72,420.12 134.93,419.43 135.13,418.4 135.34,417.41 135.55,415.13 135.75,412.62 135.95,411.09 136.16,412.5 136.36,414.75 136.57,416.34 136.77,417.37 136.98,417.33 137.19,416.75 137.39,415.2 137.59,411.75 137.8,409.72 138,412.14 138.21,415.53 138.41,417.98 138.62,418.8 138.82,420.1 139.03,420.45 139.24,420.46 139.44,420.76 139.65,420.83 139.85,421.1 140.05,421.18 140.26,421.26 140.46,421.32 140.67,421.54 140.88,421.27 141.08,421.42 141.28,421.32 141.49,421.38 141.69,421.42 141.9,421.4 142.1,421.47 142.31,421.31 142.51,421.42 142.72,421.37 142.93,421.3 143.13,421.37 143.33,421.41 143.54,421.47 143.75,421.27 143.95,421.46 144.15,421.34 144.36,421.39 144.56,421.54 144.77,421.68 144.97,421.56 145.18,421.45 145.38,421.46 145.59,421.73 145.8,421.29 146,421.7 146.2,421.32 146.41,421.45 146.61,421.55 146.82,421.51 147.02,421.79 147.23,421.62 147.44,421.54 147.64,421.69 147.84,421.55 148.05,421.43 148.25,421.72 148.46,421.77 148.66,421.74 148.87,421.38 149.07,421.83 149.28,421.49 149.49,421.67 149.69,421.73 149.9,421.9 150.1,421.32 150.3,421.41 150.51,421.73 150.71,421.63 150.92,421.51 151.12,421.13 151.33,421.62 151.53,421.53 151.74,421.17 151.94,421.95 152.15,421.19 152.35,421.47 152.56,421.55 152.76,421.58 152.97,421.66 153.18,421.51 153.38,421.42 153.58,421.49 153.79,421.23 154,421.38 154.2,421.83 154.4,421.44 154.61,421.52 154.81,421.81 155.02,421.68 155.22,421.54 155.43,421.62 155.63,421.47 155.84,421.37 156.05,421.64 156.25,421.51 156.45,421.71 156.66,421.43 156.86,421.4 157.07,421.49 157.27,421.39 157.48,421.35 157.69,421.24 157.89,421.38 158.09,421.34 158.3,421.51 158.5,421.17 158.71,420.83 158.91,421.04 159.12,421.16 159.32,420.55 159.53,420.22 159.74,419.96 159.94,419.17 160.14,419.19 160.35,419.06 160.55,419.02 160.76,419.67 160.96,419.86 161.17,420.07 161.38,420.51 161.58,420.91 161.78,421.26 161.99,421.27 162.19,421.21 162.4,421.17 162.6,421.26 162.81,421.48 163.01,421.3 163.22,421.46 163.43,421.57 163.63,421.31 163.83,421.37 164.04,421.54 164.25,421.49 164.45,421.48 164.65,421.43 164.86,421.5 165.06,421.79 165.27,421.72 165.47,421.29 165.68,421.54 165.88,421.55 166.09,421.55 166.3,421.34 166.5,421.53 166.7,421.57 166.91,421.45 167.11,421.6 167.32,421.2 167.52,421.34 167.73,421.58 167.94,421.62 168.14,421.54 168.34,421.5 168.55,421.6 168.75,421.73 168.96,421.7 169.16,421.56 169.37,421.51 169.57,421.73 169.78,421.66 169.99,421.71 170.19,421.54 170.39,421.45 170.6,421.61 170.8,421.49 171.01,421.75 171.21,421.71 171.42,421.26 171.62,421.68 171.83,421.78 172.03,421.74 172.24,421.51 172.44,421.46 172.65,421.73 172.85,421.73 173.06,421.59 173.26,421.42 173.47,421.36 173.67,421.63 173.88,421.46 174.08,421.49 174.29,421.65 174.5,421.74 174.7,421.28 174.9,421.49 175.11,421.78 175.31,421.58 175.52,421.54 175.72,421.68 175.93,421.42 176.13,421.41 176.34,421.59 176.55,421.82 176.75,421.74" fill="none" stroke="#78cba0" stroke-width="1.1" stroke-linejoin="round"/>
<polyline points="53.75,406.19 53.96,406.34 54.16,406.13 54.36,406.01 54.57,405.94 54.77,406.23 54.98,406.32 55.19,406.24 55.39,406.18 55.59,406.13 55.8,406.35 56.01,406.18 56.21,405.97 56.41,406.39 56.62,406.09 56.83,406.24 57.03,406.18 57.24,406.34 57.44,406.22 57.64,406.36 57.85,406.21 58.05,406.11 58.26,406.11 58.46,406.28 58.67,406.06 58.88,406.32 59.08,406.15 59.29,406.04 59.49,406.05 59.69,406.16 59.9,406.44 60.11,406.29 60.31,406.18 60.51,406.04 60.72,406.46 60.92,406.14 61.13,406.18 61.34,406.11 61.54,406.37 61.74,406.2 61.95,406.11 62.16,406.2 62.36,406.03 62.56,406.02 62.77,406.15 62.98,405.75 63.18,406.34 63.39,406.46 63.59,406.01 63.79,406.15 64,405.94 64.2,406.19 64.41,406.2 64.61,406.28 64.82,405.97 65.03,406.08 65.23,406.07 65.44,406.13 65.64,406.5 65.84,406.13 66.05,406.15 66.25,406.08 66.46,406.28 66.66,406.53 66.87,406.33 67.08,406.38 67.28,406 67.48,406.31 67.69,406.15 67.89,406.33 68.1,406.3 68.31,406.24 68.51,405.9 68.71,406.16 68.92,406.07 69.12,406.2 69.33,406.14 69.53,406.29 69.74,405.9 69.94,406.02 70.15,406.11 70.36,406.17 70.56,406.06 70.76,406.11 70.97,406.12 71.17,406.26 71.38,406.09 71.59,406.14 71.79,405.83 71.99,405.71 72.2,405.87 72.41,406.13 72.61,405.74 72.81,406.13 73.02,406.05 73.22,406.05 73.43,405.94 73.64,405.98 73.84,406.15 74.04,406.07 74.25,406 74.45,405.92 74.66,406.01 74.86,406.14 75.07,405.94 75.28,405.87 75.48,405.73 75.69,405.89 75.89,405.71 76.09,405.61 76.3,405.91 76.5,405.65 76.71,405.39 76.91,405.53 77.12,405.84 77.33,405.47 77.53,405.2 77.73,405.11 77.94,405.24 78.14,405.01 78.35,404.75 78.56,404.4 78.76,404.1 78.96,403.72 79.17,402.79 79.38,401.57 79.58,399.64 79.78,397.06 79.99,392.27 80.19,383.29 80.4,369.21 80.61,360.22 80.81,369.59 81.01,383.1 81.22,392.11 81.42,397.17 81.63,400.09 81.84,401.36 82.04,402.46 82.24,403.54 82.45,404.13 82.65,404.37 82.86,404.72 83.06,404.89 83.27,405.31 83.47,404.95 83.68,405.43 83.89,405.3 84.09,405.46 84.3,405.41 84.5,405.55 84.7,405.73 84.91,405.78 85.11,406.08 85.32,405.81 85.53,405.93 85.73,405.95 85.94,405.96 86.14,406.16 86.34,405.98 86.55,406 86.75,405.97 86.96,406 87.16,406 87.37,406.17 87.57,406.03 87.78,406.05 87.98,406.04 88.19,406.17 88.4,405.99 88.6,406.21 88.8,405.99 89.01,406.18 89.21,406.37 89.42,406.12 89.62,406.08 89.83,405.92 90.03,406.21 90.24,406.11 90.45,406.24 90.65,406.01 90.85,406.19 91.06,406.38 91.26,406.18 91.47,406.07 91.67,405.93 91.88,406.12 92.09,406.23 92.29,406.22 92.5,405.97 92.7,405.98 92.9,405.99 93.11,405.98 93.31,406.1 93.52,406.18 93.72,406.42 93.93,406.17 94.14,406.36 94.34,405.9 94.55,406.37 94.75,406.26 94.95,406.21 95.16,406.27 95.36,406.24 95.57,406.43 95.78,406.27 95.98,405.89 96.19,405.89 96.39,406.39 96.59,406.14 96.8,406.34 97,406.1 97.21,406.05 97.41,406.1 97.62,406.19 97.82,406.18 98.03,406.06 98.23,406.23 98.44,406.24 98.65,406.01 98.85,405.98 99.05,405.86 99.26,406.1 99.46,406.15 99.67,406.04 99.88,406.06 100.08,406.12 100.28,406.15 100.49,406.23 100.7,406.26 100.9,406.2 101.1,406.3 101.31,405.99 101.51,406.23 101.72,406.19 101.92,405.98 102.13,406.03 102.34,406.19 102.54,406.14 102.75,405.94 102.95,406.04 103.15,406.35 103.36,406.24 103.56,406.13 103.77,406.31 103.97,405.97 104.18,406.08 104.38,406.24 104.59,406.04 104.8,405.92 105,406.17 105.2,406.31 105.41,405.69 105.61,406.08 105.82,405.86 106.03,405.99 106.23,405.81 106.44,406.4 106.64,405.89 106.84,405.98 107.05,405.85 107.25,405.78 107.46,405.83 107.66,405.9 107.87,406.09 108.07,405.82 108.28,405.95 108.48,405.49 108.69,405.57 108.9,405.38 109.1,405.07 109.3,405.65 109.51,404.79 109.71,404.48 109.92,403.77 110.12,402.93 110.33,401.43 110.53,399.26 110.74,394.62 110.95,387.76 111.15,383.21 111.35,387.6 111.56,394.72 111.76,399.08 111.97,401.65 112.17,402.95 112.38,403.89 112.59,404.52 112.79,404.97 113,405 113.2,405.44 113.4,405.3 113.61,405.53 113.81,405.67 114.02,405.74 114.22,405.41 114.43,405.68 114.63,405.84 114.84,406.04 115.05,405.83 115.25,406.18 115.45,405.71 115.66,406 115.86,406.09 116.07,406.02 116.27,406.07 116.48,406.18 116.69,405.94 116.89,406.15 117.09,406.23 117.3,406.04 117.5,405.74 117.71,405.91 117.91,405.97 118.12,405.94 118.32,406.17 118.53,405.99 118.73,406.48 118.94,406.2 119.15,405.92 119.35,406.08 119.55,406.35 119.76,406.22 119.96,405.98 120.17,406.28 120.38,406.06 120.58,406.46 120.78,406.05 120.99,406.22 121.2,406.22 121.4,406.07 121.6,406.11 121.81,406.31 122.01,406.21 122.22,406.13 122.42,406.2 122.63,406.4 122.83,406.28 123.04,406.21 123.25,406.19 123.45,405.91 123.65,406.16 123.86,406.07 124.06,406.25 124.27,406.05 124.47,406.21 124.68,405.98 124.89,406.27 125.09,406.03 125.3,406.13 125.5,406.22 125.7,406.09 125.91,406.13 126.11,406.29 126.32,406.39 126.52,405.86 126.73,405.99 126.94,406.23 127.14,406.26 127.34,406.05 127.55,406.13 127.75,406.09 127.96,406.45 128.16,406.08 128.37,405.93 128.57,405.88 128.78,405.91 128.99,406.29 129.19,406.04 129.4,406.38 129.6,406.18 129.8,406.13 130.01,406.17 130.21,406.18 130.42,406.19 130.62,405.9 130.83,405.96 131.03,405.95 131.24,406.03 131.44,405.96 131.65,405.8 131.85,405.86 132.06,406.21 132.26,406.24 132.47,405.77 132.68,405.92 132.88,405.82 133.08,405.66 133.29,405.84 133.5,405.66 133.7,405.83 133.9,405.55 134.11,405.31 134.31,404.8 134.52,404.95 134.72,404.78 134.93,404.11 135.13,403.69 135.34,402.65 135.55,400.7 135.75,398.48 135.95,395.45 136.16,393.76 136.36,395.19 136.57,397.99 136.77,400.04 136.98,401.12 137.19,401.32 137.39,400.26 137.59,397.73 137.8,391.23 138,385.41 138.21,391.56 138.41,398.46 138.62,401.71 138.82,403.43 139.03,404.23 139.24,404.83 139.44,405 139.65,405.25 139.85,405.38 140.05,405.36 140.26,405.62 140.46,405.87 140.67,405.89 140.88,405.69 141.08,405.9 141.28,406.01 141.49,405.72 141.69,406 141.9,406.02 142.1,406.1 142.31,406.04 142.51,405.76 142.72,405.73 142.93,406.33 143.13,405.99 143.33,406.25 143.54,406.25 143.75,406.09 143.95,405.91 144.15,406.29 144.36,406.09 144.56,406.17 144.77,406.17 144.97,406.25 145.18,406.26 145.38,405.9 145.59,405.91 145.8,406.14 146,406.12 146.2,406.24 146.41,406.11 146.61,406.1 146.82,406.43 147.02,406.34 147.23,406.31 147.44,406.29 147.64,406.02 147.84,406.13 148.05,406.13 148.25,405.98 148.46,406.01 148.66,406.17 148.87,405.96 149.07,406.22 149.28,406.21 149.49,406.11 149.69,406.09 149.9,406.23 150.1,406.22 150.3,406.2 150.51,405.96 150.71,405.9 150.92,406.45 151.12,406.05 151.33,406.09 151.53,405.87 151.74,406.02 151.94,406.03 152.15,406.26 152.35,405.75 152.56,405.93 152.76,406.08 152.97,406.06 153.18,406.02 153.38,406.07 153.58,405.89 153.79,406.17 154,406.3 154.2,406.14 154.4,406.04 154.61,406.3 154.81,406.18 155.02,405.95 155.22,406.01 155.43,406 155.63,406.07 155.84,406.25 156.05,405.96 156.25,406.03 156.45,406.05 156.66,405.84 156.86,405.93 157.07,406.07 157.27,406.12 157.48,405.64 157.69,405.99 157.89,405.79 158.09,405.96 158.3,405.79 158.5,405.89 158.71,405.51 158.91,405.23 159.12,404.92 159.32,404.5 159.53,404.32 159.74,403.67 159.94,402.92 160.14,402.08 160.35,401.47 160.55,401.97 160.76,402.76 160.96,403.62 161.17,404.35 161.38,404.92 161.58,405.09 161.78,404.98 161.99,405.32 162.19,405.28 162.4,405.59 162.6,405.6 162.81,405.87 163.01,405.85 163.22,406.09 163.43,406.12 163.63,405.92 163.83,406.15 164.04,406.03 164.25,406.11 164.45,406.26 164.65,405.9 164.86,406.07 165.06,406.32 165.27,405.99 165.47,406.14 165.68,406.13 165.88,406.06 166.09,405.93 166.3,406.03 166.5,405.99 166.7,406.3 166.91,406.18 167.11,406.25 167.32,405.97 167.52,406.22 167.73,406.17 167.94,406.31 168.14,406.05 168.34,406.28 168.55,406.36 168.75,406.43 168.96,406.03 169.16,406 169.37,405.95 169.57,406.31 169.78,406.25 169.99,406.22 170.19,406.04 170.39,406.36 170.6,406.41 170.8,406.17 171.01,406.16 171.21,406.35 171.42,406.25 171.62,406.38 171.83,406.12 172.03,406.23 172.24,406.13 172.44,406.09 172.65,406.14 172.85,406.14 173.06,406.25 173.26,406.14 173.47,406.19 173.67,406.06 173.88,406 174.08,406.39 174.29,406.04 174.5,406.45 174.7,406.32 174.9,405.84 175.11,406.09 175.31,406.12 175.52,406.19 175.72,406.16 175.93,406.1 176.13,406.37 176.34,406.17 176.55,406.33 176.75,406.09" fill="none" stroke="#3d55a3" stroke-width="1.1" stroke-linejoin="round"/>
<polyline points="192.5,341.52 192.71,341.79 192.92,341.52 193.12,341.37 193.33,341.48 193.54,341.63 193.75,341.42 193.96,341.31 194.17,341.48 194.37,341.49 194.58,341.29 194.79,341.24 195,341.19 195.21,341.61 195.42,341.15 195.62,341.4 195.83,341.08 196.04,341.12 196.25,340.72 196.46,341.01 196.67,340.95 196.87,340.86 197.08,340.8 197.29,340.62 197.5,340.56 197.71,340.76 197.91,340.59 198.12,340.63 198.33,340.57 198.54,340.48 198.75,340.39 198.96,340.72 199.16,340.24 199.37,340.28 199.58,340.26 199.79,340.08 200,340.05 200.21,340.27 200.41,340.22 200.62,340.05 200.83,340.45 201.04,340.03 201.25,340.03 201.45,339.67 201.66,339.89 201.87,339.91 202.08,339.55 202.29,339.8 202.5,339.35 202.7,339.24 202.91,339.33 203.12,339.15 203.33,339.29 203.54,338.96 203.75,339.07 203.95,338.69 204.16,338.9 204.37,338.98 204.58,338.7 204.79,338.71 205,338.74 205.2,338.33 205.41,338.22 205.62,338.33 205.83,338.27 206.04,338.1 206.24,337.9 206.45,338.12 206.66,337.67 206.87,337.71 207.08,337.63 207.29,337.64 207.49,337.36 207.7,337.2 207.91,337.5 208.12,336.96 208.33,337.09 208.54,336.83 208.74,336.66 208.95,336.6 209.16,336.44 209.37,336.4 209.58,335.84 209.78,336.09 209.99,335.97 210.2,335.68 210.41,335.64 210.62,335.9 210.83,335.7 211.03,335.39 211.24,335.2 211.45,334.99 211.66,335.12 211.87,334.73 212.08,334.55 212.28,334.66 212.49,334.31 212.7,334.24 212.91,334.47 213.12,333.93 213.33,334.08 213.53,334.03 213.74,333.99 213.95,333.68 214.16,333.81 214.37,333.76 214.57,334.07 214.78,333.91 214.99,333.65 215.2,333.89 215.41,333.87 215.62,333.78 215.82,333.79 216.03,333.82 216.24,333.68 216.45,333.86 216.66,334.15 216.87,334.29 217.07,334.42 217.28,334.16 217.49,334.38 217.7,334.02 217.91,334.41 218.11,334.35 218.32,334.73 218.53,334.45 218.74,334.62 218.95,334.69 219.16,334.99 219.36,335.13 219.57,334.94 219.78,335.41 219.99,335.24 220.2,335.16 220.41,335.4 220.61,335.4 220.82,335.59 221.03,335.57 221.24,335.9 221.45,335.8 221.66,335.58 221.86,335.84 222.07,335.89 222.28,335.68 222.49,335.77 222.7,335.81 222.9,335.62 223.11,336.13 223.32,336.07 223.53,336.34 223.74,336.14 223.95,336.31 224.15,336.48 224.36,336.6 224.57,336.59 224.78,336.48 224.99,337.05 225.2,336.95 225.4,337.13 225.61,337.27 225.82,337.36 226.03,337.33 226.24,337.45 226.44,337.6 226.65,337.41 226.86,337.87 227.07,337.73 227.28,338.06 227.49,337.98 227.69,338.36 227.9,338.31 228.11,338.86 228.32,338.65 228.53,338.82 228.74,338.73 228.94,338.93 229.15,339.08 229.36,339.16 229.57,339.24 229.78,339.28 229.98,339.63 230.19,339.56 230.4,339.59 230.61,339.86 230.82,339.77 231.03,339.96 231.23,339.99 231.44,340.01 231.65,340.2 231.86,340.19 232.07,340.2 232.28,340.51 232.48,340.48 232.69,340.38 232.9,340.6 233.11,340.75 233.32,340.85 233.53,340.9 233.73,340.94 233.94,341.04 234.15,340.94 234.36,340.94 234.57,341.2 234.77,341.1 234.98,341.21 235.19,341.35 235.4,341.44 235.61,341.52 235.82,341.28 236.02,341.37 236.23,341.54 236.44,341.29 236.65,341.35 236.86,341.66 237.07,341.51 237.27,341.5 237.48,341.79 237.69,341.78 237.9,341.87 238.11,341.71 238.31,341.75 238.52,341.77 238.73,341.89 238.94,341.57 239.15,341.8 239.36,342.03 239.56,341.83 239.77,341.96 239.98,342.01 240.19,342.09 240.4,341.97 240.61,341.89 240.81,342.45 241.02,342 241.23,342.37 241.44,341.88 241.65,342.18 241.86,342.15 242.06,342.47 242.27,342.51 242.48,342.37 242.69,342.1 242.9,342.14 243.1,342.17 243.31,342.22 243.52,342.35 243.73,342.21 243.94,342.3 244.15,342.57 244.35,342.58 244.56,342.1 244.77,342.25 244.98,342.35 245.19,342.61 245.4,342.38 245.6,342.72 245.81,342.51 246.02,342.67 246.23,342.35 246.44,342.44 246.65,342.65 246.85,342.59 247.06,342.25 247.27,342.49 247.48,342.57 247.69,342.64 247.89,342.47 248.1,342.82 248.31,342.6 248.52,342.8 248.73,342.66 248.94,342.62 249.14,342.57 249.35,342.45 249.56,342.76 249.77,342.75 249.98,342.79 250.19,342.6 250.39,342.52 250.6,342.61 250.81,342.63 251.02,342.68 251.23,342.84 251.43,342.57 251.64,342.63 251.85,342.81 252.06,342.85 252.27,343.05 252.48,342.81 252.68,342.61 252.89,342.59 253.1,342.64 253.31,342.77 253.52,342.8 253.73,342.76 253.93,342.68 254.14,342.75 254.35,342.77 254.56,342.88 254.77,342.81 254.98,342.68" fill="none" stroke="#1e1e1e" stroke-width="1.1" stroke-linejoin="round"/>
<polyline points="192.5,327.95 192.71,328.33 192.92,328.08 193.12,328.06 193.33,328.07 193.54,328.23 193.75,328 193.96,328.06 194.17,327.98 194.37,328.09 194.58,327.84 194.79,328 195,328.1 195.21,328.11 195.42,328.01 195.62,327.95 195.83,328.11 196.04,327.97 196.25,328.05 196.46,327.65 196.67,327.65 196.87,327.91 197.08,327.73 197.29,327.68 197.5,327.58 197.71,327.92 197.91,327.5 198.12,327.66 198.33,327.42 198.54,327.57 198.75,327.89 198.96,327.9 199.16,327.44 199.37,327.33 199.58,327.69 199.79,327.29 200,327.13 200.21,327.4 200.41,327.16 200.62,327.07 200.83,327.4 201.04,327.1 201.25,327.01 201.45,327.15 201.66,327.05 201.87,327.2 202.08,327 202.29,327.18 202.5,327.06 202.7,327.1 202.91,326.95 203.12,326.75 203.33,326.76 203.54,326.63 203.75,326.34 203.95,326.33 204.16,326.55 204.37,326.03 204.58,326.19 204.79,326.05 205,326.16 205.2,325.95 205.41,326.06 205.62,325.92 205.83,325.8 206.04,325.66 206.24,325.38 206.45,325.63 206.66,325.34 206.87,325.4 207.08,325.4 207.29,325.41 207.49,325.26 207.7,325.28 207.91,324.75 208.12,324.96 208.33,324.98 208.54,324.71 208.74,324.37 208.95,324.48 209.16,324.23 209.37,324.09 209.58,324.22 209.78,323.91 209.99,323.64 210.2,323.57 210.41,323.81 210.62,323.26 210.83,323.33 211.03,323.09 211.24,323.06 211.45,322.68 211.66,322.39 211.87,322.23 212.08,321.96 212.28,322.26 212.49,321.66 212.7,321.32 212.91,321.27 213.12,320.89 213.33,320.44 213.53,320.21 213.74,319.79 213.95,319.53 214.16,319.18 214.37,318.46 214.57,318.03 214.78,317.53 214.99,317.22 215.2,316.58 215.41,316.11 215.62,315.59 215.82,314.83 216.03,314.43 216.24,314.13 216.45,313.61 216.66,313.2 216.87,312.71 217.07,312.43 217.28,312.19 217.49,312.18 217.7,312.22 217.91,312.11 218.11,312.66 218.32,312.62 218.53,313.07 218.74,313.47 218.95,313.7 219.16,313.93 219.36,314.76 219.57,315.1 219.78,315.42 219.99,316.02 220.2,316.37 220.41,316.46 220.61,316.92 220.82,316.98 221.03,317.48 221.24,317.98 221.45,317.89 221.66,318.35 221.86,318.21 222.07,318.58 222.28,318.94 222.49,319.23 222.7,319.23 222.9,319.45 223.11,319.78 223.32,319.36 223.53,319.66 223.74,320.39 223.95,320.68 224.15,320.61 224.36,320.75 224.57,320.98 224.78,321.14 224.99,321.24 225.2,321.5 225.4,321.65 225.61,321.91 225.82,322.04 226.03,322.2 226.24,322.22 226.44,322.06 226.65,322.43 226.86,321.85 227.07,322.24 227.28,322.22 227.49,322.02 227.69,322.27 227.9,321.7 228.11,321.53 228.32,321.45 228.53,321.39 228.74,321.24 228.94,320.95 229.15,320.85 229.36,320.51 229.57,320.43 229.78,320.51 229.98,320.34 230.19,320.69 230.4,320.79 230.61,321.2 230.82,321.26 231.03,321.68 231.23,322.03 231.44,322.44 231.65,322.72 231.86,323.19 232.07,323.38 232.28,323.98 232.48,324.3 232.69,324.49 232.9,324.72 233.11,324.87 233.32,325.08 233.53,325.39 233.73,325.47 233.94,325.61 234.15,325.96 234.36,326.08 234.57,326.15 234.77,326.22 234.98,326.44 235.19,326.46 235.4,326.59 235.61,326.77 235.82,326.93 236.02,327.02 236.23,326.89 236.44,327.23 236.65,326.95 236.86,327.15 237.07,327.42 237.27,327.63 237.48,327.35 237.69,327.33 237.9,327.37 238.11,327.29 238.31,327.49 238.52,327.49 238.73,327.48 238.94,327.8 239.15,327.54 239.36,327.93 239.56,327.84 239.77,327.84 239.98,327.68 240.19,327.72 240.4,327.53 240.61,327.89 240.81,327.83 241.02,327.95 241.23,327.81 241.44,328 241.65,327.73 241.86,327.65 242.06,328.06 242.27,328.16 242.48,327.57 242.69,328.23 242.9,328 243.1,328.05 243.31,327.86 243.52,327.96 243.73,328.22 243.94,328.02 244.15,328.13 244.35,328.13 244.56,328.45 244.77,328.31 244.98,328 245.19,328.13 245.4,328.04 245.6,328.02 245.81,328.13 246.02,328.4 246.23,328.26 246.44,328.36 246.65,328.25 246.85,328.22 247.06,328.3 247.27,328.29 247.48,328.58 247.69,328.57 247.89,328.37 248.1,328.41 248.31,328.04 248.52,328.32 248.73,328.69 248.94,328.24 249.14,328.48 249.35,328.55 249.56,328.32 249.77,328.35 249.98,328.32 250.19,328.51 250.39,328.4 250.6,328.62 250.81,328.58 251.02,328.41 251.23,328.8 251.43,328.38 251.64,328.34 251.85,328.4 252.06,328.31 252.27,328.39 252.48,328.44 252.68,328.58 252.89,328.23 253.1,328.26 253.31,328.36 253.52,328.43 253.73,328.54 253.93,328.37 254.14,328.7 254.35,328.41 254.56,328.46 254.77,328.5 254.98,328.67" fill="none" stroke="#ec5b3c" stroke-width="1.1" stroke-linejoin="round"/>
<polyline points="192.5,312.5 192.71,312.45 192.92,312.36 193.12,312.46 193.33,312.48 193.54,312.37 193.75,312.41 193.96,312.14 194.17,312.32 194.37,312.56 194.58,312.59 194.79,312.36 195,312.05 195.21,312.62 195.42,312.32 195.62,312.71 195.83,312.27 196.04,312.46 196.25,312.22 196.46,312.49 196.67,312.45 196.87,312.12 197.08,312.45 197.29,312.66 197.5,312.2 197.71,312.04 197.91,312.25 198.12,312.14 198.33,311.96 198.54,312.01 198.75,312.19 198.96,311.91 199.16,312.28 199.37,312.17 199.58,312.06 199.79,312.27 200,311.92 200.21,312.13 200.41,311.82 200.62,311.94 200.83,312.06 201.04,311.87 201.25,311.91 201.45,312 201.66,312.1 201.87,312.05 202.08,311.9 202.29,311.77 202.5,311.57 202.7,312 202.91,312 203.12,311.38 203.33,311.79 203.54,311.63 203.75,311.71 203.95,311.62 204.16,311.51 204.37,311.5 204.58,311.46 204.79,311.6 205,311.36 205.2,311.28 205.41,311.42 205.62,311.37 205.83,311.31 206.04,311.24 206.24,311.37 206.45,311.28 206.66,311.11 206.87,311 207.08,311.09 207.29,310.68 207.49,310.83 207.7,310.76 207.91,310.85 208.12,310.72 208.33,311.09 208.54,310.8 208.74,310.71 208.95,310.93 209.16,310.56 209.37,310.47 209.58,310.66 209.78,310.56 209.99,310.53 210.2,310.53 210.41,310.26 210.62,310.17 210.83,310.12 211.03,310.19 211.24,310.27 211.45,309.92 211.66,309.95 211.87,309.78 212.08,310.21 212.28,309.97 212.49,309.82 212.7,309.54 212.91,309.49 213.12,309.46 213.33,309.47 213.53,309.17 213.74,309.21 213.95,309.3 214.16,308.99 214.37,308.84 214.57,308.36 214.78,308.44 214.99,308.25 215.2,307.94 215.41,307.6 215.62,307.51 215.82,307.08 216.03,306.82 216.24,306.32 216.45,306.16 216.66,305.9 216.87,305.23 217.07,304.97 217.28,304.26 217.49,304.14 217.7,303.72 217.91,303.22 218.11,303.09 218.32,302.6 218.53,302.59 218.74,302.78 218.95,302.58 219.16,302.58 219.36,303.16 219.57,303.39 219.78,303.66 219.99,303.87 220.2,304.31 220.41,304.84 220.61,305.73 220.82,306.02 221.03,306.28 221.24,306.99 221.45,307.42 221.66,307.45 221.86,307.97 222.07,307.97 222.28,308.55 222.49,309.01 222.7,308.78 222.9,309.21 223.11,309.3 223.32,309.56 223.53,309.75 223.74,309.93 223.95,310.15 224.15,310.21 224.36,310.4 224.57,310.49 224.78,310.59 224.99,310.41 225.2,310.63 225.4,310.58 225.61,310.55 225.82,311 226.03,310.79 226.24,310.77 226.44,310.46 226.65,310.73 226.86,310.86 227.07,310.69 227.28,310.59 227.49,310.82 227.69,310.47 227.9,310.35 228.11,310.24 228.32,310.02 228.53,309.96 228.74,309.57 228.94,309.07 229.15,308.49 229.36,307.8 229.57,307.14 229.78,305.61 229.98,304.12 230.19,301.73 230.4,299.59 230.61,297.32 230.82,295.96 231.03,296 231.23,297.75 231.44,300.15 231.65,302.66 231.86,304.83 232.07,306.15 232.28,307.22 232.48,308.36 232.69,308.97 232.9,309.63 233.11,310.09 233.32,310.35 233.53,310.54 233.73,310.89 233.94,310.85 234.15,311.24 234.36,311.2 234.57,311.52 234.77,311.57 234.98,311.61 235.19,311.54 235.4,311.79 235.61,311.74 235.82,311.88 236.02,312.05 236.23,312.13 236.44,311.84 236.65,312.2 236.86,312.3 237.07,312.29 237.27,312.2 237.48,312.17 237.69,312.46 237.9,312.18 238.11,312.03 238.31,312.28 238.52,312.33 238.73,312.16 238.94,312.14 239.15,312.62 239.36,312.36 239.56,312.47 239.77,312.29 239.98,312.17 240.19,312.37 240.4,312.6 240.61,312.32 240.81,312.17 241.02,312.41 241.23,312.41 241.44,312.46 241.65,312.31 241.86,312.42 242.06,312.4 242.27,312.61 242.48,312.51 242.69,312.63 242.9,312.5 243.1,312.2 243.31,312.24 243.52,312.6 243.73,312.65 243.94,312.66 244.15,312.53 244.35,312.28 244.56,312.48 244.77,312.61 244.98,312.76 245.19,312.51 245.4,312.49 245.6,312.46 245.81,312.72 246.02,312.7 246.23,312.32 246.44,312.76 246.65,312.46 246.85,312.38 247.06,312.37 247.27,312.49 247.48,312.94 247.69,312.98 247.89,312.43 248.1,312.51 248.31,312.64 248.52,312.68 248.73,312.55 248.94,312.39 249.14,312.57 249.35,312.53 249.56,312.37 249.77,312.65 249.98,312.43 250.19,312.38 250.39,312.86 250.6,312.78 250.81,312.85 251.02,312.66 251.23,312.59 251.43,312.64 251.64,312.46 251.85,312.76 252.06,312.7 252.27,312.61 252.48,312.39 252.68,312.64 252.89,312.9 253.1,312.88 253.31,312.79 253.52,312.62 253.73,312.69 253.93,312.75 254.14,312.7 254.35,312.83 254.56,312.58 254.77,312.34 254.98,312.33" fill="none" stroke="#78cba0" stroke-width="1.1" stroke-linejoin="round"/>
<polyline points="192.5,297.36 192.71,297.29 192.92,297.58 193.12,297.63 193.33,297.46 193.54,297.53 193.75,297.46 193.96,297.46 194.17,297.36 194.37,297.36 194.58,297.58 194.79,297.36 195,297.38 195.21,297.55 195.42,297.51 195.62,297.3 195.83,297.38 196.04,297.19 196.25,297.34 196.46,297.36 196.67,297.3 196.87,297.31 197.08,297.32 197.29,296.9 197.5,297.12 197.71,297.24 197.91,297.14 198.12,297.06 198.33,297.15 198.54,297.4 198.75,297.11 198.96,297.04 199.16,297.04 199.37,296.92 199.58,297.14 199.79,296.91 200,297.17 200.21,297.14 200.41,297.07 200.62,297.12 200.83,296.93 201.04,296.67 201.25,296.88 201.45,296.96 201.66,296.61 201.87,296.64 202.08,296.94 202.29,296.82 202.5,296.92 202.7,296.79 202.91,296.67 203.12,296.69 203.33,296.72 203.54,296.55 203.75,296.49 203.95,296.53 204.16,296.4 204.37,296.75 204.58,296.25 204.79,296.1 205,296.09 205.2,296.38 205.41,296.13 205.62,296.16 205.83,296.06 206.04,296.09 206.24,295.78 206.45,295.96 206.66,295.81 206.87,296 207.08,295.88 207.29,295.56 207.49,295.54 207.7,295.71 207.91,295.75 208.12,295.63 208.33,295.44 208.54,295.56 208.74,295 208.95,295.21 209.16,295.08 209.37,295.02 209.58,295.19 209.78,295.08 209.99,295.02 210.2,294.9 210.41,294.94 210.62,294.9 210.83,294.63 211.03,294.78 211.24,294.43 211.45,294.74 211.66,294.21 211.87,294.28 212.08,294.07 212.28,294.14 212.49,294.22 212.7,293.81 212.91,294.06 213.12,293.88 213.33,293.6 213.53,293.32 213.74,293.38 213.95,292.68 214.16,292.8 214.37,292.87 214.57,292.53 214.78,292.69 214.99,292.02 215.2,291.7 215.41,291.63 215.62,291.51 215.82,291.43 216.03,290.69 216.24,290.73 216.45,290.66 216.66,290.16 216.87,290 217.07,289.72 217.28,289.87 217.49,289.78 217.7,289.68 217.91,289.6 218.11,289.73 218.32,289.63 218.53,289.86 218.74,290.02 218.95,290.27 219.16,290.36 219.36,290.53 219.57,290.87 219.78,290.81 219.99,291.04 220.2,291.82 220.41,291.87 220.61,291.97 220.82,292.3 221.03,292.63 221.24,292.9 221.45,293.02 221.66,293.5 221.86,293.32 222.07,294.18 222.28,293.8 222.49,294.37 222.7,294.39 222.9,294.2 223.11,294.42 223.32,294.73 223.53,294.89 223.74,294.9 223.95,295.07 224.15,295.19 224.36,295.09 224.57,295.34 224.78,295.74 224.99,295.38 225.2,295.38 225.4,295.67 225.61,295.81 225.82,295.8 226.03,295.58 226.24,295.68 226.44,295.72 226.65,295.65 226.86,295.73 227.07,295.79 227.28,295.67 227.49,295.51 227.69,295.4 227.9,295.57 228.11,294.97 228.32,295.25 228.53,294.81 228.74,294.38 228.94,293.84 229.15,293.66 229.36,292.84 229.57,291.84 229.78,290.73 229.98,288.48 230.19,286.64 230.4,284.09 230.61,281.63 230.82,280.27 231.03,280.52 231.23,282.28 231.44,284.7 231.65,287 231.86,289.37 232.07,291.02 232.28,292.5 232.48,293.28 232.69,293.88 232.9,294.28 233.11,295.31 233.32,295.17 233.53,295.59 233.73,295.91 233.94,296.08 234.15,296.36 234.36,296.16 234.57,296.33 234.77,296.57 234.98,296.45 235.19,296.62 235.4,296.99 235.61,296.89 235.82,296.89 236.02,296.87 236.23,297.01 236.44,297.04 236.65,296.92 236.86,297.23 237.07,296.96 237.27,297.37 237.48,297.15 237.69,296.89 237.9,297.02 238.11,297.32 238.31,297.17 238.52,297.58 238.73,297.54 238.94,297.66 239.15,297.5 239.36,297.58 239.56,297.31 239.77,297.6 239.98,297.36 240.19,297.43 240.4,297.25 240.61,297.47 240.81,297.53 241.02,297.47 241.23,297.33 241.44,297.63 241.65,297.64 241.86,297.51 242.06,297.64 242.27,297.68 242.48,297.39 242.69,297.54 242.9,297.28 243.1,297.41 243.31,297.63 243.52,297.45 243.73,297.64 243.94,297.64 244.15,297.29 244.35,297.53 244.56,297.83 244.77,297.61 244.98,297.63 245.19,297.52 245.4,297.39 245.6,297.39 245.81,298.06 246.02,297.61 246.23,297.51 246.44,297.66 246.65,297.36 246.85,297.86 247.06,297.91 247.27,297.55 247.48,297.71 247.69,297.54 247.89,297.8 248.1,297.55 248.31,297.66 248.52,297.88 248.73,297.76 248.94,297.64 249.14,297.47 249.35,297.46 249.56,297.88 249.77,297.78 249.98,297.71 250.19,297.9 250.39,297.73 250.6,297.6 250.81,297.7 251.02,297.7 251.23,297.72 251.43,298.1 251.64,297.81 251.85,297.77 252.06,297.69 252.27,297.63 252.48,297.58 252.68,297.45 252.89,297.67 253.1,297.51 253.31,297.46 253.52,297.6 253.73,297.44 253.93,297.95 254.14,297.93 254.35,297.61 254.56,298.06 254.77,297.85 254.98,297.38" fill="none" stroke="#3d55a3" stroke-width="1.1" stroke-linejoin="round"/>
<polyline points="192.5,451.57 192.71,451.39 192.92,451.27 193.12,451.47 193.33,451.66 193.54,451.53 193.75,451.23 193.96,451.33 194.17,451.3 194.37,451.56 194.58,451.35 194.79,451.2 195,451.18 195.21,451 195.42,451.15 195.62,451.38 195.83,450.94 196.04,451.23 196.25,451.16 196.46,451.27 196.67,450.95 196.87,451.23 197.08,451.3 197.29,451.38 197.5,450.77 197.71,450.97 197.91,450.92 198.12,450.94 198.33,450.74 198.54,450.98 198.75,451.18 198.96,451.01 199.16,450.61 199.37,450.63 199.58,450.79 199.79,450.67 200,450.5 200.21,450.76 200.41,450.61 200.62,450.65 200.83,450.43 201.04,450.6 201.25,450.3 201.45,450.16 201.66,450.28 201.87,450.03 202.08,450.38 202.29,450.25 202.5,449.85 202.7,450.07 202.91,450.13 203.12,449.89 203.33,449.96 203.54,449.76 203.75,449.78 203.95,449.72 204.16,449.75 204.37,449.47 204.58,449.39 204.79,449.55 205,449.36 205.2,449.45 205.41,449.23 205.62,449.05 205.83,449.29 206.04,449.14 206.24,449.14 206.45,448.91 206.66,448.83 206.87,448.99 207.08,448.47 207.29,448.9 207.49,448.63 207.7,448.46 207.91,448.39 208.12,448.37 208.33,448.07 208.54,448.13 208.74,447.84 208.95,447.6 209.16,447.8 209.37,447.67 209.58,447.64 209.78,447.5 209.99,447.4 210.2,447.28 210.41,446.87 210.62,447.08 210.83,447.15 211.03,446.52 211.24,446.26 211.45,446.4 211.66,446.28 211.87,446.13 212.08,446.04 212.28,445.43 212.49,445.52 212.7,445.36 212.91,445.3 213.12,444.8 213.33,444.75 213.53,444.51 213.74,444.36 213.95,444.18 214.16,444.01 214.37,443.59 214.57,443.69 214.78,443.54 214.99,443.32 215.2,442.7 215.41,442.99 215.62,442.88 215.82,442.74 216.03,443.01 216.24,442.83 216.45,442.6 216.66,442.67 216.87,443.04 217.07,442.39 217.28,442.6 217.49,442.46 217.7,442.81 217.91,442.8 218.11,442.68 218.32,442.87 218.53,442.75 218.74,442.73 218.95,443.21 219.16,443.45 219.36,443.28 219.57,443.37 219.78,443.32 219.99,444.04 220.2,443.68 220.41,443.85 220.61,444.1 220.82,444.44 221.03,444.39 221.24,444.5 221.45,444.63 221.66,444.86 221.86,444.83 222.07,444.96 222.28,445.01 222.49,444.94 222.7,445.38 222.9,445.14 223.11,445.1 223.32,445.28 223.53,445.39 223.74,445.53 223.95,445.21 224.15,445.25 224.36,445.46 224.57,445.49 224.78,445.25 224.99,445.22 225.2,445.38 225.4,445.3 225.61,445.03 225.82,445.1 226.03,445.4 226.24,444.97 226.44,445.23 226.65,444.79 226.86,445.19 227.07,445.17 227.28,444.79 227.49,444.76 227.69,444.93 227.9,444.64 228.11,444.92 228.32,445.04 228.53,444.93 228.74,444.99 228.94,444.99 229.15,445.25 229.36,445.07 229.57,445.55 229.78,445.43 229.98,445.53 230.19,445.48 230.4,445.82 230.61,446.09 230.82,446.42 231.03,446.17 231.23,446.57 231.44,446.67 231.65,446.78 231.86,447.14 232.07,447.2 232.28,447.62 232.48,447.26 232.69,447.94 232.9,447.71 233.11,447.86 233.32,448.39 233.53,448.41 233.73,448.62 233.94,448.59 234.15,448.71 234.36,448.89 234.57,449.11 234.77,449.11 234.98,449.28 235.19,449.33 235.4,449.59 235.61,449.49 235.82,449.44 236.02,449.45 236.23,449.92 236.44,450.02 236.65,450.23 236.86,450.05 237.07,450.07 237.27,450.08 237.48,450.49 237.69,450.34 237.9,450.65 238.11,450.55 238.31,450.57 238.52,450.39 238.73,450.62 238.94,450.89 239.15,450.73 239.36,450.97 239.56,450.66 239.77,451.11 239.98,451.42 240.19,451.2 240.4,451.12 240.61,450.93 240.81,451.07 241.02,451.08 241.23,451.24 241.44,450.94 241.65,451.15 241.86,451.43 242.06,451.36 242.27,451.48 242.48,451.52 242.69,451.25 242.9,451.24 243.1,451.54 243.31,451.5 243.52,451.53 243.73,451.42 243.94,451.72 244.15,451.66 244.35,451.78 244.56,451.57 244.77,451.75 244.98,451.65 245.19,451.54 245.4,451.69 245.6,451.47 245.81,451.71 246.02,451.78 246.23,451.87 246.44,451.62 246.65,451.6 246.85,451.7 247.06,451.51 247.27,451.74 247.48,452.25 247.69,451.89 247.89,451.77 248.1,451.79 248.31,452.17 248.52,451.74 248.73,451.91 248.94,451.93 249.14,451.84 249.35,451.85 249.56,451.72 249.77,451.86 249.98,452.19 250.19,452.22 250.39,451.97 250.6,452.13 250.81,452.1 251.02,452.06 251.23,452.03 251.43,452.24 251.64,452.15 251.85,452.04 252.06,452.05 252.27,452.23 252.48,452.01 252.68,452 252.89,452.08 253.1,452.05 253.31,452.32 253.52,452.19 253.73,452.13 253.93,452.07 254.14,452.37 254.35,452.23 254.56,452.49 254.77,452.32 254.98,452.15" fill="none" stroke="#1e1e1e" stroke-width="1.1" stroke-linejoin="round"/>
<polyline points="192.5,436.71 192.71,436.75 192.92,436.81 193.12,436.9 193.33,436.84 193.54,437 193.75,436.53 193.96,436.76 194.17,436.53 194.37,436.58 194.58,436.64 194.79,436.63 195,436.57 195.21,436.48 195.42,436.87 195.62,436.64 195.83,436.83 196.04,436.51 196.25,436.32 196.46,436.57 196.67,436.78 196.87,436.55 197.08,436.69 197.29,436.46 197.5,436.82 197.71,436.66 197.91,436.74 198.12,436.53 198.33,436.75 198.54,436.56 198.75,436.46 198.96,436.43 199.16,436.52 199.37,436.36 199.58,436.3 199.79,436.49 200,436.56 200.21,436.39 200.41,436.54 200.62,436.64 200.83,436.19 201.04,436.4 201.25,436.2 201.45,436.23 201.66,436.33 201.87,435.93 202.08,436.36 202.29,436.37 202.5,436.3 202.7,436.3 202.91,436.45 203.12,436.09 203.33,436.29 203.54,436.32 203.75,436.14 203.95,435.77 204.16,435.99 204.37,435.94 204.58,435.71 204.79,435.92 205,436.01 205.2,435.82 205.41,435.8 205.62,436.02 205.83,435.67 206.04,435.58 206.24,435.7 206.45,435.82 206.66,435.71 206.87,435.59 207.08,435.47 207.29,435.69 207.49,435.6 207.7,435.17 207.91,435.44 208.12,434.99 208.33,435.54 208.54,435.36 208.74,435.14 208.95,435 209.16,435.11 209.37,434.85 209.58,435.16 209.78,434.96 209.99,434.73 210.2,434.95 210.41,435.08 210.62,434.67 210.83,434.76 211.03,435.04 211.24,434.75 211.45,434.59 211.66,434.65 211.87,434.68 212.08,434.35 212.28,434.42 212.49,434.12 212.7,434.05 212.91,433.98 213.12,434.24 213.33,434.06 213.53,434.02 213.74,433.97 213.95,433.67 214.16,433.55 214.37,433.42 214.57,433.25 214.78,432.83 214.99,432.74 215.2,432.52 215.41,432.3 215.62,431.9 215.82,431.69 216.03,431.43 216.24,431.07 216.45,430.76 216.66,430.41 216.87,429.98 217.07,429.64 217.28,429.24 217.49,428.95 217.7,428.51 217.91,428.05 218.11,428.3 218.32,428 218.53,427.98 218.74,427.97 218.95,428.01 219.16,428.07 219.36,428.6 219.57,428.83 219.78,429.2 219.99,429.34 220.2,430.3 220.41,430.3 220.61,430.7 220.82,431.31 221.03,431.67 221.24,431.8 221.45,432.22 221.66,432.53 221.86,432.77 222.07,433.05 222.28,433.3 222.49,433.31 222.7,433.29 222.9,434 223.11,433.75 223.32,433.77 223.53,434.12 223.74,434.18 223.95,434.07 224.15,434.56 224.36,433.89 224.57,434.46 224.78,434.27 224.99,434.32 225.2,434.3 225.4,434.18 225.61,434.2 225.82,433.89 226.03,433.93 226.24,434.15 226.44,433.35 226.65,433.76 226.86,433.04 227.07,433.03 227.28,433.03 227.49,432.55 227.69,432.21 227.9,431.73 228.11,431.57 228.32,431.19 228.53,430.75 228.74,430.27 228.94,430.24 229.15,430.08 229.36,430.09 229.57,430.01 229.78,430.3 229.98,430.48 230.19,430.2 230.4,431.25 230.61,431.4 230.82,431.68 231.03,432.32 231.23,432.79 231.44,432.78 231.65,433.17 231.86,433.77 232.07,433.86 232.28,434.42 232.48,434.45 232.69,434.54 232.9,434.61 233.11,435.06 233.32,434.86 233.53,435.05 233.73,435.17 233.94,435.73 234.15,435.83 234.36,435.63 234.57,435.68 234.77,435.92 234.98,436.07 235.19,435.82 235.4,436.33 235.61,436.02 235.82,436.27 236.02,435.79 236.23,436.18 236.44,436.12 236.65,436.56 236.86,436.27 237.07,436.14 237.27,436.65 237.48,436.28 237.69,436.41 237.9,436.25 238.11,436.56 238.31,436.51 238.52,436.46 238.73,436.46 238.94,436.45 239.15,436.45 239.36,436.36 239.56,436.77 239.77,436.74 239.98,436.41 240.19,436.45 240.4,436.7 240.61,437 240.81,436.64 241.02,436.63 241.23,436.65 241.44,436.74 241.65,436.68 241.86,436.88 242.06,436.88 242.27,436.82 242.48,436.98 242.69,436.72 242.9,436.68 243.1,437.22 243.31,436.48 243.52,436.55 243.73,436.43 243.94,436.85 244.15,436.64 244.35,436.97 244.56,436.5 244.77,436.8 244.98,436.77 245.19,436.67 245.4,437 245.6,436.78 245.81,436.91 246.02,436.77 246.23,436.88 246.44,436.79 246.65,436.87 246.85,436.85 247.06,436.77 247.27,436.94 247.48,436.85 247.69,436.74 247.89,436.73 248.1,436.96 248.31,437.09 248.52,436.7 248.73,436.84 248.94,436.97 249.14,437.06 249.35,437.02 249.56,436.73 249.77,436.92 249.98,437.05 250.19,436.96 250.39,436.89 250.6,436.75 250.81,436.95 251.02,436.92 251.23,436.94 251.43,437.16 251.64,437.12 251.85,436.82 252.06,436.98 252.27,436.9 252.48,436.96 252.68,437.19 252.89,437.09 253.1,436.96 253.31,436.86 253.52,436.93 253.73,437.01 253.93,436.89 254.14,437.13 254.35,436.97 254.56,436.79 254.77,437.28 254.98,436.53" fill="none" stroke="#ec5b3c" stroke-width="1.1" stroke-linejoin="round"/>
<polyline points="192.5,421.52 192.71,421.54 192.92,421.7 193.12,421.71 193.33,421.76 193.54,421.77 193.75,421.58 193.96,421.54 194.17,421.67 194.37,421.51 194.58,421.32 194.79,421.44 195,421.6 195.21,421.58 195.42,421.32 195.62,421.66 195.83,421.52 196.04,421.24 196.25,421.53 196.46,421.6 196.67,421.52 196.87,421.39 197.08,421.31 197.29,421.59 197.5,421.45 197.71,421.4 197.91,421.33 198.12,421.23 198.33,421.09 198.54,421.31 198.75,421.52 198.96,421.46 199.16,421.23 199.37,421.55 199.58,421.28 199.79,421.15 200,421.43 200.21,421.48 200.41,421.2 200.62,421.06 200.83,421.22 201.04,420.85 201.25,421.21 201.45,421.42 201.66,421.22 201.87,421.05 202.08,421.25 202.29,421.05 202.5,421.3 202.7,421.03 202.91,421.38 203.12,421 203.33,421.06 203.54,420.87 203.75,420.8 203.95,421.02 204.16,421 204.37,420.77 204.58,420.98 204.79,420.81 205,420.77 205.2,420.81 205.41,420.86 205.62,420.88 205.83,420.93 206.04,420.78 206.24,420.58 206.45,420.56 206.66,420.69 206.87,420.43 207.08,420.55 207.29,420.49 207.49,420.5 207.7,420.52 207.91,420.62 208.12,420.68 208.33,420.54 208.54,420.53 208.74,420.18 208.95,420.47 209.16,420.48 209.37,420.05 209.58,420.61 209.78,420.12 209.99,419.81 210.2,420.41 210.41,420.12 210.62,419.96 210.83,419.97 211.03,420.18 211.24,420.03 211.45,419.9 211.66,420.09 211.87,419.74 212.08,419.71 212.28,419.71 212.49,419.63 212.7,419.79 212.91,419.6 213.12,419.41 213.33,419.43 213.53,419.12 213.74,419.35 213.95,419.24 214.16,419.21 214.37,418.96 214.57,418.92 214.78,418.56 214.99,418.53 215.2,418.35 215.41,417.92 215.62,417.94 215.82,417.58 216.03,417.25 216.24,416.81 216.45,416.78 216.66,416.03 216.87,415.42 217.07,414.87 217.28,414.51 217.49,413.79 217.7,413.11 217.91,412.54 218.11,412.28 218.32,411.74 218.53,411.61 218.74,411.35 218.95,411.25 219.16,411.8 219.36,412.11 219.57,412.46 219.78,413.09 219.99,413.59 220.2,414.47 220.41,414.88 220.61,415.57 220.82,416.05 221.03,416.44 221.24,416.96 221.45,417.25 221.66,417.44 221.86,417.86 222.07,418.01 222.28,418.53 222.49,418.73 222.7,418.72 222.9,419.06 223.11,419.15 223.32,419.38 223.53,419.2 223.74,419.44 223.95,419.36 224.15,419.47 224.36,419.84 224.57,419.37 224.78,419.57 224.99,419.8 225.2,419.85 225.4,419.61 225.61,419.41 225.82,419.43 226.03,419.71 226.24,419.77 226.44,419.67 226.65,419.34 226.86,419.56 227.07,419.2 227.28,419.18 227.49,418.88 227.69,418.94 227.9,418.38 228.11,417.85 228.32,417.79 228.53,417.47 228.74,417.01 228.94,416.32 229.15,415.77 229.36,414.93 229.57,414.29 229.78,413.51 229.98,412.7 230.19,412.14 230.4,410.99 230.61,411.01 230.82,410.95 231.03,410.99 231.23,411.73 231.44,412.47 231.65,413.16 231.86,414.28 232.07,415.29 232.28,415.86 232.48,416.56 232.69,417.2 232.9,417.54 233.11,418.15 233.32,418.28 233.53,418.76 233.73,419.13 233.94,419.47 234.15,419.46 234.36,419.65 234.57,419.93 234.77,420 234.98,420.16 235.19,420.38 235.4,420.25 235.61,420.59 235.82,420.6 236.02,420.58 236.23,420.5 236.44,420.66 236.65,420.81 236.86,421 237.07,420.62 237.27,421.06 237.48,421.03 237.69,420.86 237.9,421.2 238.11,421.16 238.31,421.2 238.52,421.01 238.73,421.02 238.94,421.34 239.15,421.44 239.36,421.31 239.56,421.24 239.77,421.22 239.98,421.05 240.19,421.47 240.4,421.33 240.61,421.54 240.81,421.26 241.02,421.54 241.23,421.29 241.44,421.49 241.65,421.62 241.86,421.32 242.06,421.58 242.27,421.45 242.48,421.32 242.69,421.5 242.9,421.57 243.1,421.38 243.31,421.45 243.52,421.42 243.73,421.39 243.94,421.48 244.15,421.64 244.35,421.45 244.56,421.72 244.77,421.48 244.98,421.44 245.19,421.71 245.4,421.77 245.6,421.47 245.81,421.65 246.02,421.4 246.23,421.52 246.44,421.53 246.65,421.69 246.85,421.4 247.06,421.52 247.27,421.5 247.48,421.62 247.69,421.42 247.89,421.41 248.1,422.03 248.31,421.65 248.52,421.4 248.73,421.75 248.94,421.43 249.14,421.35 249.35,421.88 249.56,421.82 249.77,421.51 249.98,421.48 250.19,421.71 250.39,421.95 250.6,421.74 250.81,421.75 251.02,421.48 251.23,421.39 251.43,421.71 251.64,421.81 251.85,421.68 252.06,421.66 252.27,421.87 252.48,421.54 252.68,421.83 252.89,421.79 253.1,421.58 253.31,421.69 253.52,421.69 253.73,421.76 253.93,421.53 254.14,421.65 254.35,421.7 254.56,421.69 254.77,421.69 254.98,421.72" fill="none" stroke="#78cba0" stroke-width="1.1" stroke-linejoin="round"/>
<polyline points="192.5,406 192.71,405.95 192.92,406.17 193.12,405.91 193.33,405.96 193.54,405.87 193.75,405.82 193.96,406.05 194.17,405.97 194.37,405.95 194.58,406.03 194.79,405.94 195,406.05 195.21,406.21 195.42,405.99 195.62,405.89 195.83,406.17 196.04,406.02 196.25,405.66 196.46,406.1 196.67,405.92 196.87,406.01 197.08,405.7 197.29,405.74 197.5,405.76 197.71,405.93 197.91,405.67 198.12,405.72 198.33,405.95 198.54,405.71 198.75,405.81 198.96,405.65 199.16,405.51 199.37,405.74 199.58,405.72 199.79,405.52 200,405.86 200.21,405.82 200.41,405.81 200.62,405.59 200.83,405.48 201.04,405.62 201.25,405.64 201.45,405.58 201.66,405.5 201.87,405.42 202.08,405.44 202.29,405.51 202.5,405.43 202.7,405.73 202.91,405.42 203.12,405.51 203.33,405.35 203.54,405.37 203.75,405.23 203.95,405.27 204.16,405.1 204.37,404.99 204.58,405.46 204.79,405.08 205,405.28 205.2,405.16 205.41,405.07 205.62,405.23 205.83,405.01 206.04,405.13 206.24,404.98 206.45,405.15 206.66,405.11 206.87,404.95 207.08,405.07 207.29,404.95 207.49,405.08 207.7,404.8 207.91,404.56 208.12,404.78 208.33,404.76 208.54,404.64 208.74,404.63 208.95,404.59 209.16,404.42 209.37,404.82 209.58,404.43 209.78,404.36 209.99,404.26 210.2,404.34 210.41,404.43 210.62,404.62 210.83,404.47 211.03,404.24 211.24,404.14 211.45,404.13 211.66,404.25 211.87,404.36 212.08,404.13 212.28,404.4 212.49,404.41 212.7,404.1 212.91,403.72 213.12,404.14 213.33,403.91 213.53,403.96 213.74,403.94 213.95,403.57 214.16,403.64 214.37,403.56 214.57,403.31 214.78,403.4 214.99,403.14 215.2,402.94 215.41,403.1 215.62,402.65 215.82,402.64 216.03,402.12 216.24,402.01 216.45,401.42 216.66,401.18 216.87,400.91 217.07,399.97 217.28,399.86 217.49,399.19 217.7,398.79 217.91,398.03 218.11,397.34 218.32,396.54 218.53,396.57 218.74,395.54 218.95,395.24 219.16,394.98 219.36,395.04 219.57,395.29 219.78,395.42 219.99,396.26 220.2,396.65 220.41,397.41 220.61,397.67 220.82,398.54 221.03,399.19 221.24,399.74 221.45,400.23 221.66,400.84 221.86,401.28 222.07,401.46 222.28,401.65 222.49,402.34 222.7,402.45 222.9,402.88 223.11,403.06 223.32,403.09 223.53,403.05 223.74,403.34 223.95,403.4 224.15,403.78 224.36,403.43 224.57,403.88 224.78,403.57 224.99,403.75 225.2,403.65 225.4,403.76 225.61,403.79 225.82,403.89 226.03,403.71 226.24,403.84 226.44,403.92 226.65,403.59 226.86,403.28 227.07,403.28 227.28,403.11 227.49,402.85 227.69,402.8 227.9,402.48 228.11,402.21 228.32,401.52 228.53,400.48 228.74,400.15 228.94,399.4 229.15,398.14 229.36,396.9 229.57,395.6 229.78,393.73 229.98,391.59 230.19,389.7 230.4,387.63 230.61,387.01 230.82,386.67 231.03,387.65 231.23,389.05 231.44,391.03 231.65,393.1 231.86,395.45 232.07,396.51 232.28,397.9 232.48,399.15 232.69,400.34 232.9,401.09 233.11,401.73 233.32,402.13 233.53,402.65 233.73,402.91 233.94,403.32 234.15,403.51 234.36,403.65 234.57,403.93 234.77,404.54 234.98,404.48 235.19,404.45 235.4,404.67 235.61,404.73 235.82,405.07 236.02,404.97 236.23,404.97 236.44,405.23 236.65,405.24 236.86,405.16 237.07,405.2 237.27,405.38 237.48,405.17 237.69,405.31 237.9,405.64 238.11,405.65 238.31,405.72 238.52,405.52 238.73,405.53 238.94,405.6 239.15,405.6 239.36,405.88 239.56,405.68 239.77,405.93 239.98,405.65 240.19,405.83 240.4,406.03 240.61,405.7 240.81,405.73 241.02,405.75 241.23,405.61 241.44,405.82 241.65,405.78 241.86,406.21 242.06,405.83 242.27,405.6 242.48,406.06 242.69,406.07 242.9,405.94 243.1,405.99 243.31,406.06 243.52,405.89 243.73,405.98 243.94,406 244.15,406.23 244.35,406.2 244.56,406.03 244.77,405.81 244.98,406.15 245.19,406.02 245.4,406.2 245.6,406.04 245.81,406.07 246.02,406.14 246.23,405.94 246.44,405.96 246.65,406.4 246.85,405.94 247.06,406.21 247.27,406.17 247.48,406.2 247.69,406.28 247.89,405.89 248.1,406.23 248.31,405.79 248.52,406.1 248.73,406.15 248.94,406.25 249.14,406.27 249.35,405.97 249.56,406.07 249.77,406.09 249.98,406.02 250.19,406 250.39,406.03 250.6,406.3 250.81,406.33 251.02,406.24 251.23,406.38 251.43,406.15 251.64,405.98 251.85,406.05 252.06,406.18 252.27,406.3 252.48,406.33 252.68,406.02 252.89,406.3 253.1,406.08 253.31,406.25 253.52,406.29 253.73,406.38 253.93,406.09 254.14,406.2 254.35,406.23 254.56,406.11 254.77,406.18 254.98,406.26" fill="none" stroke="#3d55a3" stroke-width="1.1" stroke-linejoin="round"/>
<line x1="53.75" y1="458" x2="53.75" y2="455" stroke="#444" stroke-width="0.9" />
<line x1="74.25" y1="458" x2="74.25" y2="455" stroke="#444" stroke-width="0.9" />
<line x1="94.75" y1="458" x2="94.75" y2="455" stroke="#444" stroke-width="0.9" />
<line x1="115.25" y1="458" x2="115.25" y2="455" stroke="#444" stroke-width="0.9" />
<line x1="135.75" y1="458" x2="135.75" y2="455" stroke="#444" stroke-width="0.9" />
<line x1="156.25" y1="458" x2="156.25" y2="455" stroke="#444" stroke-width="0.9" />
<line x1="176.75" y1="458" x2="176.75" y2="455" stroke="#444" stroke-width="0.9" />
<line x1="64" y1="458" x2="64" y2="456.4" stroke="#444" stroke-width="0.9" />
<line x1="84.5" y1="458" x2="84.5" y2="456.4" stroke="#444" stroke-width="0.9" />
<line x1="105" y1="458" x2="105" y2="456.4" stroke="#444" stroke-width="0.9" />
<line x1="125.5" y1="458" x2="125.5" y2="456.4" stroke="#444" stroke-width="0.9" />
<line x1="146" y1="458" x2="146" y2="456.4" stroke="#444" stroke-width="0.9" />
<line x1="166.5" y1="458" x2="166.5" y2="456.4" stroke="#444" stroke-width="0.9" />
<line x1="192.5" y1="458" x2="192.5" y2="455" stroke="#444" stroke-width="0.9" />
<line x1="218" y1="458" x2="218" y2="455" stroke="#444" stroke-width="0.9" />
<line x1="243.5" y1="458" x2="243.5" y2="455" stroke="#444" stroke-width="0.9" />
<line x1="205.25" y1="458" x2="205.25" y2="456.4" stroke="#444" stroke-width="0.9" />
<line x1="230.75" y1="458" x2="230.75" y2="456.4" stroke="#444" stroke-width="0.9" />
<text x="53.75" y="467.3" font-size="8.3" text-anchor="middle" fill="#111" >25</text>
<text x="74.25" y="467.3" font-size="8.3" text-anchor="middle" fill="#111" >30</text>
<text x="94.75" y="467.3" font-size="8.3" text-anchor="middle" fill="#111" >35</text>
<text x="115.25" y="467.3" font-size="8.3" text-anchor="middle" fill="#111" >40</text>
<text x="135.75" y="467.3" font-size="8.3" text-anchor="middle" fill="#111" >45</text>
<text x="156.25" y="467.3" font-size="8.3" text-anchor="middle" fill="#111" >50</text>
<text x="176.75" y="467.3" font-size="8.3" text-anchor="middle" fill="#111" >55</text>
<text x="192.5" y="467.3" font-size="8.3" text-anchor="middle" fill="#111" >44</text>
<text x="218" y="467.3" font-size="8.3" text-anchor="middle" fill="#111" >45</text>
<text x="243.5" y="467.3" font-size="8.3" text-anchor="middle" fill="#111" >46</text>
<text x="115" y="481.3" font-size="8.8" text-anchor="middle" fill="#111" >2θ (°)</text>
<text x="223.6" y="481.3" font-size="8.8" text-anchor="middle" fill="#111" >2θ (°)</text>
<text x="16.3" y="248.6" font-size="17" text-anchor="start" fill="#111" >(c)</text>
<text x="46.3" y="251.9" font-size="8.6" text-anchor="start" fill="#111" >8.90μm-Slowly cooled</text>
<text x="46.3" y="362.2" font-size="8.6" text-anchor="start" fill="#111" >0.80μm-Slowly cooled</text>
<text x="53.4" y="294.3" font-size="8.8" text-anchor="start" fill="#111" font-family="Liberation Sans, Arial, sans-serif" font-weight="bold">α<tspan font-size="5.5" dy="2">i</tspan><tspan dy="-2">=20°</tspan></text>
<text x="53.4" y="309.2" font-size="8.8" text-anchor="start" fill="#111" font-family="Liberation Sans, Arial, sans-serif" font-weight="bold">α<tspan font-size="5.5" dy="2">i</tspan><tspan dy="-2">=10°</tspan></text>
<text x="53.4" y="324.8" font-size="8.8" text-anchor="start" fill="#111" font-family="Liberation Sans, Arial, sans-serif" font-weight="bold">α<tspan font-size="5.5" dy="2">i</tspan><tspan dy="-2">=5°</tspan></text>
<text x="53.4" y="341.6" font-size="8.8" text-anchor="start" fill="#111" font-family="Liberation Sans, Arial, sans-serif" font-weight="bold">α<tspan font-size="5.5" dy="2">i</tspan><tspan dy="-2">=2°</tspan></text>
<text x="53.4" y="402.5" font-size="8.8" text-anchor="start" fill="#111" font-family="Liberation Sans, Arial, sans-serif" font-weight="bold">α<tspan font-size="5.5" dy="2">i</tspan><tspan dy="-2">=20°</tspan></text>
<text x="53.4" y="418.1" font-size="8.8" text-anchor="start" fill="#111" font-family="Liberation Sans, Arial, sans-serif" font-weight="bold">α<tspan font-size="5.5" dy="2">i</tspan><tspan dy="-2">=10°</tspan></text>
<text x="53.4" y="433.7" font-size="8.8" text-anchor="start" fill="#111" font-family="Liberation Sans, Arial, sans-serif" font-weight="bold">α<tspan font-size="5.5" dy="2">i</tspan><tspan dy="-2">=5°</tspan></text>
<text x="53.4" y="448.5" font-size="8.8" text-anchor="start" fill="#111" font-family="Liberation Sans, Arial, sans-serif" font-weight="bold">α<tspan font-size="5.5" dy="2">i</tspan><tspan dy="-2">=2°</tspan></text>
<text x="0" y="0" font-size="8.65" text-anchor="middle" fill="#111" transform="translate(31.9,292) rotate(-90)">Intensity(a.u.)</text>
<text x="0" y="0" font-size="8.65" text-anchor="middle" fill="#111" transform="translate(31.9,400.6) rotate(-90)">Intensity(a.u.)</text>
<text x="0" y="0" font-size="7.5" text-anchor="middle" fill="#111" transform="translate(77.29,270.3) rotate(-90)">(101)</text>
<text x="0" y="0" font-size="7.5" text-anchor="middle" fill="#111" transform="translate(88.84,269.7) rotate(-90)">(110)</text>
<text x="0" y="0" font-size="7.5" text-anchor="middle" fill="#111" transform="translate(106.99,273.4) rotate(-90)">(111)</text>
<text x="0" y="0" font-size="7.5" text-anchor="middle" fill="#111" transform="translate(131.99,278) rotate(-90)">(002)</text>
<text x="0" y="0" font-size="7.5" text-anchor="middle" fill="#111" transform="translate(142.04,269) rotate(-90)">(200)</text>
<text x="0" y="0" font-size="7.5" text-anchor="middle" fill="#111" transform="translate(158.44,280.9) rotate(-90)">(201)</text>
<text x="0" y="0" font-size="7.5" text-anchor="middle" fill="#111" transform="translate(167.14,281.2) rotate(-90)">(210)</text>
<text x="211.7" y="285.8" font-size="8.6" text-anchor="middle" fill="#111" >(002)</text>
<text x="233" y="275.7" font-size="8.6" text-anchor="middle" fill="#111" >(200)</text>
<rect x="317.3" y="261.1" width="196.90000000000003" height="156.5" fill="#fff" stroke="#444" stroke-width="1"/>
<line x1="317.5" y1="417.6" x2="317.5" y2="414.6" stroke="#444" stroke-width="0.9" />
<text x="317.5" y="427.6" font-size="8.4" text-anchor="middle" fill="#111" >0.0</text>
<line x1="328.95" y1="417.6" x2="328.95" y2="416" stroke="#444" stroke-width="0.9" />
<line x1="340.4" y1="417.6" x2="340.4" y2="414.6" stroke="#444" stroke-width="0.9" />
<text x="340.4" y="427.6" font-size="8.4" text-anchor="middle" fill="#111" >0.2</text>
<line x1="351.85" y1="417.6" x2="351.85" y2="416" stroke="#444" stroke-width="0.9" />
<line x1="363.3" y1="417.6" x2="363.3" y2="414.6" stroke="#444" stroke-width="0.9" />
<text x="363.3" y="427.6" font-size="8.4" text-anchor="middle" fill="#111" >0.4</text>
<line x1="374.75" y1="417.6" x2="374.75" y2="416" stroke="#444" stroke-width="0.9" />
<line x1="386.2" y1="417.6" x2="386.2" y2="414.6" stroke="#444" stroke-width="0.9" />
<text x="386.2" y="427.6" font-size="8.4" text-anchor="middle" fill="#111" >0.6</text>
<line x1="397.65" y1="417.6" x2="397.65" y2="416" stroke="#444" stroke-width="0.9" />
<line x1="409.1" y1="417.6" x2="409.1" y2="414.6" stroke="#444" stroke-width="0.9" />
<text x="409.1" y="427.6" font-size="8.4" text-anchor="middle" fill="#111" >0.8</text>
<line x1="420.55" y1="417.6" x2="420.55" y2="416" stroke="#444" stroke-width="0.9" />
<line x1="432" y1="417.6" x2="432" y2="414.6" stroke="#444" stroke-width="0.9" />
<text x="432" y="427.6" font-size="8.4" text-anchor="middle" fill="#111" >1.0</text>
<line x1="443.45" y1="417.6" x2="443.45" y2="416" stroke="#444" stroke-width="0.9" />
<line x1="454.9" y1="417.6" x2="454.9" y2="414.6" stroke="#444" stroke-width="0.9" />
<text x="454.9" y="427.6" font-size="8.4" text-anchor="middle" fill="#111" >1.2</text>
<line x1="466.35" y1="417.6" x2="466.35" y2="416" stroke="#444" stroke-width="0.9" />
<line x1="477.8" y1="417.6" x2="477.8" y2="414.6" stroke="#444" stroke-width="0.9" />
<text x="477.8" y="427.6" font-size="8.4" text-anchor="middle" fill="#111" >1.4</text>
<line x1="489.25" y1="417.6" x2="489.25" y2="416" stroke="#444" stroke-width="0.9" />
<line x1="500.7" y1="417.6" x2="500.7" y2="414.6" stroke="#444" stroke-width="0.9" />
<text x="500.7" y="427.6" font-size="8.4" text-anchor="middle" fill="#111" >1.6</text>
<line x1="317.3" y1="402.5" x2="320.3" y2="402.5" stroke="#444" stroke-width="0.9" />
<text x="313.9" y="404.8" font-size="8.8" text-anchor="end" fill="#111" >0.30</text>
<line x1="317.3" y1="386.75" x2="318.9" y2="386.75" stroke="#444" stroke-width="0.9" />
<line x1="317.3" y1="371" x2="320.3" y2="371" stroke="#444" stroke-width="0.9" />
<text x="313.9" y="373.3" font-size="8.8" text-anchor="end" fill="#111" >0.35</text>
<line x1="317.3" y1="355.25" x2="318.9" y2="355.25" stroke="#444" stroke-width="0.9" />
<line x1="317.3" y1="339.5" x2="320.3" y2="339.5" stroke="#444" stroke-width="0.9" />
<text x="313.9" y="341.8" font-size="8.8" text-anchor="end" fill="#111" >0.40</text>
<line x1="317.3" y1="323.75" x2="318.9" y2="323.75" stroke="#444" stroke-width="0.9" />
<line x1="317.3" y1="308" x2="320.3" y2="308" stroke="#444" stroke-width="0.9" />
<text x="313.9" y="310.3" font-size="8.8" text-anchor="end" fill="#111" >0.45</text>
<line x1="317.3" y1="292.25" x2="318.9" y2="292.25" stroke="#444" stroke-width="0.9" />
<line x1="317.3" y1="276.5" x2="320.3" y2="276.5" stroke="#444" stroke-width="0.9" />
<text x="313.9" y="278.8" font-size="8.8" text-anchor="end" fill="#111" >0.50</text>
<text x="0" y="0" font-size="9.85" text-anchor="middle" fill="#111" transform="translate(292.4,338.6) rotate(-90)">Inhomogeneous strain (%)</text>
<text x="415.2" y="444.6" font-size="9.66" text-anchor="middle" fill="#111" >Penetration depth (μm)</text>
<text x="264.1" y="248.2" font-size="17" text-anchor="start" fill="#111" >(d)</text>
<polyline points="334.68,331.94 335.25,332.66 335.82,333.37 336.39,334.07 336.96,334.76 337.54,335.44 338.11,336.11 338.68,336.77 339.25,337.43 339.83,338.07 340.4,338.71 340.97,339.34 341.55,339.96 342.12,340.57 342.69,341.17 343.26,341.77 343.83,342.35 344.41,342.93 344.98,343.5 345.55,344.07 346.12,344.62 346.7,345.17 347.27,345.71 347.84,346.25 348.42,346.77 348.99,347.29 349.56,347.8 350.13,348.31 350.7,348.81 351.28,349.3 351.85,349.79 352.42,350.27 353,350.74 353.57,351.21 354.14,351.67 354.71,352.12 355.28,352.57 355.86,353.01 356.43,353.45 357,353.88 357.57,354.3 358.15,354.72 358.72,355.13 359.29,355.54 359.87,355.94 360.44,356.34 361.01,356.73 361.58,357.12 362.15,357.5 362.73,357.87 363.3,358.24 363.87,358.61 364.44,358.97 365.02,359.33 365.59,359.68 366.16,360.02 366.74,360.37 367.31,360.7 367.88,361.04 368.45,361.36 369.02,361.69 369.6,362.01 370.17,362.32 370.74,362.63 371.31,362.94 371.89,363.24 372.46,363.54 373.03,363.84 373.61,364.13 374.18,364.41 374.75,364.7 375.32,364.97 375.89,365.25 376.47,365.52 377.04,365.79 377.61,366.05 378.19,366.32 378.76,366.57 379.33,366.83 379.9,367.08 380.48,367.32 381.05,367.57 381.62,367.81 382.19,368.05 382.76,368.28 383.34,368.51 383.91,368.74 384.48,368.96 385.06,369.19 385.63,369.4 386.2,369.62 386.77,369.83 387.35,370.04 387.92,370.25 388.49,370.46 389.06,370.66 389.63,370.86 390.21,371.05 390.78,371.25 391.35,371.44 391.93,371.63 392.5,371.81 393.07,372 393.64,372.18 394.22,372.36 394.79,372.53 395.36,372.71 395.93,372.88 396.5,373.05 397.08,373.21 397.65,373.38 398.22,373.54 398.8,373.7 399.37,373.86 399.94,374.02 400.51,374.17 401.08,374.32 401.66,374.47 402.23,374.62 402.8,374.77 403.38,374.91 403.95,375.05 404.52,375.19 405.09,375.33 405.67,375.47 406.24,375.6 406.81,375.73 407.38,375.86 407.95,375.99 408.53,376.12 409.1,376.25 409.67,376.37 410.25,376.49 410.82,376.61 411.39,376.73 411.96,376.85 412.54,376.97 413.11,377.08 413.68,377.19 414.25,377.31 414.83,377.42 415.4,377.52 415.97,377.63 416.54,377.74 417.12,377.84 417.69,377.94 418.26,378.04 418.83,378.14 419.4,378.24 419.98,378.34 420.55,378.44 421.12,378.53 421.69,378.62 422.27,378.72 422.84,378.81 423.41,378.9 423.99,378.99 424.56,379.07 425.13,379.16 425.7,379.24 426.27,379.33 426.85,379.41 427.42,379.49 427.99,379.57 428.56,379.65 429.14,379.73 429.71,379.81 430.28,379.88 430.86,379.96 431.43,380.03 432,380.11 432.57,380.18 433.14,380.25 433.72,380.32 434.29,380.39 434.86,380.46 435.44,380.53 436.01,380.59 436.58,380.66 437.15,380.72 437.73,380.79 438.3,380.85 438.87,380.91 439.44,380.97 440.01,381.03 440.59,381.09 441.16,381.15 441.73,381.21 442.31,381.27 442.88,381.33 443.45,381.38 444.02,381.44 444.59,381.49 445.17,381.54 445.74,381.6 446.31,381.65 446.88,381.7 447.46,381.75 448.03,381.8 448.6,381.85 449.17,381.9 449.75,381.95 450.32,382 450.89,382.04 451.47,382.09 452.04,382.14 452.61,382.18 453.18,382.22 453.75,382.27 454.33,382.31 454.9,382.35 455.47,382.4 456.04,382.44 456.62,382.48 457.19,382.52 457.76,382.56 458.34,382.6 458.91,382.64 459.48,382.68 460.05,382.71 460.62,382.75 461.2,382.79 461.77,382.82 462.34,382.86 462.91,382.89 463.49,382.93 464.06,382.96 464.63,383 465.21,383.03 465.78,383.06 466.35,383.1 466.92,383.13 467.5,383.16 468.07,383.19 468.64,383.22 469.21,383.25 469.78,383.28 470.36,383.31 470.93,383.34 471.5,383.37 472.07,383.4 472.65,383.43 473.22,383.46 473.79,383.48 474.37,383.51 474.94,383.54 475.51,383.56 476.08,383.59 476.65,383.61 477.23,383.64 477.8,383.66 478.37,383.69 478.94,383.71 479.52,383.74 480.09,383.76 480.66,383.78 481.24,383.81 481.81,383.83 482.38,383.85 482.95,383.87 483.52,383.89 484.1,383.92 484.67,383.94 485.24,383.96 485.81,383.98 486.39,384 486.96,384.02 487.53,384.04 488.11,384.06 488.68,384.08 489.25,384.1" fill="none" stroke="#f2b33a" stroke-width="1.1" stroke-linejoin="round"/>
<polyline points="334.68,331.31 335.25,333.33 335.82,335.27 336.39,337.15 336.96,338.96 337.54,340.71 338.11,342.39 338.68,344.01 339.25,345.58 339.83,347.09 340.4,348.54 340.97,349.95 341.55,351.3 342.12,352.61 342.69,353.87 343.26,355.08 343.83,356.25 344.41,357.38 344.98,358.47 345.55,359.53 346.12,360.54 346.7,361.52 347.27,362.46 347.84,363.37 348.42,364.25 348.99,365.09 349.56,365.91 350.13,366.69 350.7,367.45 351.28,368.18 351.85,368.89 352.42,369.57 353,370.23 353.57,370.86 354.14,371.47 354.71,372.06 355.28,372.62 355.86,373.17 356.43,373.7 357,374.21 357.57,374.7 358.15,375.17 358.72,375.63 359.29,376.07 359.87,376.5 360.44,376.91 361.01,377.3 361.58,377.68 362.15,378.05 362.73,378.4 363.3,378.75 363.87,379.08 364.44,379.39 365.02,379.7 365.59,380 366.16,380.28 366.74,380.56 367.31,380.82 367.88,381.08 368.45,381.32 369.02,381.56 369.6,381.79 370.17,382.01 370.74,382.23 371.31,382.43 371.89,382.63 372.46,382.82 373.03,383.01 373.61,383.18 374.18,383.36 374.75,383.52 375.32,383.68 375.89,383.84 376.47,383.98 377.04,384.13 377.61,384.27 378.19,384.4 378.76,384.53 379.33,384.65 379.9,384.77 380.48,384.89 381.05,385 381.62,385.1 382.19,385.21 382.76,385.31 383.34,385.4 383.91,385.5 384.48,385.59 385.06,385.67 385.63,385.76 386.2,385.84 386.77,385.91 387.35,385.99 387.92,386.06 388.49,386.13 389.06,386.2 389.63,386.26 390.21,386.32 390.78,386.38 391.35,386.44 391.93,386.5 392.5,386.55 393.07,386.6 393.64,386.65 394.22,386.7 394.79,386.75 395.36,386.79 395.93,386.84 396.5,386.88 397.08,386.92 397.65,386.96 398.22,386.99 398.8,387.03 399.37,387.06 399.94,387.1 400.51,387.13 401.08,387.16 401.66,387.19 402.23,387.22 402.8,387.25 403.38,387.28 403.95,387.3 404.52,387.33 405.09,387.35 405.67,387.38 406.24,387.4 406.81,387.42 407.38,387.44 407.95,387.46 408.53,387.48 409.1,387.5 409.67,387.52 410.25,387.54 410.82,387.55 411.39,387.57 411.96,387.58 412.54,387.6 413.11,387.61 413.68,387.63 414.25,387.64 414.83,387.65 415.4,387.67 415.97,387.68 416.54,387.69 417.12,387.7 417.69,387.71 418.26,387.72 418.83,387.73 419.4,387.74 419.98,387.75 420.55,387.76 421.12,387.77 421.69,387.78 422.27,387.79 422.84,387.8 423.41,387.8 423.99,387.81 424.56,387.82 425.13,387.82 425.7,387.83 426.27,387.84 426.85,387.84 427.42,387.85 427.99,387.86 428.56,387.86 429.14,387.87 429.71,387.87 430.28,387.88 430.86,387.88 431.43,387.89 432,387.89 432.57,387.89 433.14,387.9 433.72,387.9 434.29,387.91 434.86,387.91 435.44,387.91 436.01,387.92 436.58,387.92 437.15,387.92 437.73,387.93 438.3,387.93 438.87,387.93 439.44,387.94 440.01,387.94 440.59,387.94 441.16,387.94 441.73,387.95 442.31,387.95 442.88,387.95 443.45,387.95 444.02,387.95 444.59,387.96 445.17,387.96 445.74,387.96 446.31,387.96 446.88,387.96 447.46,387.96 448.03,387.97 448.6,387.97 449.17,387.97 449.75,387.97 450.32,387.97 450.89,387.97 451.47,387.98 452.04,387.98 452.61,387.98 453.18,387.98 453.75,387.98 454.33,387.98 454.9,387.98 455.47,387.98 456.04,387.98 456.62,387.98 457.19,387.99 457.76,387.99 458.34,387.99 458.91,387.99 459.48,387.99 460.05,387.99 460.62,387.99 461.2,387.99 461.77,387.99 462.34,387.99 462.91,387.99 463.49,387.99 464.06,387.99 464.63,387.99 465.21,388 465.78,388 466.35,388 466.92,388 467.5,388 468.07,388 468.64,388 469.21,388 469.78,388 470.36,388 470.93,388 471.5,388 472.07,388 472.65,388 473.22,388 473.79,388 474.37,388 474.94,388 475.51,388 476.08,388 476.65,388 477.23,388 477.8,388 478.37,388 478.94,388 479.52,388 480.09,388 480.66,388 481.24,388 481.81,388 482.38,388.01 482.95,388.01 483.52,388.01 484.1,388.01 484.67,388.01 485.24,388.01 485.81,388.01 486.39,388.01 486.96,388.01 487.53,388.01 488.11,388.01 488.68,388.01 489.25,388.01" fill="none" stroke="#f5873a" stroke-width="1.1" stroke-linejoin="round"/>
<polyline points="334.68,298.55 335.25,301.56 335.82,304.47 336.39,307.29 336.96,310.01 337.54,312.64 338.11,315.18 338.68,317.64 339.25,320.01 339.83,322.31 340.4,324.53 340.97,326.67 341.55,328.74 342.12,330.74 342.69,332.68 343.26,334.55 343.83,336.36 344.41,338.11 344.98,339.8 345.55,341.43 346.12,343.01 346.7,344.54 347.27,346.01 347.84,347.44 348.42,348.82 348.99,350.15 349.56,351.43 350.13,352.68 350.7,353.88 351.28,355.04 351.85,356.17 352.42,357.25 353,358.3 353.57,359.32 354.14,360.3 354.71,361.25 355.28,362.16 355.86,363.05 356.43,363.9 357,364.73 357.57,365.53 358.15,366.3 358.72,367.05 359.29,367.77 359.87,368.47 360.44,369.14 361.01,369.8 361.58,370.43 362.15,371.04 362.73,371.62 363.3,372.19 363.87,372.74 364.44,373.27 365.02,373.79 365.59,374.29 366.16,374.77 366.74,375.23 367.31,375.68 367.88,376.11 368.45,376.53 369.02,376.94 369.6,377.33 370.17,377.71 370.74,378.07 371.31,378.42 371.89,378.77 372.46,379.1 373.03,379.42 373.61,379.72 374.18,380.02 374.75,380.31 375.32,380.59 375.89,380.86 376.47,381.12 377.04,381.37 377.61,381.61 378.19,381.85 378.76,382.07 379.33,382.29 379.9,382.51 380.48,382.71 381.05,382.91 381.62,383.1 382.19,383.29 382.76,383.47 383.34,383.64 383.91,383.81 384.48,383.97 385.06,384.12 385.63,384.28 386.2,384.42 386.77,384.56 387.35,384.7 387.92,384.83 388.49,384.96 389.06,385.08 389.63,385.2 390.21,385.31 390.78,385.43 391.35,385.53 391.93,385.64 392.5,385.74 393.07,385.83 393.64,385.93 394.22,386.02 394.79,386.11 395.36,386.19 395.93,386.27 396.5,386.35 397.08,386.43 397.65,386.5 398.22,386.57 398.8,386.64 399.37,386.71 399.94,386.78 400.51,386.84 401.08,386.9 401.66,386.96 402.23,387.01 402.8,387.07 403.38,387.12 403.95,387.17 404.52,387.22 405.09,387.27 405.67,387.31 406.24,387.36 406.81,387.4 407.38,387.44 407.95,387.48 408.53,387.52 409.1,387.56 409.67,387.59 410.25,387.63 410.82,387.66 411.39,387.7 411.96,387.73 412.54,387.76 413.11,387.79 413.68,387.82 414.25,387.84 414.83,387.87 415.4,387.9 415.97,387.92 416.54,387.94 417.12,387.97 417.69,387.99 418.26,388.01 418.83,388.03 419.4,388.05 419.98,388.07 420.55,388.09 421.12,388.11 421.69,388.13 422.27,388.15 422.84,388.16 423.41,388.18 423.99,388.19 424.56,388.21 425.13,388.22 425.7,388.24 426.27,388.25 426.85,388.26 427.42,388.28 427.99,388.29 428.56,388.3 429.14,388.31 429.71,388.32 430.28,388.33 430.86,388.34 431.43,388.35 432,388.36 432.57,388.37 433.14,388.38 433.72,388.39 434.29,388.4 434.86,388.41 435.44,388.41 436.01,388.42 436.58,388.43 437.15,388.44 437.73,388.44 438.3,388.45 438.87,388.46 439.44,388.46 440.01,388.47 440.59,388.47 441.16,388.48 441.73,388.48 442.31,388.49 442.88,388.49 443.45,388.5 444.02,388.5 444.59,388.51 445.17,388.51 445.74,388.52 446.31,388.52 446.88,388.53 447.46,388.53 448.03,388.53 448.6,388.54 449.17,388.54 449.75,388.54 450.32,388.55 450.89,388.55 451.47,388.55 452.04,388.56 452.61,388.56 453.18,388.56 453.75,388.56 454.33,388.57 454.9,388.57 455.47,388.57 456.04,388.57 456.62,388.58 457.19,388.58 457.76,388.58 458.34,388.58 458.91,388.58 459.48,388.59 460.05,388.59 460.62,388.59 461.2,388.59 461.77,388.59 462.34,388.59 462.91,388.6 463.49,388.6 464.06,388.6 464.63,388.6 465.21,388.6 465.78,388.6 466.35,388.6 466.92,388.61 467.5,388.61 468.07,388.61 468.64,388.61 469.21,388.61 469.78,388.61 470.36,388.61 470.93,388.61 471.5,388.61 472.07,388.61 472.65,388.62 473.22,388.62 473.79,388.62 474.37,388.62 474.94,388.62 475.51,388.62 476.08,388.62 476.65,388.62 477.23,388.62 477.8,388.62 478.37,388.62 478.94,388.62 479.52,388.62 480.09,388.62 480.66,388.62 481.24,388.63 481.81,388.63 482.38,388.63 482.95,388.63 483.52,388.63 484.1,388.63 484.67,388.63 485.24,388.63 485.81,388.63 486.39,388.63 486.96,388.63 487.53,388.63 488.11,388.63 488.68,388.63 489.25,388.63" fill="none" stroke="#1b2233" stroke-width="1.1" stroke-linejoin="round"/>
<polyline points="334.68,283.43 335.25,289.36 335.82,294.98 336.39,300.31 336.96,305.37 337.54,310.16 338.11,314.7 338.68,319 339.25,323.09 339.83,326.95 340.4,330.62 340.97,334.1 341.55,337.39 342.12,340.52 342.69,343.48 343.26,346.29 343.83,348.95 344.41,351.47 344.98,353.87 345.55,356.13 346.12,358.28 346.7,360.32 347.27,362.25 347.84,364.08 348.42,365.82 348.99,367.47 349.56,369.03 350.13,370.51 350.7,371.91 351.28,373.24 351.85,374.5 352.42,375.69 353,376.82 353.57,377.9 354.14,378.91 354.71,379.88 355.28,380.79 355.86,381.66 356.43,382.48 357,383.26 357.57,384 358.15,384.7 358.72,385.36 359.29,385.99 359.87,386.59 360.44,387.16 361.01,387.69 361.58,388.2 362.15,388.68 362.73,389.14 363.3,389.57 363.87,389.98 364.44,390.37 365.02,390.74 365.59,391.09 366.16,391.42 366.74,391.73 367.31,392.03 367.88,392.31 368.45,392.58 369.02,392.84 369.6,393.08 370.17,393.3 370.74,393.52 371.31,393.73 371.89,393.92 372.46,394.1 373.03,394.28 373.61,394.44 374.18,394.6 374.75,394.75 375.32,394.89 375.89,395.02 376.47,395.15 377.04,395.27 377.61,395.38 378.19,395.49 378.76,395.6 379.33,395.69 379.9,395.78 380.48,395.87 381.05,395.95 381.62,396.03 382.19,396.11 382.76,396.18 383.34,396.24 383.91,396.31 384.48,396.37 385.06,396.42 385.63,396.48 386.2,396.53 386.77,396.58 387.35,396.62 387.92,396.67 388.49,396.71 389.06,396.75 389.63,396.78 390.21,396.82 390.78,396.85 391.35,396.88 391.93,396.91 392.5,396.94 393.07,396.97 393.64,396.99 394.22,397.02 394.79,397.04 395.36,397.06 395.93,397.08 396.5,397.1 397.08,397.12 397.65,397.14 398.22,397.16 398.8,397.17 399.37,397.19 399.94,397.2 400.51,397.22 401.08,397.23 401.66,397.24 402.23,397.25 402.8,397.26 403.38,397.27 403.95,397.28 404.52,397.29 405.09,397.3 405.67,397.31 406.24,397.32 406.81,397.32 407.38,397.33 407.95,397.34 408.53,397.34 409.1,397.35 409.67,397.36 410.25,397.36 410.82,397.37 411.39,397.37 411.96,397.38 412.54,397.38 413.11,397.38 413.68,397.39 414.25,397.39 414.83,397.4 415.4,397.4 415.97,397.4 416.54,397.41 417.12,397.41 417.69,397.41 418.26,397.41 418.83,397.42 419.4,397.42 419.98,397.42 420.55,397.42 421.12,397.42 421.69,397.43 422.27,397.43 422.84,397.43 423.41,397.43 423.99,397.43 424.56,397.43 425.13,397.44 425.7,397.44 426.27,397.44 426.85,397.44 427.42,397.44 427.99,397.44 428.56,397.44 429.14,397.44 429.71,397.44 430.28,397.44 430.86,397.45 431.43,397.45 432,397.45 432.57,397.45 433.14,397.45 433.72,397.45 434.29,397.45 434.86,397.45 435.44,397.45 436.01,397.45 436.58,397.45 437.15,397.45 437.73,397.45 438.3,397.45 438.87,397.45 439.44,397.45 440.01,397.45 440.59,397.45 441.16,397.45 441.73,397.45 442.31,397.46 442.88,397.46 443.45,397.46 444.02,397.46 444.59,397.46 445.17,397.46 445.74,397.46 446.31,397.46 446.88,397.46 447.46,397.46 448.03,397.46 448.6,397.46 449.17,397.46 449.75,397.46 450.32,397.46 450.89,397.46 451.47,397.46 452.04,397.46 452.61,397.46 453.18,397.46 453.75,397.46 454.33,397.46 454.9,397.46 455.47,397.46 456.04,397.46 456.62,397.46 457.19,397.46 457.76,397.46 458.34,397.46 458.91,397.46 459.48,397.46 460.05,397.46 460.62,397.46 461.2,397.46 461.77,397.46 462.34,397.46 462.91,397.46 463.49,397.46 464.06,397.46 464.63,397.46 465.21,397.46 465.78,397.46 466.35,397.46 466.92,397.46 467.5,397.46 468.07,397.46 468.64,397.46 469.21,397.46 469.78,397.46 470.36,397.46 470.93,397.46 471.5,397.46 472.07,397.46 472.65,397.46 473.22,397.46 473.79,397.46 474.37,397.46 474.94,397.46 475.51,397.46 476.08,397.46 476.65,397.46 477.23,397.46 477.8,397.46 478.37,397.46 478.94,397.46 479.52,397.46 480.09,397.46 480.66,397.46 481.24,397.46 481.81,397.46 482.38,397.46 482.95,397.46 483.52,397.46 484.1,397.46 484.67,397.46 485.24,397.46 485.81,397.46 486.39,397.46 486.96,397.46 487.53,397.46 488.11,397.46 488.68,397.46 489.25,397.46" fill="none" stroke="#2ea3c8" stroke-width="1.1" stroke-linejoin="round"/>
<polygon points="334.68,335.17 337.15,330.75 332.2,330.75" fill="#f2b33a" stroke="none" stroke-width="0" />
<polygon points="361.58,354.7 364.05,350.28 359.11,350.28" fill="#f2b33a" stroke="none" stroke-width="0" />
<polygon points="405.67,389.35 408.14,384.93 403.19,384.93" fill="#f2b33a" stroke="none" stroke-width="0" />
<polygon points="489.25,384.31 491.72,379.89 486.78,379.89" fill="#f2b33a" stroke="none" stroke-width="0" />
<polygon points="334.68,326.5 337.15,330.93 332.2,330.93" fill="#f5873a" stroke="none" stroke-width="0" />
<polygon points="361.58,374.7 364.05,379.12 359.11,379.12" fill="#f5873a" stroke="none" stroke-width="0" />
<polygon points="405.67,383.52 408.14,387.94 403.19,387.94" fill="#f5873a" stroke="none" stroke-width="0" />
<polygon points="489.25,384.15 491.72,388.57 486.78,388.57" fill="#f5873a" stroke="none" stroke-width="0" />
<polygon points="334.68,296.05 337.18,298.55 334.68,301.05 332.18,298.55" fill="#1b2233" stroke="none" stroke-width="0" />
<polygon points="361.58,366.93 364.08,369.43 361.58,371.93 359.08,369.43" fill="#1b2233" stroke="none" stroke-width="0" />
<polygon points="405.67,380.47 408.17,382.97 405.67,385.47 403.17,382.97" fill="#1b2233" stroke="none" stroke-width="0" />
<polygon points="489.25,388.66 491.75,391.16 489.25,393.66 486.75,391.16" fill="#1b2233" stroke="none" stroke-width="0" />
<circle cx="334.68" cy="282.93" r="2.0" fill="#2ea3c8"/>
<circle cx="361.58" cy="387.69" r="2.0" fill="#2ea3c8"/>
<circle cx="405.67" cy="392.67" r="2.0" fill="#2ea3c8"/>
<circle cx="489.25" cy="401.24" r="2.0" fill="#2ea3c8"/>
<line x1="377.2" y1="290.4" x2="397.8" y2="290.4" stroke="#4a505a" stroke-width="1.2" />
<text x="400" y="293.6" font-size="9.0" text-anchor="start" fill="#111" >8.90μm-abraded</text>
<line x1="377.2" y1="301.9" x2="397.8" y2="301.9" stroke="#72afc8" stroke-width="1.2" />
<text x="400" y="305.1" font-size="9.0" text-anchor="start" fill="#111" >8.90μm-slowly cooled</text>
<line x1="377.2" y1="313.1" x2="397.8" y2="313.1" stroke="#f2a272" stroke-width="1.2" />
<text x="400" y="316.3" font-size="9.0" text-anchor="start" fill="#111" >0.80μm-abraded</text>
<line x1="377.2" y1="324.5" x2="397.8" y2="324.5" stroke="#e8d474" stroke-width="1.2" />
<text x="400" y="327.7" font-size="9.0" text-anchor="start" fill="#111" >0.80μm-slowly cooled</text>
<rect x="179.4" y="494.4" width="214.79999999999998" height="171.39999999999998" fill="#fff" stroke="#444" stroke-width="1"/>
<line x1="179.4" y1="665.8" x2="179.4" y2="662.8" stroke="#444" stroke-width="0.9" />
<line x1="198.9" y1="665.8" x2="198.9" y2="664.2" stroke="#444" stroke-width="0.9" />
<line x1="218.4" y1="665.8" x2="218.4" y2="662.8" stroke="#444" stroke-width="0.9" />
<line x1="237.9" y1="665.8" x2="237.9" y2="664.2" stroke="#444" stroke-width="0.9" />
<line x1="257.4" y1="665.8" x2="257.4" y2="662.8" stroke="#444" stroke-width="0.9" />
<line x1="276.9" y1="665.8" x2="276.9" y2="664.2" stroke="#444" stroke-width="0.9" />
<line x1="296.4" y1="665.8" x2="296.4" y2="662.8" stroke="#444" stroke-width="0.9" />
<line x1="315.9" y1="665.8" x2="315.9" y2="664.2" stroke="#444" stroke-width="0.9" />
<line x1="335.4" y1="665.8" x2="335.4" y2="662.8" stroke="#444" stroke-width="0.9" />
<line x1="354.9" y1="665.8" x2="354.9" y2="664.2" stroke="#444" stroke-width="0.9" />
<line x1="374.4" y1="665.8" x2="374.4" y2="662.8" stroke="#444" stroke-width="0.9" />
<line x1="179.4" y1="665.7" x2="182.4" y2="665.7" stroke="#444" stroke-width="0.9" />
<text x="175.2" y="669" font-size="9.4" text-anchor="end" fill="#111" >0</text>
<line x1="179.4" y1="654.26" x2="181" y2="654.26" stroke="#444" stroke-width="0.9" />
<line x1="179.4" y1="642.82" x2="182.4" y2="642.82" stroke="#444" stroke-width="0.9" />
<text x="175.2" y="646.12" font-size="9.4" text-anchor="end" fill="#111" >50</text>
<line x1="179.4" y1="631.37" x2="181" y2="631.37" stroke="#444" stroke-width="0.9" />
<line x1="179.4" y1="619.93" x2="182.4" y2="619.93" stroke="#444" stroke-width="0.9" />
<text x="175.2" y="623.23" font-size="9.4" text-anchor="end" fill="#111" >100</text>
<line x1="179.4" y1="608.49" x2="181" y2="608.49" stroke="#444" stroke-width="0.9" />
<line x1="179.4" y1="597.05" x2="182.4" y2="597.05" stroke="#444" stroke-width="0.9" />
<text x="175.2" y="600.35" font-size="9.4" text-anchor="end" fill="#111" >150</text>
<line x1="179.4" y1="585.6" x2="181" y2="585.6" stroke="#444" stroke-width="0.9" />
<line x1="179.4" y1="574.16" x2="182.4" y2="574.16" stroke="#444" stroke-width="0.9" />
<text x="175.2" y="577.46" font-size="9.4" text-anchor="end" fill="#111" >200</text>
<line x1="179.4" y1="562.72" x2="181" y2="562.72" stroke="#444" stroke-width="0.9" />
<line x1="179.4" y1="551.28" x2="182.4" y2="551.28" stroke="#444" stroke-width="0.9" />
<text x="175.2" y="554.58" font-size="9.4" text-anchor="end" fill="#111" >250</text>
<line x1="179.4" y1="539.83" x2="181" y2="539.83" stroke="#444" stroke-width="0.9" />
<line x1="179.4" y1="528.39" x2="182.4" y2="528.39" stroke="#444" stroke-width="0.9" />
<text x="175.2" y="531.69" font-size="9.4" text-anchor="end" fill="#111" >300</text>
<line x1="179.4" y1="516.95" x2="181" y2="516.95" stroke="#444" stroke-width="0.9" />
<line x1="179.4" y1="505.51" x2="182.4" y2="505.51" stroke="#444" stroke-width="0.9" />
<text x="175.2" y="508.81" font-size="9.4" text-anchor="end" fill="#111" >350</text>
<text x="179.4" y="676.7" font-size="9.4" text-anchor="middle" fill="#111" >0</text>
<text x="217.8" y="676.7" font-size="9.4" text-anchor="middle" fill="#111" font-family="Liberation Sans, Arial, sans-serif" font-weight="bold">1x10<tspan font-size="6" dy="-3.5">6</tspan></text>
<text x="256.8" y="676.7" font-size="9.4" text-anchor="middle" fill="#111" font-family="Liberation Sans, Arial, sans-serif" font-weight="bold">2x10<tspan font-size="6" dy="-3.5">6</tspan></text>
<text x="295.8" y="676.7" font-size="9.4" text-anchor="middle" fill="#111" font-family="Liberation Sans, Arial, sans-serif" font-weight="bold">3x10<tspan font-size="6" dy="-3.5">6</tspan></text>
<text x="334.8" y="676.7" font-size="9.4" text-anchor="middle" fill="#111" font-family="Liberation Sans, Arial, sans-serif" font-weight="bold">4x10<tspan font-size="6" dy="-3.5">6</tspan></text>
<text x="373.8" y="676.7" font-size="9.4" text-anchor="middle" fill="#111" font-family="Liberation Sans, Arial, sans-serif" font-weight="bold">5x10<tspan font-size="6" dy="-3.5">6</tspan></text>
<text x="286.5" y="695" font-size="10.6" text-anchor="middle" fill="#111" font-family="Liberation Sans, Arial, sans-serif" font-weight="bold">d<tspan font-size="6.8" dy="2.5">33</tspan><tspan dy="-2.5">ε</tspan><tspan font-size="6.8" dy="2.5">r</tspan><tspan dy="-2.5">g (μm·pC/N)</tspan></text>
<text transform="translate(151.8,580) rotate(-90)" font-size="10.6" text-anchor="middle" fill="#111" font-family="Liberation Sans, Arial, sans-serif" font-weight="bold">μ<tspan font-size="6.8" dy="2.5">p</tspan><tspan dy="-2.5"> (μC/m)</tspan></text>
<text x="130.8" y="514.3" font-size="20" text-anchor="start" fill="#111" >(e)</text>
<line x1="197.5" y1="662.3" x2="372.8" y2="524.3" stroke="#cf2233" stroke-width="1.4" />
<rect x="195.5" y="648.6" width="4" height="4" fill="#111"/>
<rect x="195.8" y="652" width="4" height="4" fill="#111"/>
<rect x="204.8" y="650" width="4" height="4" fill="#111"/>
<rect x="228.8" y="644" width="4" height="4" fill="#111"/>
<rect x="240.5" y="636.3" width="4" height="4" fill="#111"/>
<rect x="245.7" y="637.2" width="4" height="4" fill="#111"/>
<rect x="257" y="597.2" width="4" height="4" fill="#111"/>
<rect x="334.4" y="561.7" width="4" height="4" fill="#111"/>
<rect x="370.4" y="508.5" width="4" height="4" fill="#111"/>
<rect x="210.3" y="517.6" width="4" height="4" fill="#111"/>
<text x="226.2" y="522.8" font-size="9.7" text-anchor="start" fill="#111" >Experimental data</text>
<line x1="200.8" y1="532.2" x2="222.7" y2="532.2" stroke="#cf2233" stroke-width="1.3" />
<text x="226.2" y="534.6" font-size="9.6" text-anchor="start" fill="#111" >Fitted data</text>
</svg></body></html>
